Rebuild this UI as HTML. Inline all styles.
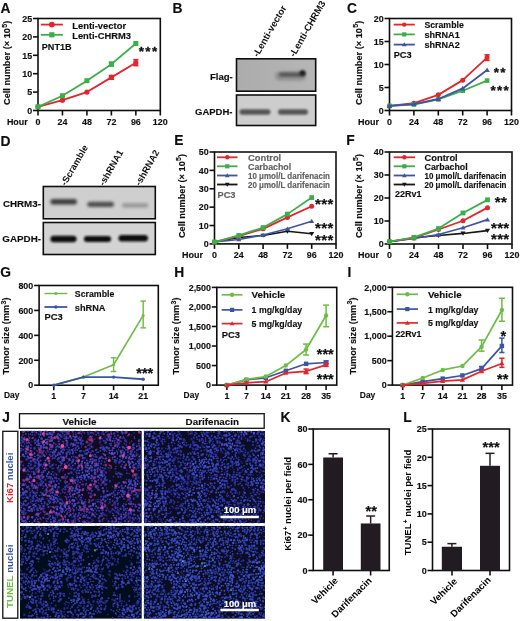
<!DOCTYPE html>
<html><head><meta charset="utf-8"><title>Figure</title>
<style>html,body{margin:0;padding:0;background:#fff;width:520px;height:621px;overflow:hidden} svg{display:block}</style>
</head><body><svg width="520" height="621" viewBox="0 0 520 621" font-family="Liberation Sans, Arial, sans-serif"><defs>
<filter id="cb" x="-5%" y="-5%" width="110%" height="110%"><feGaussianBlur stdDeviation="0.45"/></filter>
<filter id="blur1" x="-30%" y="-100%" width="160%" height="300%"><feGaussianBlur stdDeviation="0.8"/></filter>
<filter id="blur2" x="-30%" y="-100%" width="160%" height="300%"><feGaussianBlur stdDeviation="1.4"/></filter>
<linearGradient id="gB1" x1="0" y1="0" x2="1" y2="0"><stop offset="0" stop-color="#acacac"/><stop offset="0.5" stop-color="#b1b1b1"/><stop offset="1" stop-color="#b6b6b6"/></linearGradient>
<filter id="soft" x="0" y="0" width="100%" height="100%"><feGaussianBlur stdDeviation="0.3"/></filter></defs><g filter="url(#soft)"><rect width="520" height="621" fill="#fff"/><text x="0.50" y="13.40" font-size="13.8" font-weight="bold" text-anchor="start" fill="#111"  stroke="#111" stroke-width="0.15">A</text>
<rect x="38.00" y="18.50" width="122.30" height="92.00" fill="none" stroke="#111" stroke-width="1.6" />
<line x1="33.00" y1="110.50" x2="38.00" y2="110.50" stroke="#111" stroke-width="1.6" />
<text transform="translate(32.20,113.75) scale(0.96,1)" font-size="9.3" font-weight="bold" text-anchor="end" fill="#111"  stroke="#111" stroke-width="0.15">0</text>
<line x1="33.00" y1="92.10" x2="38.00" y2="92.10" stroke="#111" stroke-width="1.6" />
<text transform="translate(32.20,95.35) scale(0.96,1)" font-size="9.3" font-weight="bold" text-anchor="end" fill="#111"  stroke="#111" stroke-width="0.15">5</text>
<line x1="33.00" y1="73.70" x2="38.00" y2="73.70" stroke="#111" stroke-width="1.6" />
<text transform="translate(32.20,76.95) scale(0.96,1)" font-size="9.3" font-weight="bold" text-anchor="end" fill="#111"  stroke="#111" stroke-width="0.15">10</text>
<line x1="33.00" y1="55.30" x2="38.00" y2="55.30" stroke="#111" stroke-width="1.6" />
<text transform="translate(32.20,58.55) scale(0.96,1)" font-size="9.3" font-weight="bold" text-anchor="end" fill="#111"  stroke="#111" stroke-width="0.15">15</text>
<line x1="33.00" y1="36.90" x2="38.00" y2="36.90" stroke="#111" stroke-width="1.6" />
<text transform="translate(32.20,40.16) scale(0.96,1)" font-size="9.3" font-weight="bold" text-anchor="end" fill="#111"  stroke="#111" stroke-width="0.15">20</text>
<line x1="33.00" y1="18.50" x2="38.00" y2="18.50" stroke="#111" stroke-width="1.6" />
<text transform="translate(32.20,21.75) scale(0.96,1)" font-size="9.3" font-weight="bold" text-anchor="end" fill="#111"  stroke="#111" stroke-width="0.15">25</text>
<line x1="38.00" y1="110.50" x2="38.00" y2="115.50" stroke="#111" stroke-width="1.6" />
<text transform="translate(38.00,124.90) scale(0.96,1)" font-size="9.3" font-weight="bold" text-anchor="middle" fill="#111"  stroke="#111" stroke-width="0.15">0</text>
<line x1="62.46" y1="110.50" x2="62.46" y2="115.50" stroke="#111" stroke-width="1.6" />
<text transform="translate(62.46,124.90) scale(0.96,1)" font-size="9.3" font-weight="bold" text-anchor="middle" fill="#111"  stroke="#111" stroke-width="0.15">24</text>
<line x1="86.92" y1="110.50" x2="86.92" y2="115.50" stroke="#111" stroke-width="1.6" />
<text transform="translate(86.92,124.90) scale(0.96,1)" font-size="9.3" font-weight="bold" text-anchor="middle" fill="#111"  stroke="#111" stroke-width="0.15">48</text>
<line x1="111.38" y1="110.50" x2="111.38" y2="115.50" stroke="#111" stroke-width="1.6" />
<text transform="translate(111.38,124.90) scale(0.96,1)" font-size="9.3" font-weight="bold" text-anchor="middle" fill="#111"  stroke="#111" stroke-width="0.15">72</text>
<line x1="135.84" y1="110.50" x2="135.84" y2="115.50" stroke="#111" stroke-width="1.6" />
<text transform="translate(135.84,124.90) scale(0.96,1)" font-size="9.3" font-weight="bold" text-anchor="middle" fill="#111"  stroke="#111" stroke-width="0.15">96</text>
<line x1="160.30" y1="110.50" x2="160.30" y2="115.50" stroke="#111" stroke-width="1.6" />
<text transform="translate(160.30,124.90) scale(0.96,1)" font-size="9.3" font-weight="bold" text-anchor="middle" fill="#111"  stroke="#111" stroke-width="0.15">120</text>
<text x="6.90" y="124.90" font-size="9.84" font-weight="bold" text-anchor="start" fill="#111" textLength="20.8" lengthAdjust="spacingAndGlyphs"  stroke="#111" stroke-width="0.15">Hour</text>
<text transform="translate(10.00,62.90) rotate(-90)" font-size="9.2" font-weight="bold" text-anchor="middle" fill="#111" stroke="#111" stroke-width="0.15">Cell number (× 10<tspan dx="0.4" dy="-3.4" font-size="7">5</tspan><tspan dy="3.4">)</tspan></text>
<polyline points="38.00,106.82 62.46,100.20 86.92,92.10 111.38,77.38 135.84,62.66" fill="none" stroke="#e2252b" stroke-width="1.8" stroke-linejoin="round"/>
<line x1="135.84" y1="59.72" x2="135.84" y2="65.60" stroke="#e2252b" stroke-width="1.62" />
<line x1="133.24" y1="59.72" x2="138.44" y2="59.72" stroke="#e2252b" stroke-width="1.62" />
<line x1="133.24" y1="65.60" x2="138.44" y2="65.60" stroke="#e2252b" stroke-width="1.62" />
<line x1="111.38" y1="75.54" x2="111.38" y2="79.22" stroke="#e2252b" stroke-width="1.62" />
<line x1="108.78" y1="75.54" x2="113.98" y2="75.54" stroke="#e2252b" stroke-width="1.62" />
<line x1="108.78" y1="79.22" x2="113.98" y2="79.22" stroke="#e2252b" stroke-width="1.62" />
<circle cx="38.00" cy="106.82" r="2.60" fill="#e2252b"/>
<circle cx="62.46" cy="100.20" r="2.60" fill="#e2252b"/>
<circle cx="86.92" cy="92.10" r="2.60" fill="#e2252b"/>
<circle cx="111.38" cy="77.38" r="2.60" fill="#e2252b"/>
<circle cx="135.84" cy="62.66" r="2.60" fill="#e2252b"/>
<polyline points="38.00,106.82 62.46,95.78 86.92,80.69 111.38,64.13 135.84,43.52" fill="none" stroke="#3aae49" stroke-width="1.8" stroke-linejoin="round"/>
<line x1="111.38" y1="62.29" x2="111.38" y2="65.97" stroke="#3aae49" stroke-width="1.62" />
<line x1="108.78" y1="62.29" x2="113.98" y2="62.29" stroke="#3aae49" stroke-width="1.62" />
<line x1="108.78" y1="65.97" x2="113.98" y2="65.97" stroke="#3aae49" stroke-width="1.62" />
<rect x="35.50" y="104.32" width="5.00" height="5.00" fill="#3aae49"/>
<rect x="59.96" y="93.28" width="5.00" height="5.00" fill="#3aae49"/>
<rect x="84.42" y="78.19" width="5.00" height="5.00" fill="#3aae49"/>
<rect x="108.88" y="61.63" width="5.00" height="5.00" fill="#3aae49"/>
<rect x="133.34" y="41.02" width="5.00" height="5.00" fill="#3aae49"/>
<line x1="40.80" y1="24.60" x2="62.90" y2="24.60" stroke="#e2252b" stroke-width="1.8" />
<circle cx="51.85" cy="24.60" r="2.90" fill="#e2252b"/>
<text x="72.20" y="28.59" font-size="9.7" font-weight="bold" text-anchor="start" fill="#111" textLength="54" lengthAdjust="spacingAndGlyphs"  stroke="#111" stroke-width="0.15">Lenti-vector</text>
<line x1="40.80" y1="34.80" x2="62.90" y2="34.80" stroke="#3aae49" stroke-width="1.8" />
<rect x="49.25" y="32.20" width="5.20" height="5.20" fill="#3aae49"/>
<text x="72.20" y="38.79" font-size="9.7" font-weight="bold" text-anchor="start" fill="#111" textLength="58.8" lengthAdjust="spacingAndGlyphs"  stroke="#111" stroke-width="0.15">Lenti-CHRM3</text>
<text x="41.80" y="50.20" font-size="9.84" font-weight="bold" text-anchor="start" fill="#111" textLength="29.8" lengthAdjust="spacingAndGlyphs"  stroke="#111" stroke-width="0.15">PNT1B</text>
<text x="138.80" y="56.41" font-size="13.5" font-weight="bold" text-anchor="start" fill="#111" letter-spacing="1.3" stroke="#111" stroke-width="0.3">***</text>
<text x="172.40" y="13.40" font-size="13.8" font-weight="bold" text-anchor="start" fill="#111"  stroke="#111" stroke-width="0.15">B</text>
<rect x="236.5" y="58.8" width="79.2" height="32.4" fill="#ababab" stroke="#111" stroke-width="1.6"/>
<rect x="238" y="60.3" width="76.2" height="29.4" fill="url(#gB1)"/>
<rect x="275.0" y="71.5" width="31.0" height="9.0" rx="4.5" fill="#8e8e8e" filter="url(#blur2)"/>
<rect x="279.0" y="72.5" width="26.0" height="4.2" rx="2.1" fill="#5a5a5a" filter="url(#blur1)"/>
<ellipse cx="302.6" cy="72.9" rx="3" ry="2.6" fill="#1a1a1a" filter="url(#blur1)"/>
<rect x="236.5" y="95" width="79.2" height="30.5" fill="#cdcdcd" stroke="#111" stroke-width="1.6"/>
<rect x="239.5" y="109.2" width="31.0" height="5.5" rx="2.8" fill="#555" filter="url(#blur1)"/>
<rect x="278.0" y="109.2" width="30.0" height="5.5" rx="2.8" fill="#555" filter="url(#blur1)"/>
<text x="232.80" y="80.40" font-size="9.6" font-weight="bold" text-anchor="end" fill="#111"  stroke="#111" stroke-width="0.15">Flag-</text>
<text x="232.50" y="115.20" font-size="9.5" font-weight="bold" text-anchor="end" fill="#111"  stroke="#111" stroke-width="0.15">GAPDH-</text>
<text transform="translate(258,57.5) rotate(-60)" font-size="9.5" font-weight="bold" fill="#111">-Lenti-vector</text>
<text transform="translate(294.5,57.5) rotate(-60)" font-size="9.5" font-weight="bold" fill="#111">-Lenti-CHRM3</text>
<text x="346.90" y="13.40" font-size="13.8" font-weight="bold" text-anchor="start" fill="#111"  stroke="#111" stroke-width="0.15">C</text>
<rect x="389.50" y="18.50" width="122.00" height="92.00" fill="none" stroke="#111" stroke-width="1.6" />
<line x1="384.50" y1="110.50" x2="389.50" y2="110.50" stroke="#111" stroke-width="1.6" />
<text transform="translate(383.70,113.75) scale(0.96,1)" font-size="9.3" font-weight="bold" text-anchor="end" fill="#111"  stroke="#111" stroke-width="0.15">0</text>
<line x1="384.50" y1="87.50" x2="389.50" y2="87.50" stroke="#111" stroke-width="1.6" />
<text transform="translate(383.70,90.75) scale(0.96,1)" font-size="9.3" font-weight="bold" text-anchor="end" fill="#111"  stroke="#111" stroke-width="0.15">5</text>
<line x1="384.50" y1="64.50" x2="389.50" y2="64.50" stroke="#111" stroke-width="1.6" />
<text transform="translate(383.70,67.75) scale(0.96,1)" font-size="9.3" font-weight="bold" text-anchor="end" fill="#111"  stroke="#111" stroke-width="0.15">10</text>
<line x1="384.50" y1="41.50" x2="389.50" y2="41.50" stroke="#111" stroke-width="1.6" />
<text transform="translate(383.70,44.76) scale(0.96,1)" font-size="9.3" font-weight="bold" text-anchor="end" fill="#111"  stroke="#111" stroke-width="0.15">15</text>
<line x1="384.50" y1="18.50" x2="389.50" y2="18.50" stroke="#111" stroke-width="1.6" />
<text transform="translate(383.70,21.75) scale(0.96,1)" font-size="9.3" font-weight="bold" text-anchor="end" fill="#111"  stroke="#111" stroke-width="0.15">20</text>
<line x1="389.50" y1="110.50" x2="389.50" y2="115.50" stroke="#111" stroke-width="1.6" />
<text transform="translate(389.50,124.90) scale(0.96,1)" font-size="9.3" font-weight="bold" text-anchor="middle" fill="#111"  stroke="#111" stroke-width="0.15">0</text>
<line x1="413.90" y1="110.50" x2="413.90" y2="115.50" stroke="#111" stroke-width="1.6" />
<text transform="translate(413.90,124.90) scale(0.96,1)" font-size="9.3" font-weight="bold" text-anchor="middle" fill="#111"  stroke="#111" stroke-width="0.15">24</text>
<line x1="438.30" y1="110.50" x2="438.30" y2="115.50" stroke="#111" stroke-width="1.6" />
<text transform="translate(438.30,124.90) scale(0.96,1)" font-size="9.3" font-weight="bold" text-anchor="middle" fill="#111"  stroke="#111" stroke-width="0.15">48</text>
<line x1="462.70" y1="110.50" x2="462.70" y2="115.50" stroke="#111" stroke-width="1.6" />
<text transform="translate(462.70,124.90) scale(0.96,1)" font-size="9.3" font-weight="bold" text-anchor="middle" fill="#111"  stroke="#111" stroke-width="0.15">72</text>
<line x1="487.10" y1="110.50" x2="487.10" y2="115.50" stroke="#111" stroke-width="1.6" />
<text transform="translate(487.10,124.90) scale(0.96,1)" font-size="9.3" font-weight="bold" text-anchor="middle" fill="#111"  stroke="#111" stroke-width="0.15">96</text>
<line x1="511.50" y1="110.50" x2="511.50" y2="115.50" stroke="#111" stroke-width="1.6" />
<text transform="translate(511.50,124.90) scale(0.96,1)" font-size="9.3" font-weight="bold" text-anchor="middle" fill="#111"  stroke="#111" stroke-width="0.15">120</text>
<text x="358.00" y="124.90" font-size="9.84" font-weight="bold" text-anchor="start" fill="#111" textLength="21" lengthAdjust="spacingAndGlyphs"  stroke="#111" stroke-width="0.15">Hour</text>
<text transform="translate(361.50,62.90) rotate(-90)" font-size="9.2" font-weight="bold" text-anchor="middle" fill="#111" stroke="#111" stroke-width="0.15">Cell number (× 10<tspan dx="0.4" dy="-3.4" font-size="7">5</tspan><tspan dy="3.4">)</tspan></text>
<polyline points="389.50,105.90 413.90,103.14 438.30,94.86 462.70,80.14 487.10,57.60" fill="none" stroke="#e2252b" stroke-width="1.8" stroke-linejoin="round"/>
<line x1="487.10" y1="54.84" x2="487.10" y2="60.36" stroke="#e2252b" stroke-width="1.62" />
<line x1="484.50" y1="54.84" x2="489.70" y2="54.84" stroke="#e2252b" stroke-width="1.62" />
<line x1="484.50" y1="60.36" x2="489.70" y2="60.36" stroke="#e2252b" stroke-width="1.62" />
<circle cx="389.50" cy="105.90" r="2.50" fill="#e2252b"/>
<circle cx="413.90" cy="103.14" r="2.50" fill="#e2252b"/>
<circle cx="438.30" cy="94.86" r="2.50" fill="#e2252b"/>
<circle cx="462.70" cy="80.14" r="2.50" fill="#e2252b"/>
<circle cx="487.10" cy="57.60" r="2.50" fill="#e2252b"/>
<polyline points="389.50,105.90 413.90,104.52 438.30,99.46 462.70,90.72 487.10,80.60" fill="none" stroke="#3aae49" stroke-width="1.8" stroke-linejoin="round"/>
<rect x="387.20" y="103.60" width="4.60" height="4.60" fill="#3aae49"/>
<rect x="411.60" y="102.22" width="4.60" height="4.60" fill="#3aae49"/>
<rect x="436.00" y="97.16" width="4.60" height="4.60" fill="#3aae49"/>
<rect x="460.40" y="88.42" width="4.60" height="4.60" fill="#3aae49"/>
<rect x="484.80" y="78.30" width="4.60" height="4.60" fill="#3aae49"/>
<polyline points="389.50,105.90 413.90,104.06 438.30,99.00 462.70,88.42 487.10,70.02" fill="none" stroke="#3b55a5" stroke-width="1.8" stroke-linejoin="round"/>
<polygon points="389.50,103.26 392.26,107.88 386.74,107.88" fill="#3b55a5"/>
<polygon points="413.90,101.42 416.66,106.04 411.14,106.04" fill="#3b55a5"/>
<polygon points="438.30,96.36 441.06,100.98 435.54,100.98" fill="#3b55a5"/>
<polygon points="462.70,85.78 465.46,90.40 459.94,90.40" fill="#3b55a5"/>
<polygon points="487.10,67.38 489.86,72.00 484.34,72.00" fill="#3b55a5"/>
<line x1="393.70" y1="24.60" x2="414.80" y2="24.60" stroke="#e2252b" stroke-width="1.8" />
<circle cx="404.25" cy="24.60" r="2.20" fill="#e2252b"/>
<text x="424.40" y="28.18" font-size="9.95" font-weight="bold" text-anchor="start" fill="#111" textLength="39.4" lengthAdjust="spacingAndGlyphs"  stroke="#111" stroke-width="0.15">Scramble</text>
<line x1="393.70" y1="34.40" x2="414.80" y2="34.40" stroke="#3aae49" stroke-width="1.8" />
<rect x="402.15" y="32.30" width="4.20" height="4.20" fill="#3aae49"/>
<text x="424.40" y="37.98" font-size="9.95" font-weight="bold" text-anchor="start" fill="#111" textLength="35.3" lengthAdjust="spacingAndGlyphs"  stroke="#111" stroke-width="0.15">shRNA1</text>
<line x1="393.70" y1="44.60" x2="414.80" y2="44.60" stroke="#3b55a5" stroke-width="1.8" />
<polygon points="404.25,42.29 406.67,46.33 401.83,46.33" fill="#3b55a5"/>
<text x="424.40" y="48.18" font-size="9.95" font-weight="bold" text-anchor="start" fill="#111" textLength="35.3" lengthAdjust="spacingAndGlyphs"  stroke="#111" stroke-width="0.15">shRNA2</text>
<text x="393.70" y="58.30" font-size="9.84" font-weight="bold" text-anchor="start" fill="#111" textLength="18" lengthAdjust="spacingAndGlyphs"  stroke="#111" stroke-width="0.15">PC3</text>
<text x="493.80" y="77.11" font-size="13.5" font-weight="bold" text-anchor="start" fill="#111" letter-spacing="1.3" stroke="#111" stroke-width="0.3">**</text>
<text x="490.40" y="94.92" font-size="13.5" font-weight="bold" text-anchor="start" fill="#111" letter-spacing="1.3" stroke="#111" stroke-width="0.3">***</text>
<text x="0.40" y="145.80" font-size="13.8" font-weight="bold" text-anchor="start" fill="#111"  stroke="#111" stroke-width="0.15">D</text>
<rect x="43.3" y="186.5" width="112" height="32.3" fill="#cfcfcf" stroke="#111" stroke-width="1.6"/>
<rect x="50.4" y="199.0" width="26.6" height="5.6" rx="2.8" fill="#3c3c3c" filter="url(#blur2)"/>
<rect x="87.3" y="201.7" width="26.7" height="5.2" rx="2.6" fill="#4e4e4e" filter="url(#blur2)"/>
<rect x="122.0" y="202.9" width="26.5" height="4.8" rx="2.4" fill="#9a9a9a" filter="url(#blur2)"/>
<rect x="43.3" y="222.5" width="112" height="32" fill="#d3d3d3" stroke="#111" stroke-width="1.6"/>
<rect x="50.4" y="235.7" width="26.1" height="6.6" rx="3.3" fill="#0e0e0e" filter="url(#blur1)"/>
<rect x="83.9" y="235.9" width="27.2" height="6.0" rx="3.0" fill="#0e0e0e" filter="url(#blur1)"/>
<rect x="118.5" y="234.9" width="29.5" height="6.6" rx="3.3" fill="#0e0e0e" filter="url(#blur1)"/>
<text x="41.00" y="206.60" font-size="9.8" font-weight="bold" text-anchor="end" fill="#111"  stroke="#111" stroke-width="0.15">CHRM3-</text>
<text x="41.00" y="242.40" font-size="9.8" font-weight="bold" text-anchor="end" fill="#111"  stroke="#111" stroke-width="0.15">GAPDH-</text>
<text transform="translate(65.8,186.3) rotate(-60)" font-size="9.3" font-weight="bold" fill="#111">-Scramble</text>
<text transform="translate(104,186.3) rotate(-60)" font-size="9.3" font-weight="bold" fill="#111">-shRNA1</text>
<text transform="translate(140,186.3) rotate(-60)" font-size="9.3" font-weight="bold" fill="#111">-shRNA2</text>
<text x="174.20" y="145.20" font-size="13.8" font-weight="bold" text-anchor="start" fill="#111"  stroke="#111" stroke-width="0.15">E</text>
<rect x="214.50" y="152.00" width="121.50" height="91.90" fill="none" stroke="#111" stroke-width="1.6" />
<line x1="209.50" y1="243.90" x2="214.50" y2="243.90" stroke="#111" stroke-width="1.6" />
<text transform="translate(208.70,247.16) scale(0.96,1)" font-size="9.3" font-weight="bold" text-anchor="end" fill="#111"  stroke="#111" stroke-width="0.15">0</text>
<line x1="209.50" y1="225.52" x2="214.50" y2="225.52" stroke="#111" stroke-width="1.6" />
<text transform="translate(208.70,228.78) scale(0.96,1)" font-size="9.3" font-weight="bold" text-anchor="end" fill="#111"  stroke="#111" stroke-width="0.15">10</text>
<line x1="209.50" y1="207.14" x2="214.50" y2="207.14" stroke="#111" stroke-width="1.6" />
<text transform="translate(208.70,210.40) scale(0.96,1)" font-size="9.3" font-weight="bold" text-anchor="end" fill="#111"  stroke="#111" stroke-width="0.15">20</text>
<line x1="209.50" y1="188.76" x2="214.50" y2="188.76" stroke="#111" stroke-width="1.6" />
<text transform="translate(208.70,192.01) scale(0.96,1)" font-size="9.3" font-weight="bold" text-anchor="end" fill="#111"  stroke="#111" stroke-width="0.15">30</text>
<line x1="209.50" y1="170.38" x2="214.50" y2="170.38" stroke="#111" stroke-width="1.6" />
<text transform="translate(208.70,173.63) scale(0.96,1)" font-size="9.3" font-weight="bold" text-anchor="end" fill="#111"  stroke="#111" stroke-width="0.15">40</text>
<line x1="209.50" y1="152.00" x2="214.50" y2="152.00" stroke="#111" stroke-width="1.6" />
<text transform="translate(208.70,155.25) scale(0.96,1)" font-size="9.3" font-weight="bold" text-anchor="end" fill="#111"  stroke="#111" stroke-width="0.15">50</text>
<line x1="214.50" y1="243.90" x2="214.50" y2="248.90" stroke="#111" stroke-width="1.6" />
<text transform="translate(214.50,258.30) scale(0.96,1)" font-size="9.3" font-weight="bold" text-anchor="middle" fill="#111"  stroke="#111" stroke-width="0.15">0</text>
<line x1="238.80" y1="243.90" x2="238.80" y2="248.90" stroke="#111" stroke-width="1.6" />
<text transform="translate(238.80,258.30) scale(0.96,1)" font-size="9.3" font-weight="bold" text-anchor="middle" fill="#111"  stroke="#111" stroke-width="0.15">24</text>
<line x1="263.10" y1="243.90" x2="263.10" y2="248.90" stroke="#111" stroke-width="1.6" />
<text transform="translate(263.10,258.30) scale(0.96,1)" font-size="9.3" font-weight="bold" text-anchor="middle" fill="#111"  stroke="#111" stroke-width="0.15">48</text>
<line x1="287.40" y1="243.90" x2="287.40" y2="248.90" stroke="#111" stroke-width="1.6" />
<text transform="translate(287.40,258.30) scale(0.96,1)" font-size="9.3" font-weight="bold" text-anchor="middle" fill="#111"  stroke="#111" stroke-width="0.15">72</text>
<line x1="311.70" y1="243.90" x2="311.70" y2="248.90" stroke="#111" stroke-width="1.6" />
<text transform="translate(311.70,258.30) scale(0.96,1)" font-size="9.3" font-weight="bold" text-anchor="middle" fill="#111"  stroke="#111" stroke-width="0.15">96</text>
<line x1="336.00" y1="243.90" x2="336.00" y2="248.90" stroke="#111" stroke-width="1.6" />
<text transform="translate(336.00,258.30) scale(0.96,1)" font-size="9.3" font-weight="bold" text-anchor="middle" fill="#111"  stroke="#111" stroke-width="0.15">120</text>
<text x="182.00" y="258.00" font-size="9.84" font-weight="bold" text-anchor="start" fill="#111" textLength="21" lengthAdjust="spacingAndGlyphs"  stroke="#111" stroke-width="0.15">Hour</text>
<text transform="translate(184.60,196.00) rotate(-90)" font-size="9.2" font-weight="bold" text-anchor="middle" fill="#111" stroke="#111" stroke-width="0.15">Cell number (× 10<tspan dx="0.4" dy="-3.4" font-size="7">5</tspan><tspan dy="3.4">)</tspan></text>
<polyline points="214.50,242.06 238.80,237.47 263.10,235.45 287.40,231.22 311.70,233.79" fill="none" stroke="#151515" stroke-width="1.6" stroke-linejoin="round"/>
<polygon points="214.50,244.48 217.03,240.25 211.97,240.25" fill="#151515"/>
<polygon points="238.80,239.89 241.33,235.65 236.27,235.65" fill="#151515"/>
<polygon points="263.10,237.87 265.63,233.63 260.57,233.63" fill="#151515"/>
<polygon points="287.40,233.64 289.93,229.40 284.87,229.40" fill="#151515"/>
<polygon points="311.70,236.21 314.23,231.98 309.17,231.98" fill="#151515"/>
<polyline points="214.50,242.06 238.80,239.49 263.10,235.08 287.40,228.83 311.70,221.29" fill="none" stroke="#3b55a5" stroke-width="1.6" stroke-linejoin="round"/>
<polygon points="214.50,239.64 217.03,243.88 211.97,243.88" fill="#3b55a5"/>
<polygon points="238.80,237.07 241.33,241.30 236.27,241.30" fill="#3b55a5"/>
<polygon points="263.10,232.66 265.63,236.89 260.57,236.89" fill="#3b55a5"/>
<polygon points="287.40,226.41 289.93,230.64 284.87,230.64" fill="#3b55a5"/>
<polygon points="311.70,218.87 314.23,223.11 309.17,223.11" fill="#3b55a5"/>
<polyline points="214.50,242.06 238.80,236.18 263.10,228.83 287.40,217.43 311.70,206.22" fill="none" stroke="#e2252b" stroke-width="1.8" stroke-linejoin="round"/>
<circle cx="214.50" cy="242.06" r="2.50" fill="#e2252b"/>
<circle cx="238.80" cy="236.18" r="2.50" fill="#e2252b"/>
<circle cx="263.10" cy="228.83" r="2.50" fill="#e2252b"/>
<circle cx="287.40" cy="217.43" r="2.50" fill="#e2252b"/>
<circle cx="311.70" cy="206.22" r="2.50" fill="#e2252b"/>
<polyline points="214.50,242.06 238.80,235.45 263.10,227.54 287.40,214.12 311.70,197.58" fill="none" stroke="#3aae49" stroke-width="1.8" stroke-linejoin="round"/>
<rect x="212.10" y="239.66" width="4.80" height="4.80" fill="#3aae49"/>
<rect x="236.40" y="233.05" width="4.80" height="4.80" fill="#3aae49"/>
<rect x="260.70" y="225.14" width="4.80" height="4.80" fill="#3aae49"/>
<rect x="285.00" y="211.72" width="4.80" height="4.80" fill="#3aae49"/>
<rect x="309.30" y="195.18" width="4.80" height="4.80" fill="#3aae49"/>
<line x1="217.00" y1="157.30" x2="237.50" y2="157.30" stroke="#e2252b" stroke-width="1.8" />
<circle cx="227.25" cy="157.30" r="2.20" fill="#e2252b"/>
<text x="248.00" y="160.69" font-size="9.42" font-weight="bold" text-anchor="start" fill="#606060" textLength="33.2" lengthAdjust="spacingAndGlyphs"  stroke="#606060" stroke-width="0.15">Control</text>
<line x1="217.00" y1="166.30" x2="237.50" y2="166.30" stroke="#3aae49" stroke-width="1.8" />
<rect x="225.15" y="164.20" width="4.20" height="4.20" fill="#3aae49"/>
<text x="248.00" y="169.69" font-size="9.42" font-weight="bold" text-anchor="start" fill="#606060" textLength="43.2" lengthAdjust="spacingAndGlyphs"  stroke="#606060" stroke-width="0.15">Carbachol</text>
<line x1="217.00" y1="175.50" x2="237.50" y2="175.50" stroke="#3b55a5" stroke-width="1.8" />
<polygon points="227.25,173.30 229.55,177.15 224.95,177.15" fill="#3b55a5"/>
<text x="248.00" y="178.81" font-size="9.2" font-weight="bold" text-anchor="start" fill="#606060" textLength="82" lengthAdjust="spacingAndGlyphs"  stroke="#606060" stroke-width="0.15">10 μmol/L darifenacin</text>
<line x1="217.00" y1="184.50" x2="237.50" y2="184.50" stroke="#151515" stroke-width="1.8" />
<polygon points="227.25,186.70 229.55,182.85 224.95,182.85" fill="#151515"/>
<text x="248.00" y="187.81" font-size="9.2" font-weight="bold" text-anchor="start" fill="#606060" textLength="82" lengthAdjust="spacingAndGlyphs"  stroke="#606060" stroke-width="0.15">20 μmol/L darifenacin</text>
<text x="217.50" y="198.00" font-size="9.84" font-weight="bold" text-anchor="start" fill="#606060" textLength="18" lengthAdjust="spacingAndGlyphs"  stroke="#606060" stroke-width="0.15">PC3</text>
<text x="315.10" y="209.35" font-size="15" font-weight="bold" text-anchor="start" fill="#111" letter-spacing="0.4" stroke="#111" stroke-width="0.2">***</text>
<text x="315.10" y="233.15" font-size="15" font-weight="bold" text-anchor="start" fill="#111" letter-spacing="0.4" stroke="#111" stroke-width="0.2">***</text>
<text x="315.10" y="245.15" font-size="15" font-weight="bold" text-anchor="start" fill="#111" letter-spacing="0.4" stroke="#111" stroke-width="0.2">***</text>
<text x="346.20" y="145.20" font-size="13.8" font-weight="bold" text-anchor="start" fill="#111"  stroke="#111" stroke-width="0.15">F</text>
<rect x="389.50" y="152.00" width="122.50" height="92.00" fill="none" stroke="#111" stroke-width="1.6" />
<line x1="384.50" y1="244.00" x2="389.50" y2="244.00" stroke="#111" stroke-width="1.6" />
<text transform="translate(383.70,247.25) scale(0.96,1)" font-size="9.3" font-weight="bold" text-anchor="end" fill="#111"  stroke="#111" stroke-width="0.15">0</text>
<line x1="384.50" y1="221.00" x2="389.50" y2="221.00" stroke="#111" stroke-width="1.6" />
<text transform="translate(383.70,224.25) scale(0.96,1)" font-size="9.3" font-weight="bold" text-anchor="end" fill="#111"  stroke="#111" stroke-width="0.15">10</text>
<line x1="384.50" y1="198.00" x2="389.50" y2="198.00" stroke="#111" stroke-width="1.6" />
<text transform="translate(383.70,201.25) scale(0.96,1)" font-size="9.3" font-weight="bold" text-anchor="end" fill="#111"  stroke="#111" stroke-width="0.15">20</text>
<line x1="384.50" y1="175.00" x2="389.50" y2="175.00" stroke="#111" stroke-width="1.6" />
<text transform="translate(383.70,178.25) scale(0.96,1)" font-size="9.3" font-weight="bold" text-anchor="end" fill="#111"  stroke="#111" stroke-width="0.15">30</text>
<line x1="384.50" y1="152.00" x2="389.50" y2="152.00" stroke="#111" stroke-width="1.6" />
<text transform="translate(383.70,155.25) scale(0.96,1)" font-size="9.3" font-weight="bold" text-anchor="end" fill="#111"  stroke="#111" stroke-width="0.15">40</text>
<line x1="389.50" y1="244.00" x2="389.50" y2="249.00" stroke="#111" stroke-width="1.6" />
<text transform="translate(389.50,258.40) scale(0.96,1)" font-size="9.3" font-weight="bold" text-anchor="middle" fill="#111"  stroke="#111" stroke-width="0.15">0</text>
<line x1="414.00" y1="244.00" x2="414.00" y2="249.00" stroke="#111" stroke-width="1.6" />
<text transform="translate(414.00,258.40) scale(0.96,1)" font-size="9.3" font-weight="bold" text-anchor="middle" fill="#111"  stroke="#111" stroke-width="0.15">24</text>
<line x1="438.50" y1="244.00" x2="438.50" y2="249.00" stroke="#111" stroke-width="1.6" />
<text transform="translate(438.50,258.40) scale(0.96,1)" font-size="9.3" font-weight="bold" text-anchor="middle" fill="#111"  stroke="#111" stroke-width="0.15">48</text>
<line x1="463.00" y1="244.00" x2="463.00" y2="249.00" stroke="#111" stroke-width="1.6" />
<text transform="translate(463.00,258.40) scale(0.96,1)" font-size="9.3" font-weight="bold" text-anchor="middle" fill="#111"  stroke="#111" stroke-width="0.15">72</text>
<line x1="487.50" y1="244.00" x2="487.50" y2="249.00" stroke="#111" stroke-width="1.6" />
<text transform="translate(487.50,258.40) scale(0.96,1)" font-size="9.3" font-weight="bold" text-anchor="middle" fill="#111"  stroke="#111" stroke-width="0.15">96</text>
<line x1="512.00" y1="244.00" x2="512.00" y2="249.00" stroke="#111" stroke-width="1.6" />
<text transform="translate(512.00,258.40) scale(0.96,1)" font-size="9.3" font-weight="bold" text-anchor="middle" fill="#111"  stroke="#111" stroke-width="0.15">120</text>
<text x="358.00" y="258.00" font-size="9.84" font-weight="bold" text-anchor="start" fill="#111" textLength="21" lengthAdjust="spacingAndGlyphs"  stroke="#111" stroke-width="0.15">Hour</text>
<text transform="translate(361.50,196.00) rotate(-90)" font-size="9.2" font-weight="bold" text-anchor="middle" fill="#111" stroke="#111" stroke-width="0.15">Cell number (× 10<tspan dx="0.4" dy="-3.4" font-size="7">5</tspan><tspan dy="3.4">)</tspan></text>
<polyline points="389.50,241.70 414.00,237.79 438.50,235.49 463.00,233.42 487.50,230.66" fill="none" stroke="#151515" stroke-width="1.6" stroke-linejoin="round"/>
<polygon points="389.50,244.12 392.03,239.88 386.97,239.88" fill="#151515"/>
<polygon points="414.00,240.21 416.53,235.97 411.47,235.97" fill="#151515"/>
<polygon points="438.50,237.91 441.03,233.68 435.97,233.68" fill="#151515"/>
<polygon points="463.00,235.84 465.53,231.60 460.47,231.60" fill="#151515"/>
<polygon points="487.50,233.08 490.03,228.84 484.97,228.84" fill="#151515"/>
<polyline points="389.50,241.70 414.00,238.48 438.50,234.57 463.00,227.67 487.50,219.62" fill="none" stroke="#3b55a5" stroke-width="1.6" stroke-linejoin="round"/>
<polygon points="389.50,239.28 392.03,243.51 386.97,243.51" fill="#3b55a5"/>
<polygon points="414.00,236.06 416.53,240.29 411.47,240.29" fill="#3b55a5"/>
<polygon points="438.50,232.15 441.03,236.38 435.97,236.38" fill="#3b55a5"/>
<polygon points="463.00,225.25 465.53,229.49 460.47,229.49" fill="#3b55a5"/>
<polygon points="487.50,217.20 490.03,221.44 484.97,221.44" fill="#3b55a5"/>
<polyline points="389.50,241.70 414.00,238.02 438.50,229.51 463.00,220.77 487.50,207.66" fill="none" stroke="#e2252b" stroke-width="1.8" stroke-linejoin="round"/>
<circle cx="389.50" cy="241.70" r="2.50" fill="#e2252b"/>
<circle cx="414.00" cy="238.02" r="2.50" fill="#e2252b"/>
<circle cx="438.50" cy="229.51" r="2.50" fill="#e2252b"/>
<circle cx="463.00" cy="220.77" r="2.50" fill="#e2252b"/>
<circle cx="487.50" cy="207.66" r="2.50" fill="#e2252b"/>
<polyline points="389.50,241.70 414.00,237.33 438.50,228.59 463.00,212.95 487.50,199.84" fill="none" stroke="#3aae49" stroke-width="1.8" stroke-linejoin="round"/>
<rect x="387.10" y="239.30" width="4.80" height="4.80" fill="#3aae49"/>
<rect x="411.60" y="234.93" width="4.80" height="4.80" fill="#3aae49"/>
<rect x="436.10" y="226.19" width="4.80" height="4.80" fill="#3aae49"/>
<rect x="460.60" y="210.55" width="4.80" height="4.80" fill="#3aae49"/>
<rect x="485.10" y="197.44" width="4.80" height="4.80" fill="#3aae49"/>
<line x1="393.70" y1="157.30" x2="415.00" y2="157.30" stroke="#e2252b" stroke-width="1.8" />
<circle cx="404.35" cy="157.30" r="2.20" fill="#e2252b"/>
<text x="424.50" y="160.69" font-size="9.42" font-weight="bold" text-anchor="start" fill="#111" textLength="33.2" lengthAdjust="spacingAndGlyphs"  stroke="#111" stroke-width="0.15">Control</text>
<line x1="393.70" y1="166.30" x2="415.00" y2="166.30" stroke="#3aae49" stroke-width="1.8" />
<rect x="402.25" y="164.20" width="4.20" height="4.20" fill="#3aae49"/>
<text x="424.50" y="169.69" font-size="9.42" font-weight="bold" text-anchor="start" fill="#111" textLength="43.2" lengthAdjust="spacingAndGlyphs"  stroke="#111" stroke-width="0.15">Carbachol</text>
<line x1="393.70" y1="175.50" x2="415.00" y2="175.50" stroke="#3b55a5" stroke-width="1.8" />
<polygon points="404.35,173.30 406.65,177.15 402.05,177.15" fill="#3b55a5"/>
<text x="424.50" y="178.81" font-size="9.2" font-weight="bold" text-anchor="start" fill="#111" textLength="82" lengthAdjust="spacingAndGlyphs"  stroke="#111" stroke-width="0.15">10 μmol/L darifenacin</text>
<line x1="393.70" y1="184.50" x2="415.00" y2="184.50" stroke="#151515" stroke-width="1.8" />
<polygon points="404.35,186.70 406.65,182.85 402.05,182.85" fill="#151515"/>
<text x="424.50" y="187.81" font-size="9.2" font-weight="bold" text-anchor="start" fill="#111" textLength="82" lengthAdjust="spacingAndGlyphs"  stroke="#111" stroke-width="0.15">20 μmol/L darifenacin</text>
<text x="394.90" y="197.00" font-size="9.84" font-weight="bold" text-anchor="start" fill="#111" textLength="26.5" lengthAdjust="spacingAndGlyphs"  stroke="#111" stroke-width="0.15">22Rv1</text>
<text x="494.80" y="207.25" font-size="15" font-weight="bold" text-anchor="start" fill="#111" letter-spacing="0.4" stroke="#111" stroke-width="0.2">**</text>
<text x="490.90" y="233.15" font-size="15" font-weight="bold" text-anchor="start" fill="#111" letter-spacing="0.4" stroke="#111" stroke-width="0.2">***</text>
<text x="490.90" y="243.95" font-size="15" font-weight="bold" text-anchor="start" fill="#111" letter-spacing="0.4" stroke="#111" stroke-width="0.2">***</text>
<text x="0.30" y="277.00" font-size="13.8" font-weight="bold" text-anchor="start" fill="#111"  stroke="#111" stroke-width="0.15">G</text>
<rect x="39.10" y="285.50" width="119.20" height="99.70" fill="none" stroke="#111" stroke-width="1.6" />
<line x1="34.10" y1="385.20" x2="39.10" y2="385.20" stroke="#111" stroke-width="1.6" />
<text transform="translate(33.30,388.45) scale(0.96,1)" font-size="9.3" font-weight="bold" text-anchor="end" fill="#111"  stroke="#111" stroke-width="0.15">0</text>
<line x1="34.10" y1="360.27" x2="39.10" y2="360.27" stroke="#111" stroke-width="1.6" />
<text transform="translate(33.30,363.53) scale(0.96,1)" font-size="9.3" font-weight="bold" text-anchor="end" fill="#111"  stroke="#111" stroke-width="0.15">200</text>
<line x1="34.10" y1="335.35" x2="39.10" y2="335.35" stroke="#111" stroke-width="1.6" />
<text transform="translate(33.30,338.61) scale(0.96,1)" font-size="9.3" font-weight="bold" text-anchor="end" fill="#111"  stroke="#111" stroke-width="0.15">400</text>
<line x1="34.10" y1="310.43" x2="39.10" y2="310.43" stroke="#111" stroke-width="1.6" />
<text transform="translate(33.30,313.68) scale(0.96,1)" font-size="9.3" font-weight="bold" text-anchor="end" fill="#111"  stroke="#111" stroke-width="0.15">600</text>
<line x1="34.10" y1="285.50" x2="39.10" y2="285.50" stroke="#111" stroke-width="1.6" />
<text transform="translate(33.30,288.75) scale(0.96,1)" font-size="9.3" font-weight="bold" text-anchor="end" fill="#111"  stroke="#111" stroke-width="0.15">800</text>
<line x1="53.80" y1="385.20" x2="53.80" y2="390.20" stroke="#111" stroke-width="1.6" />
<line x1="83.50" y1="385.20" x2="83.50" y2="390.20" stroke="#111" stroke-width="1.6" />
<line x1="113.60" y1="385.20" x2="113.60" y2="390.20" stroke="#111" stroke-width="1.6" />
<line x1="143.20" y1="385.20" x2="143.20" y2="390.20" stroke="#111" stroke-width="1.6" />
<text transform="translate(53.80,399.40) scale(0.96,1)" font-size="9.3" font-weight="bold" text-anchor="middle" fill="#111"  stroke="#111" stroke-width="0.15">1</text>
<text transform="translate(83.50,399.40) scale(0.96,1)" font-size="9.3" font-weight="bold" text-anchor="middle" fill="#111"  stroke="#111" stroke-width="0.15">7</text>
<text transform="translate(113.60,399.40) scale(0.96,1)" font-size="9.3" font-weight="bold" text-anchor="middle" fill="#111"  stroke="#111" stroke-width="0.15">14</text>
<text transform="translate(143.20,399.40) scale(0.96,1)" font-size="9.3" font-weight="bold" text-anchor="middle" fill="#111"  stroke="#111" stroke-width="0.15">21</text>
<text x="4.00" y="397.80" font-size="9.84" font-weight="bold" text-anchor="start" fill="#111" textLength="15.5" lengthAdjust="spacingAndGlyphs"  stroke="#111" stroke-width="0.15">Day</text>
<text transform="translate(9.00,336.00) rotate(-90)" font-size="9.2" font-weight="bold" text-anchor="middle" fill="#111" stroke="#111" stroke-width="0.15">Tumor size (mm<tspan dx="0.3" dy="-3.4" font-size="7">3</tspan><tspan dy="3.4">)</tspan></text>
<polyline points="53.80,385.20 83.50,377.10 113.60,364.76 143.20,315.41" fill="none" stroke="#6dbd45" stroke-width="1.6" stroke-linejoin="round"/>
<line x1="113.60" y1="357.78" x2="113.60" y2="371.49" stroke="#6dbd45" stroke-width="1.4400000000000002" />
<line x1="110.80" y1="357.78" x2="116.40" y2="357.78" stroke="#6dbd45" stroke-width="1.4400000000000002" />
<line x1="110.80" y1="371.49" x2="116.40" y2="371.49" stroke="#6dbd45" stroke-width="1.4400000000000002" />
<line x1="143.20" y1="301.08" x2="143.20" y2="327.87" stroke="#6dbd45" stroke-width="1.4400000000000002" />
<line x1="140.40" y1="301.08" x2="146.00" y2="301.08" stroke="#6dbd45" stroke-width="1.4400000000000002" />
<line x1="140.40" y1="327.87" x2="146.00" y2="327.87" stroke="#6dbd45" stroke-width="1.4400000000000002" />
<circle cx="53.80" cy="385.20" r="1.50" fill="#6dbd45"/>
<circle cx="83.50" cy="377.10" r="1.50" fill="#6dbd45"/>
<circle cx="113.60" cy="364.76" r="1.50" fill="#6dbd45"/>
<circle cx="143.20" cy="315.41" r="1.50" fill="#6dbd45"/>
<polyline points="53.80,385.20 83.50,377.10 113.60,377.10 143.20,379.22" fill="none" stroke="#3b55a5" stroke-width="1.9" stroke-linejoin="round"/>
<circle cx="53.80" cy="385.20" r="1.70" fill="#3b55a5"/>
<circle cx="83.50" cy="377.10" r="1.70" fill="#3b55a5"/>
<circle cx="113.60" cy="377.10" r="1.70" fill="#3b55a5"/>
<circle cx="143.20" cy="379.22" r="1.70" fill="#3b55a5"/>
<line x1="44.40" y1="293.50" x2="67.30" y2="293.50" stroke="#6dbd45" stroke-width="1.4" />
<circle cx="55.85" cy="293.50" r="1.50" fill="#6dbd45"/>
<text x="74.80" y="297.08" font-size="9.95" font-weight="bold" text-anchor="start" fill="#111" textLength="39.6" lengthAdjust="spacingAndGlyphs"  stroke="#111" stroke-width="0.15">Scramble</text>
<line x1="44.40" y1="307.00" x2="67.30" y2="307.00" stroke="#3b55a5" stroke-width="1.8" />
<circle cx="55.85" cy="307.00" r="1.70" fill="#3b55a5"/>
<text x="74.80" y="310.58" font-size="9.95" font-weight="bold" text-anchor="start" fill="#111" textLength="30.7" lengthAdjust="spacingAndGlyphs"  stroke="#111" stroke-width="0.15">shRNA</text>
<text x="44.40" y="319.80" font-size="9.84" font-weight="bold" text-anchor="start" fill="#111" textLength="18.3" lengthAdjust="spacingAndGlyphs"  stroke="#111" stroke-width="0.15">PC3</text>
<text x="136.30" y="377.50" font-size="14.5" font-weight="bold" text-anchor="start" fill="#111" letter-spacing="0" stroke="#111" stroke-width="0.2">***</text>
<text x="174.20" y="277.00" font-size="13.8" font-weight="bold" text-anchor="start" fill="#111"  stroke="#111" stroke-width="0.15">H</text>
<rect x="216.80" y="287.40" width="119.95" height="97.70" fill="none" stroke="#111" stroke-width="1.6" />
<line x1="211.80" y1="385.10" x2="216.80" y2="385.10" stroke="#111" stroke-width="1.6" />
<text transform="translate(211.00,388.36) scale(0.96,1)" font-size="9.3" font-weight="bold" text-anchor="end" fill="#111"  stroke="#111" stroke-width="0.15">0</text>
<line x1="211.80" y1="365.56" x2="216.80" y2="365.56" stroke="#111" stroke-width="1.6" />
<text transform="translate(211.00,368.81) scale(0.96,1)" font-size="9.3" font-weight="bold" text-anchor="end" fill="#111"  stroke="#111" stroke-width="0.15">500</text>
<line x1="211.80" y1="346.02" x2="216.80" y2="346.02" stroke="#111" stroke-width="1.6" />
<text transform="translate(211.00,349.27) scale(0.96,1)" font-size="9.3" font-weight="bold" text-anchor="end" fill="#111"  stroke="#111" stroke-width="0.15">1,000</text>
<line x1="211.80" y1="326.48" x2="216.80" y2="326.48" stroke="#111" stroke-width="1.6" />
<text transform="translate(211.00,329.74) scale(0.96,1)" font-size="9.3" font-weight="bold" text-anchor="end" fill="#111"  stroke="#111" stroke-width="0.15">1,500</text>
<line x1="211.80" y1="306.94" x2="216.80" y2="306.94" stroke="#111" stroke-width="1.6" />
<text transform="translate(211.00,310.19) scale(0.96,1)" font-size="9.3" font-weight="bold" text-anchor="end" fill="#111"  stroke="#111" stroke-width="0.15">2,000</text>
<line x1="211.80" y1="287.40" x2="216.80" y2="287.40" stroke="#111" stroke-width="1.6" />
<text transform="translate(211.00,290.65) scale(0.96,1)" font-size="9.3" font-weight="bold" text-anchor="end" fill="#111"  stroke="#111" stroke-width="0.15">2,500</text>
<line x1="226.90" y1="385.10" x2="226.90" y2="390.10" stroke="#111" stroke-width="1.6" />
<line x1="246.40" y1="385.10" x2="246.40" y2="390.10" stroke="#111" stroke-width="1.6" />
<line x1="265.80" y1="385.10" x2="265.80" y2="390.10" stroke="#111" stroke-width="1.6" />
<line x1="285.80" y1="385.10" x2="285.80" y2="390.10" stroke="#111" stroke-width="1.6" />
<line x1="306.10" y1="385.10" x2="306.10" y2="390.10" stroke="#111" stroke-width="1.6" />
<line x1="326.10" y1="385.10" x2="326.10" y2="390.10" stroke="#111" stroke-width="1.6" />
<text transform="translate(226.90,399.40) scale(0.96,1)" font-size="9.3" font-weight="bold" text-anchor="middle" fill="#111"  stroke="#111" stroke-width="0.15">1</text>
<text transform="translate(246.40,399.40) scale(0.96,1)" font-size="9.3" font-weight="bold" text-anchor="middle" fill="#111"  stroke="#111" stroke-width="0.15">7</text>
<text transform="translate(265.80,399.40) scale(0.96,1)" font-size="9.3" font-weight="bold" text-anchor="middle" fill="#111"  stroke="#111" stroke-width="0.15">14</text>
<text transform="translate(285.80,399.40) scale(0.96,1)" font-size="9.3" font-weight="bold" text-anchor="middle" fill="#111"  stroke="#111" stroke-width="0.15">21</text>
<text transform="translate(306.10,399.40) scale(0.96,1)" font-size="9.3" font-weight="bold" text-anchor="middle" fill="#111"  stroke="#111" stroke-width="0.15">28</text>
<text transform="translate(326.10,399.40) scale(0.96,1)" font-size="9.3" font-weight="bold" text-anchor="middle" fill="#111"  stroke="#111" stroke-width="0.15">35</text>
<text x="183.60" y="398.20" font-size="9.84" font-weight="bold" text-anchor="start" fill="#111" textLength="15.5" lengthAdjust="spacingAndGlyphs"  stroke="#111" stroke-width="0.15">Day</text>
<text transform="translate(179.30,336.00) rotate(-90)" font-size="9.2" font-weight="bold" text-anchor="middle" fill="#111" stroke="#111" stroke-width="0.15">Tumor size (mm<tspan dx="0.3" dy="-3.4" font-size="7">3</tspan><tspan dy="3.4">)</tspan></text>
<polyline points="226.90,385.10 246.40,379.90 265.80,377.79 285.80,370.80 306.10,363.80 326.10,362.51" fill="none" stroke="#3b55a5" stroke-width="1.7" stroke-linejoin="round"/>
<line x1="326.10" y1="360.87" x2="326.10" y2="364.19" stroke="#3b55a5" stroke-width="1.53" />
<line x1="323.50" y1="360.87" x2="328.70" y2="360.87" stroke="#3b55a5" stroke-width="1.53" />
<line x1="323.50" y1="364.19" x2="328.70" y2="364.19" stroke="#3b55a5" stroke-width="1.53" />
<rect x="224.70" y="382.90" width="4.40" height="4.40" fill="#3b55a5"/>
<rect x="244.20" y="377.70" width="4.40" height="4.40" fill="#3b55a5"/>
<rect x="263.60" y="375.59" width="4.40" height="4.40" fill="#3b55a5"/>
<rect x="283.60" y="368.60" width="4.40" height="4.40" fill="#3b55a5"/>
<rect x="303.90" y="361.60" width="4.40" height="4.40" fill="#3b55a5"/>
<rect x="323.90" y="360.31" width="4.40" height="4.40" fill="#3b55a5"/>
<polyline points="226.90,385.10 246.40,379.43 265.80,376.50 285.80,365.56 306.10,349.54 326.10,315.54" fill="none" stroke="#6dbd45" stroke-width="1.7" stroke-linejoin="round"/>
<line x1="306.10" y1="344.07" x2="306.10" y2="355.01" stroke="#6dbd45" stroke-width="1.53" />
<line x1="303.10" y1="344.07" x2="309.10" y2="344.07" stroke="#6dbd45" stroke-width="1.53" />
<line x1="303.10" y1="355.01" x2="309.10" y2="355.01" stroke="#6dbd45" stroke-width="1.53" />
<line x1="326.10" y1="305.10" x2="326.10" y2="326.71" stroke="#6dbd45" stroke-width="1.53" />
<line x1="323.10" y1="305.10" x2="329.10" y2="305.10" stroke="#6dbd45" stroke-width="1.53" />
<line x1="323.10" y1="326.71" x2="329.10" y2="326.71" stroke="#6dbd45" stroke-width="1.53" />
<circle cx="226.90" cy="385.10" r="2.20" fill="#6dbd45"/>
<circle cx="246.40" cy="379.43" r="2.20" fill="#6dbd45"/>
<circle cx="265.80" cy="376.50" r="2.20" fill="#6dbd45"/>
<circle cx="285.80" cy="365.56" r="2.20" fill="#6dbd45"/>
<circle cx="306.10" cy="349.54" r="2.20" fill="#6dbd45"/>
<circle cx="326.10" cy="315.54" r="2.20" fill="#6dbd45"/>
<polyline points="226.90,385.10 246.40,382.79 265.80,381.70 285.80,372.91 306.10,371.30 326.10,364.82" fill="none" stroke="#e2252b" stroke-width="1.7" stroke-linejoin="round"/>
<line x1="306.10" y1="369.08" x2="306.10" y2="373.57" stroke="#e2252b" stroke-width="1.53" />
<line x1="303.50" y1="369.08" x2="308.70" y2="369.08" stroke="#e2252b" stroke-width="1.53" />
<line x1="303.50" y1="373.57" x2="308.70" y2="373.57" stroke="#e2252b" stroke-width="1.53" />
<line x1="326.10" y1="363.22" x2="326.10" y2="366.34" stroke="#e2252b" stroke-width="1.53" />
<line x1="323.50" y1="363.22" x2="328.70" y2="363.22" stroke="#e2252b" stroke-width="1.53" />
<line x1="323.50" y1="366.34" x2="328.70" y2="366.34" stroke="#e2252b" stroke-width="1.53" />
<polygon points="226.90,382.57 229.55,387.00 224.25,387.00" fill="#e2252b"/>
<polygon points="246.40,380.26 249.05,384.69 243.75,384.69" fill="#e2252b"/>
<polygon points="265.80,379.17 268.44,383.60 263.16,383.60" fill="#e2252b"/>
<polygon points="285.80,370.38 288.44,374.80 283.16,374.80" fill="#e2252b"/>
<polygon points="306.10,368.77 308.75,373.20 303.46,373.20" fill="#e2252b"/>
<polygon points="326.10,362.29 328.75,366.71 323.46,366.71" fill="#e2252b"/>
<line x1="221.70" y1="294.80" x2="242.50" y2="294.80" stroke="#6dbd45" stroke-width="1.7" />
<circle cx="232.10" cy="294.80" r="2.20" fill="#6dbd45"/>
<text x="251.60" y="298.38" font-size="9.95" font-weight="bold" text-anchor="start" fill="#111" textLength="33.7" lengthAdjust="spacingAndGlyphs"  stroke="#111" stroke-width="0.15">Vehicle</text>
<line x1="221.70" y1="309.90" x2="242.50" y2="309.90" stroke="#3b55a5" stroke-width="1.7" />
<rect x="230.00" y="307.80" width="4.20" height="4.20" fill="#3b55a5"/>
<text x="251.60" y="313.48" font-size="9.95" font-weight="bold" text-anchor="start" fill="#111" textLength="50.6" lengthAdjust="spacingAndGlyphs"  stroke="#111" stroke-width="0.15">1 mg/kg/day</text>
<line x1="221.70" y1="323.60" x2="242.50" y2="323.60" stroke="#e2252b" stroke-width="1.7" />
<polygon points="232.10,321.29 234.51,325.33 229.69,325.33" fill="#e2252b"/>
<text x="251.60" y="327.18" font-size="9.95" font-weight="bold" text-anchor="start" fill="#111" textLength="50.6" lengthAdjust="spacingAndGlyphs"  stroke="#111" stroke-width="0.15">5 mg/kg/day</text>
<text x="221.70" y="337.70" font-size="9.84" font-weight="bold" text-anchor="start" fill="#111" textLength="18.3" lengthAdjust="spacingAndGlyphs"  stroke="#111" stroke-width="0.15">PC3</text>
<text x="316.80" y="359.11" font-size="14.5" font-weight="bold" text-anchor="start" fill="#111" letter-spacing="0" stroke="#111" stroke-width="0.2">***</text>
<text x="316.80" y="384.31" font-size="14.5" font-weight="bold" text-anchor="start" fill="#111" letter-spacing="0" stroke="#111" stroke-width="0.2">***</text>
<text x="347.40" y="277.00" font-size="13.8" font-weight="bold" text-anchor="start" fill="#111"  stroke="#111" stroke-width="0.15">I</text>
<rect x="392.40" y="287.30" width="120.10" height="97.80" fill="none" stroke="#111" stroke-width="1.6" />
<line x1="387.40" y1="385.10" x2="392.40" y2="385.10" stroke="#111" stroke-width="1.6" />
<text transform="translate(386.60,388.36) scale(0.96,1)" font-size="9.3" font-weight="bold" text-anchor="end" fill="#111"  stroke="#111" stroke-width="0.15">0</text>
<line x1="387.40" y1="360.65" x2="392.40" y2="360.65" stroke="#111" stroke-width="1.6" />
<text transform="translate(386.60,363.91) scale(0.96,1)" font-size="9.3" font-weight="bold" text-anchor="end" fill="#111"  stroke="#111" stroke-width="0.15">500</text>
<line x1="387.40" y1="336.20" x2="392.40" y2="336.20" stroke="#111" stroke-width="1.6" />
<text transform="translate(386.60,339.46) scale(0.96,1)" font-size="9.3" font-weight="bold" text-anchor="end" fill="#111"  stroke="#111" stroke-width="0.15">1,000</text>
<line x1="387.40" y1="311.75" x2="392.40" y2="311.75" stroke="#111" stroke-width="1.6" />
<text transform="translate(386.60,315.00) scale(0.96,1)" font-size="9.3" font-weight="bold" text-anchor="end" fill="#111"  stroke="#111" stroke-width="0.15">1,500</text>
<line x1="387.40" y1="287.30" x2="392.40" y2="287.30" stroke="#111" stroke-width="1.6" />
<text transform="translate(386.60,290.56) scale(0.96,1)" font-size="9.3" font-weight="bold" text-anchor="end" fill="#111"  stroke="#111" stroke-width="0.15">2,000</text>
<line x1="402.70" y1="385.10" x2="402.70" y2="390.10" stroke="#111" stroke-width="1.6" />
<line x1="422.70" y1="385.10" x2="422.70" y2="390.10" stroke="#111" stroke-width="1.6" />
<line x1="442.70" y1="385.10" x2="442.70" y2="390.10" stroke="#111" stroke-width="1.6" />
<line x1="462.40" y1="385.10" x2="462.40" y2="390.10" stroke="#111" stroke-width="1.6" />
<line x1="481.60" y1="385.10" x2="481.60" y2="390.10" stroke="#111" stroke-width="1.6" />
<line x1="501.90" y1="385.10" x2="501.90" y2="390.10" stroke="#111" stroke-width="1.6" />
<text transform="translate(402.70,399.40) scale(0.96,1)" font-size="9.3" font-weight="bold" text-anchor="middle" fill="#111"  stroke="#111" stroke-width="0.15">1</text>
<text transform="translate(422.70,399.40) scale(0.96,1)" font-size="9.3" font-weight="bold" text-anchor="middle" fill="#111"  stroke="#111" stroke-width="0.15">7</text>
<text transform="translate(442.70,399.40) scale(0.96,1)" font-size="9.3" font-weight="bold" text-anchor="middle" fill="#111"  stroke="#111" stroke-width="0.15">14</text>
<text transform="translate(462.40,399.40) scale(0.96,1)" font-size="9.3" font-weight="bold" text-anchor="middle" fill="#111"  stroke="#111" stroke-width="0.15">21</text>
<text transform="translate(481.60,399.40) scale(0.96,1)" font-size="9.3" font-weight="bold" text-anchor="middle" fill="#111"  stroke="#111" stroke-width="0.15">28</text>
<text transform="translate(501.90,399.40) scale(0.96,1)" font-size="9.3" font-weight="bold" text-anchor="middle" fill="#111"  stroke="#111" stroke-width="0.15">35</text>
<text x="359.80" y="398.20" font-size="9.84" font-weight="bold" text-anchor="start" fill="#111" textLength="15.5" lengthAdjust="spacingAndGlyphs"  stroke="#111" stroke-width="0.15">Day</text>
<text transform="translate(355.50,336.00) rotate(-90)" font-size="9.2" font-weight="bold" text-anchor="middle" fill="#111" stroke="#111" stroke-width="0.15">Tumor size (mm<tspan dx="0.3" dy="-3.4" font-size="7">3</tspan><tspan dy="3.4">)</tspan></text>
<polyline points="402.70,385.10 422.70,381.68 442.70,378.60 462.40,375.47 481.60,368.62 501.90,345.93" fill="none" stroke="#3b55a5" stroke-width="1.7" stroke-linejoin="round"/>
<line x1="481.60" y1="366.52" x2="481.60" y2="370.43" stroke="#3b55a5" stroke-width="1.53" />
<line x1="479.00" y1="366.52" x2="484.20" y2="366.52" stroke="#3b55a5" stroke-width="1.53" />
<line x1="479.00" y1="370.43" x2="484.20" y2="370.43" stroke="#3b55a5" stroke-width="1.53" />
<line x1="501.90" y1="338.11" x2="501.90" y2="352.48" stroke="#3b55a5" stroke-width="1.53" />
<line x1="499.30" y1="338.11" x2="504.50" y2="338.11" stroke="#3b55a5" stroke-width="1.53" />
<line x1="499.30" y1="352.48" x2="504.50" y2="352.48" stroke="#3b55a5" stroke-width="1.53" />
<rect x="400.50" y="382.90" width="4.40" height="4.40" fill="#3b55a5"/>
<rect x="420.50" y="379.48" width="4.40" height="4.40" fill="#3b55a5"/>
<rect x="440.50" y="376.40" width="4.40" height="4.40" fill="#3b55a5"/>
<rect x="460.20" y="373.27" width="4.40" height="4.40" fill="#3b55a5"/>
<rect x="479.40" y="366.42" width="4.40" height="4.40" fill="#3b55a5"/>
<rect x="499.70" y="343.73" width="4.40" height="4.40" fill="#3b55a5"/>
<polyline points="402.70,385.10 422.70,378.06 442.70,369.94 462.40,366.03 481.60,346.71 501.90,309.99" fill="none" stroke="#6dbd45" stroke-width="1.7" stroke-linejoin="round"/>
<line x1="481.60" y1="340.01" x2="481.60" y2="351.16" stroke="#6dbd45" stroke-width="1.53" />
<line x1="478.60" y1="340.01" x2="484.60" y2="340.01" stroke="#6dbd45" stroke-width="1.53" />
<line x1="478.60" y1="351.16" x2="484.60" y2="351.16" stroke="#6dbd45" stroke-width="1.53" />
<line x1="501.90" y1="298.25" x2="501.90" y2="321.24" stroke="#6dbd45" stroke-width="1.53" />
<line x1="498.90" y1="298.25" x2="504.90" y2="298.25" stroke="#6dbd45" stroke-width="1.53" />
<line x1="498.90" y1="321.24" x2="504.90" y2="321.24" stroke="#6dbd45" stroke-width="1.53" />
<circle cx="402.70" cy="385.10" r="2.20" fill="#6dbd45"/>
<circle cx="422.70" cy="378.06" r="2.20" fill="#6dbd45"/>
<circle cx="442.70" cy="369.94" r="2.20" fill="#6dbd45"/>
<circle cx="462.40" cy="366.03" r="2.20" fill="#6dbd45"/>
<circle cx="481.60" cy="346.71" r="2.20" fill="#6dbd45"/>
<circle cx="501.90" cy="309.99" r="2.20" fill="#6dbd45"/>
<polyline points="402.70,385.10 422.70,383.29 442.70,381.19 462.40,379.87 481.60,371.26 501.90,363.44" fill="none" stroke="#e2252b" stroke-width="1.7" stroke-linejoin="round"/>
<line x1="501.90" y1="358.21" x2="501.90" y2="367.35" stroke="#e2252b" stroke-width="1.53" />
<line x1="499.30" y1="358.21" x2="504.50" y2="358.21" stroke="#e2252b" stroke-width="1.53" />
<line x1="499.30" y1="367.35" x2="504.50" y2="367.35" stroke="#e2252b" stroke-width="1.53" />
<polygon points="402.70,382.57 405.34,387.00 400.06,387.00" fill="#e2252b"/>
<polygon points="422.70,380.76 425.34,385.19 420.06,385.19" fill="#e2252b"/>
<polygon points="442.70,378.66 445.34,383.09 440.06,383.09" fill="#e2252b"/>
<polygon points="462.40,377.34 465.04,381.77 459.75,381.77" fill="#e2252b"/>
<polygon points="481.60,368.73 484.25,373.16 478.96,373.16" fill="#e2252b"/>
<polygon points="501.90,360.91 504.54,365.33 499.25,365.33" fill="#e2252b"/>
<line x1="396.70" y1="294.30" x2="418.00" y2="294.30" stroke="#6dbd45" stroke-width="1.7" />
<circle cx="407.35" cy="294.30" r="2.20" fill="#6dbd45"/>
<text x="427.90" y="297.88" font-size="9.95" font-weight="bold" text-anchor="start" fill="#111" textLength="33.7" lengthAdjust="spacingAndGlyphs"  stroke="#111" stroke-width="0.15">Vehicle</text>
<line x1="396.70" y1="309.10" x2="418.00" y2="309.10" stroke="#3b55a5" stroke-width="1.7" />
<rect x="405.25" y="307.00" width="4.20" height="4.20" fill="#3b55a5"/>
<text x="427.90" y="312.68" font-size="9.95" font-weight="bold" text-anchor="start" fill="#111" textLength="50.6" lengthAdjust="spacingAndGlyphs"  stroke="#111" stroke-width="0.15">1 mg/kg/day</text>
<line x1="396.70" y1="322.90" x2="418.00" y2="322.90" stroke="#e2252b" stroke-width="1.7" />
<polygon points="407.35,320.59 409.77,324.63 404.94,324.63" fill="#e2252b"/>
<text x="427.90" y="326.48" font-size="9.95" font-weight="bold" text-anchor="start" fill="#111" textLength="50.6" lengthAdjust="spacingAndGlyphs"  stroke="#111" stroke-width="0.15">5 mg/kg/day</text>
<text x="395.40" y="337.00" font-size="9.84" font-weight="bold" text-anchor="start" fill="#111" textLength="26" lengthAdjust="spacingAndGlyphs"  stroke="#111" stroke-width="0.15">22Rv1</text>
<text x="500.40" y="341.11" font-size="14.5" font-weight="bold" text-anchor="start" fill="#111" letter-spacing="0" stroke="#111" stroke-width="0.2">*</text>
<text x="497.10" y="384.11" font-size="14.5" font-weight="bold" text-anchor="start" fill="#111" letter-spacing="0" stroke="#111" stroke-width="0.2">**</text>
<text x="2.30" y="421.80" font-size="13.8" font-weight="bold" text-anchor="start" fill="#111"  stroke="#111" stroke-width="0.15">J</text>
<rect x="19.50" y="413.70" width="244.70" height="14.60" fill="#fff" stroke="#111" stroke-width="1.3" />
<text x="79.50" y="424.50" font-size="9.9" font-weight="bold" text-anchor="middle" fill="#111"  stroke="#111" stroke-width="0.15">Vehicle</text>
<text x="212.30" y="424.50" font-size="9.8" font-weight="bold" text-anchor="middle" fill="#111"  stroke="#111" stroke-width="0.15">Darifenacin</text>
<rect x="2.80" y="431.30" width="15.00" height="186.90" fill="#fff" stroke="#111" stroke-width="1.3" />
<clipPath id="c11"><rect x="20" y="430.8" width="121.8" height="92.4"/></clipPath>
<g clip-path="url(#c11)">
<rect x="20" y="430.8" width="121.8" height="92.4" fill="#0c0a24"/>
<g filter="url(#cb)"><path d="M131.7 434.7h0M28.3 439.2h0M106.6 460.6h0M53.6 464.1h0M105.8 465.8h0M109.5 470.6h0M126.8 470.2h0M55.1 473.1h0M29.2 481.4h0M91.7 484.3h0M83.3 485.3h0M117.6 505.3h0M111.4 510.9h0" stroke="#28288a" stroke-width="1.5" stroke-linecap="round"/><path d="M34.7 435.0h0M100.3 441.3h0M87.9 445.4h0M48.7 459.0h0M109.6 459.2h0M119.0 463.4h0M70.5 466.6h0M68.9 474.1h0M113.4 476.4h0M126.5 479.6h0M92.5 486.5h0M60.5 493.6h0M92.6 495.2h0M29.6 496.2h0M28.5 498.5h0M89.4 500.1h0M129.7 500.8h0M113.8 504.2h0M115.3 506.3h0M107.2 508.3h0M123.6 509.1h0M20.7 511.0h0M108.5 510.5h0M106.5 515.6h0M128.9 516.0h0M92.2 519.5h0M93.2 520.5h0M99.3 519.5h0M75.5 520.9h0M111.7 523.4h0" stroke="#28288a" stroke-width="2.0" stroke-linecap="round"/><path d="M90.7 439.7h0M89.6 443.8h0M99.9 442.5h0M92.3 447.0h0M48.3 451.7h0M33.3 460.7h0M48.7 461.1h0M138.4 467.5h0M117.1 474.0h0M118.4 476.7h0M138.7 477.4h0M110.0 481.2h0M37.1 483.0h0M36.2 486.5h0M43.5 486.2h0M100.9 485.0h0M29.9 494.7h0M20.1 496.5h0M61.3 499.7h0M22.4 511.0h0M110.0 512.0h0M20.4 514.5h0M104.5 514.8h0M130.3 517.6h0M74.1 520.2h0" stroke="#28288a" stroke-width="2.5" stroke-linecap="round"/><path d="M134.2 433.0h0M81.0 433.9h0M101.3 433.7h0M109.6 434.0h0M28.7 436.2h0M82.1 435.9h0M105.2 436.9h0M122.4 438.2h0M26.2 441.5h0M31.8 441.3h0M81.8 444.9h0M73.5 448.6h0M81.4 446.9h0M66.9 449.5h0M37.1 451.8h0M96.6 452.6h0M42.0 454.9h0M62.9 454.1h0M20.6 456.5h0M52.3 456.3h0M106.1 457.2h0M94.9 459.5h0M102.5 458.5h0M140.5 459.4h0M20.0 460.5h0M141.6 463.8h0M103.5 465.3h0M136.3 468.1h0M25.0 469.3h0M58.0 469.9h0M136.5 469.8h0M75.4 471.9h0M73.3 474.6h0M77.0 475.6h0M82.5 481.2h0M80.4 482.8h0M26.3 485.5h0M112.4 486.8h0M79.5 487.4h0M106.6 488.0h0M113.4 491.3h0M118.4 490.5h0M65.0 492.3h0M139.1 493.2h0M30.7 495.5h0M67.1 494.3h0M22.5 497.8h0M24.9 497.5h0M58.6 496.4h0M23.3 498.6h0M85.4 499.6h0M96.0 499.9h0M98.0 499.2h0M85.7 501.8h0M106.0 501.1h0M126.8 501.3h0M32.0 503.7h0M108.8 503.7h0M104.9 507.5h0M117.8 507.5h0M68.8 510.2h0M69.2 512.6h0M92.1 512.2h0M122.9 512.3h0M44.6 514.7h0M52.7 515.8h0M73.8 515.7h0M38.6 516.6h0M72.2 517.0h0M80.2 518.2h0M41.1 519.8h0M87.0 520.3h0M106.8 518.8h0M126.9 519.3h0M43.7 522.6h0M71.5 522.1h0M132.6 521.1h0M141.7 521.3h0" stroke="#30309e" stroke-width="1.5" stroke-linecap="round"/><path d="M56.1 430.0h0M74.5 430.1h0M89.5 430.5h0M134.5 429.9h0M82.6 431.7h0M84.4 432.9h0M22.9 435.0h0M32.3 434.8h0M62.9 433.6h0M69.1 433.7h0M76.1 434.8h0M88.4 434.2h0M129.3 434.1h0M92.2 436.5h0M108.1 437.4h0M120.4 437.1h0M123.5 437.0h0M127.8 435.8h0M124.2 438.4h0M134.5 438.2h0M62.7 441.5h0M105.2 440.9h0M107.9 440.2h0M114.7 440.8h0M119.1 440.8h0M120.9 441.2h0M83.1 443.9h0M91.1 443.8h0M105.1 442.9h0M109.9 443.8h0M114.7 443.1h0M117.0 444.2h0M124.5 443.4h0M133.9 443.9h0M23.3 446.2h0M26.3 446.0h0M70.6 444.7h0M72.8 446.3h0M89.3 445.1h0M102.9 446.4h0M126.4 445.0h0M20.8 448.6h0M56.0 447.6h0M130.6 447.1h0M41.9 450.9h0M47.4 450.8h0M51.6 449.5h0M80.5 450.7h0M84.0 451.4h0M90.7 452.8h0M93.3 451.4h0M130.6 451.4h0M92.6 455.0h0M38.6 457.4h0M50.9 456.4h0M73.5 456.5h0M93.8 456.3h0M117.3 458.7h0M119.9 459.7h0M101.7 461.3h0M104.9 462.1h0M116.5 461.1h0M31.1 464.3h0M34.7 462.6h0M35.9 463.0h0M115.7 462.7h0M23.3 465.4h0M28.2 466.1h0M30.5 465.4h0M138.1 465.8h0M140.1 465.5h0M25.5 467.9h0M29.6 468.0h0M52.3 468.4h0M74.8 468.9h0M100.4 467.6h0M102.6 468.1h0M108.5 468.0h0M115.4 468.7h0M140.4 467.2h0M36.1 469.7h0M103.8 470.4h0M23.7 471.6h0M26.1 471.5h0M31.7 471.7h0M52.6 471.7h0M59.2 471.7h0M126.8 473.2h0M28.1 474.4h0M30.3 474.9h0M53.6 474.9h0M27.0 477.3h0M56.2 477.4h0M133.0 476.7h0M25.5 479.8h0M48.1 478.2h0M58.8 478.8h0M64.2 478.2h0M78.3 480.1h0M93.6 478.7h0M106.7 479.9h0M129.1 479.8h0M136.6 478.7h0M67.2 481.9h0M103.2 480.9h0M123.5 481.9h0M25.1 484.0h0M30.8 482.8h0M40.1 483.6h0M65.7 482.9h0M69.4 483.6h0M104.3 483.6h0M119.0 482.8h0M65.3 486.8h0M97.6 485.7h0M83.2 488.7h0M91.1 488.3h0M97.2 488.3h0M98.1 487.6h0M102.5 488.3h0M123.9 488.1h0M57.3 489.6h0M62.2 490.1h0M68.8 490.0h0M115.0 490.6h0M56.3 492.0h0M62.8 492.2h0M68.3 491.8h0M88.7 493.1h0M127.8 493.2h0M128.8 493.1h0M131.4 493.0h0M25.9 495.1h0M137.9 495.2h0M66.3 497.6h0M80.1 499.6h0M81.8 500.2h0M100.5 499.8h0M124.0 499.0h0M128.2 499.8h0M20.2 502.5h0M30.8 502.0h0M44.6 501.9h0M88.7 502.6h0M91.6 500.7h0M110.0 502.2h0M49.5 503.1h0M22.0 505.7h0M26.8 505.3h0M30.4 506.4h0M86.9 508.9h0M34.4 510.1h0M43.3 511.0h0M96.6 510.6h0M114.4 510.4h0M117.7 509.7h0M25.7 512.7h0M67.5 512.3h0M25.1 514.1h0M49.0 514.9h0M80.9 515.1h0M86.5 515.1h0M131.4 514.3h0M49.3 517.3h0M77.5 516.4h0M128.5 517.7h0M75.5 518.7h0M78.1 519.5h0M134.1 519.7h0M69.0 522.5h0M91.9 521.5h0M128.5 522.1h0M41.2 523.7h0M70.9 523.5h0M74.4 523.2h0" stroke="#30309e" stroke-width="2.0" stroke-linecap="round"/><path d="M126.7 432.0h0M141.5 433.4h0M88.5 439.2h0M21.7 440.5h0M23.4 441.7h0M34.8 440.5h0M37.2 441.2h0M80.6 440.3h0M139.1 440.2h0M142.7 441.5h0M26.9 442.9h0M110.9 445.2h0M63.4 448.7h0M69.4 450.2h0M95.9 450.0h0M67.8 452.1h0M54.5 458.1h0M35.2 462.1h0M139.2 461.2h0M34.9 465.7h0M38.7 466.3h0M50.4 466.5h0M68.8 465.3h0M24.3 468.8h0M36.8 468.6h0M125.0 467.9h0M59.9 470.1h0M101.8 470.9h0M105.8 472.6h0M133.0 471.6h0M64.3 477.1h0M142.7 478.9h0M24.6 481.1h0M34.1 481.0h0M41.5 481.2h0M54.0 481.3h0M105.3 480.6h0M102.5 483.1h0M106.1 484.2h0M66.5 485.8h0M88.0 486.2h0M121.5 485.8h0M65.2 487.6h0M107.3 491.0h0M124.8 491.8h0M114.8 494.9h0M32.8 497.0h0M33.4 498.7h0M57.2 498.8h0M117.1 501.0h0M84.5 503.2h0M130.0 504.1h0M57.6 506.8h0M122.9 505.8h0M37.2 508.6h0M43.6 508.4h0M112.6 509.2h0M24.8 509.7h0M116.6 512.0h0M36.0 514.4h0M92.3 514.1h0M87.9 517.6h0M89.8 518.1h0M60.1 520.3h0M121.3 519.0h0M90.4 522.7h0M108.6 521.5h0M125.1 521.3h0M68.7 523.6h0M114.9 523.2h0" stroke="#30309e" stroke-width="2.5" stroke-linecap="round"/><path d="M51.3 432.9h0M140.4 432.4h0M25.9 434.6h0M28.6 434.2h0M98.8 434.9h0M107.0 435.0h0M122.7 434.0h0M24.7 437.2h0M79.5 437.0h0M32.8 437.8h0M102.2 438.7h0M91.9 440.6h0M22.4 442.5h0M24.4 443.9h0M29.7 443.1h0M63.7 443.4h0M111.2 443.3h0M28.5 445.6h0M80.8 444.6h0M101.1 445.0h0M21.8 448.7h0M38.2 447.8h0M53.6 450.6h0M81.6 450.6h0M96.9 449.3h0M118.7 449.3h0M45.6 452.3h0M104.4 451.3h0M136.4 453.0h0M46.5 453.9h0M137.7 454.3h0M42.1 456.2h0M99.9 457.5h0M108.8 457.3h0M136.6 455.8h0M67.0 458.2h0M98.7 459.5h0M112.6 459.3h0M135.2 459.3h0M22.7 461.5h0M58.9 461.4h0M68.6 461.0h0M83.0 460.3h0M69.7 464.0h0M78.3 463.4h0M122.4 464.2h0M56.0 464.8h0M116.0 466.3h0M141.8 465.7h0M33.4 467.4h0M53.8 468.5h0M58.6 467.8h0M94.7 467.0h0M20.4 469.9h0M22.4 469.9h0M30.6 469.3h0M39.7 469.7h0M133.9 469.6h0M139.0 470.5h0M36.3 471.9h0M69.4 473.3h0M116.0 472.1h0M133.9 474.0h0M50.8 478.9h0M88.8 478.7h0M70.2 480.8h0M101.2 480.8h0M75.7 483.2h0M78.0 483.9h0M83.5 483.9h0M98.7 483.1h0M139.9 482.9h0M28.6 486.3h0M34.1 485.1h0M85.4 485.1h0M104.9 485.3h0M42.9 488.5h0M63.4 488.8h0M88.8 487.6h0M116.3 488.5h0M29.2 489.9h0M53.9 490.4h0M87.0 490.0h0M130.2 489.8h0M119.4 492.7h0M135.5 492.0h0M142.0 492.6h0M117.3 494.6h0M78.3 497.1h0M133.9 497.9h0M142.8 496.5h0M30.8 499.7h0M47.1 498.7h0M76.8 498.9h0M105.6 500.2h0M107.6 499.1h0M97.3 502.1h0M21.4 503.5h0M27.2 504.3h0M36.1 503.2h0M38.8 504.7h0M69.5 503.6h0M100.6 504.6h0M123.9 503.7h0M51.0 506.8h0M76.9 509.0h0M126.7 510.7h0M40.7 512.8h0M82.2 513.8h0M84.3 513.3h0M95.2 512.7h0M118.9 514.2h0M36.5 517.5h0M57.4 516.9h0M111.4 518.2h0M141.8 517.3h0M46.0 518.8h0M71.9 520.5h0M137.4 519.0h0M29.6 521.5h0" stroke="#3838b0" stroke-width="1.5" stroke-linecap="round"/><path d="M22.2 430.7h0M45.8 430.3h0M67.6 430.7h0M122.9 430.4h0M39.3 431.1h0M60.4 431.4h0M66.7 432.2h0M79.7 432.2h0M87.8 432.4h0M91.1 432.7h0M92.8 432.8h0M105.8 432.1h0M111.2 431.9h0M19.4 433.8h0M96.2 434.7h0M21.6 437.3h0M66.2 436.6h0M100.9 436.7h0M117.9 435.6h0M22.4 437.9h0M29.5 438.0h0M35.4 439.4h0M64.3 438.6h0M71.3 438.5h0M81.2 437.9h0M41.4 441.8h0M103.6 440.8h0M110.6 440.8h0M141.4 440.1h0M20.5 443.2h0M38.2 443.1h0M55.8 444.2h0M76.5 442.8h0M78.2 442.9h0M139.0 443.8h0M31.0 445.1h0M52.7 445.2h0M115.6 445.1h0M139.2 446.1h0M30.9 447.9h0M47.2 448.4h0M50.1 447.2h0M65.1 447.1h0M68.9 447.4h0M75.7 448.1h0M89.7 448.4h0M101.5 447.7h0M109.1 448.1h0M112.7 448.0h0M127.2 447.3h0M133.1 447.3h0M23.4 449.7h0M30.7 450.6h0M43.6 450.9h0M62.4 449.4h0M64.3 449.9h0M75.1 450.3h0M77.2 450.0h0M85.7 450.6h0M92.2 450.9h0M100.4 450.8h0M125.9 449.8h0M127.8 450.0h0M136.9 450.3h0M138.6 449.2h0M140.3 449.1h0M70.2 452.5h0M86.7 452.9h0M88.7 451.9h0M98.2 452.2h0M116.8 451.3h0M34.6 453.6h0M38.5 454.9h0M49.7 454.7h0M54.3 454.2h0M69.7 453.9h0M79.8 454.7h0M85.2 453.8h0M95.1 454.5h0M141.0 455.3h0M55.7 455.8h0M75.4 457.2h0M52.6 458.6h0M84.9 458.1h0M99.1 461.3h0M114.6 461.4h0M20.3 464.4h0M29.0 463.4h0M41.2 464.4h0M46.3 464.2h0M98.3 463.4h0M101.1 463.8h0M20.2 465.6h0M43.6 465.1h0M47.6 464.9h0M58.7 465.9h0M72.9 465.5h0M125.0 465.9h0M20.6 467.9h0M32.3 468.2h0M38.5 468.0h0M46.7 468.8h0M68.9 468.6h0M98.0 468.1h0M105.0 468.4h0M27.7 470.3h0M38.7 469.6h0M74.0 469.7h0M76.9 470.6h0M88.1 470.6h0M131.6 470.1h0M41.6 472.6h0M43.4 472.3h0M76.8 473.3h0M118.6 472.8h0M38.0 475.4h0M65.2 474.7h0M95.6 474.3h0M99.6 475.0h0M104.2 475.1h0M121.9 474.5h0M34.3 477.3h0M36.4 477.3h0M42.2 477.6h0M51.0 476.9h0M54.9 477.8h0M67.1 476.7h0M81.9 477.7h0M95.5 477.2h0M99.5 477.7h0M105.4 477.1h0M136.0 476.9h0M29.4 479.0h0M33.4 479.7h0M38.4 478.3h0M42.5 478.6h0M45.5 479.7h0M56.4 478.5h0M70.1 479.4h0M73.4 479.3h0M76.0 479.9h0M84.4 478.7h0M86.2 480.0h0M98.2 479.9h0M101.3 479.2h0M32.1 481.6h0M43.5 482.0h0M57.0 481.1h0M60.5 480.6h0M64.9 482.1h0M92.1 480.8h0M137.8 481.1h0M19.9 483.4h0M42.1 483.6h0M45.8 483.7h0M58.8 483.4h0M86.3 483.8h0M115.3 484.6h0M117.4 484.3h0M124.4 483.0h0M38.6 485.3h0M46.4 485.7h0M71.6 486.5h0M76.8 485.1h0M79.3 486.2h0M96.2 485.7h0M115.1 485.3h0M20.0 487.2h0M29.6 488.8h0M37.6 487.8h0M114.9 488.1h0M32.4 490.7h0M65.3 489.6h0M89.6 489.8h0M91.9 490.7h0M128.7 490.4h0M20.1 492.6h0M30.4 492.4h0M37.1 492.6h0M70.2 493.2h0M78.6 492.2h0M90.9 493.5h0M103.6 492.7h0M113.5 492.7h0M117.7 493.0h0M122.9 492.3h0M21.1 495.3h0M33.7 495.7h0M51.9 495.7h0M82.1 494.8h0M105.5 495.4h0M121.6 494.8h0M135.8 494.8h0M42.6 498.0h0M51.5 498.0h0M101.0 496.5h0M119.7 497.1h0M128.0 497.4h0M37.1 500.0h0M52.1 499.5h0M60.0 499.1h0M66.7 499.0h0M74.3 500.2h0M93.0 499.8h0M130.0 498.8h0M133.7 499.1h0M35.4 501.1h0M38.4 501.2h0M50.3 502.1h0M53.3 502.4h0M69.1 501.3h0M98.4 501.5h0M112.6 500.8h0M131.3 502.1h0M28.5 503.4h0M41.7 503.5h0M44.7 503.4h0M102.1 503.1h0M118.0 503.7h0M135.4 504.7h0M138.4 504.4h0M19.7 505.3h0M40.0 506.0h0M56.1 506.8h0M79.2 506.3h0M84.3 505.4h0M85.4 505.3h0M123.7 507.0h0M135.5 506.7h0M23.9 508.5h0M69.0 508.4h0M125.4 508.9h0M141.7 509.1h0M60.7 510.8h0M63.0 510.8h0M78.7 510.0h0M80.4 510.0h0M88.4 509.7h0M99.1 510.7h0M106.4 510.5h0M123.9 510.3h0M22.0 512.4h0M23.7 512.1h0M47.7 513.4h0M52.0 512.9h0M73.2 513.4h0M102.9 512.9h0M50.3 515.9h0M56.1 514.4h0M57.8 515.2h0M69.2 515.9h0M121.2 514.3h0M123.8 514.4h0M126.6 515.4h0M137.7 515.8h0M27.3 517.9h0M55.0 517.9h0M83.0 517.0h0M98.6 518.1h0M116.0 517.9h0M123.4 518.1h0M135.5 518.0h0M138.7 517.7h0M21.8 519.1h0M35.2 519.4h0M37.9 519.3h0M53.3 518.6h0M55.4 519.6h0M58.8 520.5h0M46.7 521.3h0M79.2 520.9h0M84.5 521.6h0M88.5 522.3h0M139.3 521.2h0M95.6 524.2h0M116.5 523.6h0" stroke="#3838b0" stroke-width="2.0" stroke-linecap="round"/><path d="M57.6 430.3h0M80.7 430.5h0M97.4 430.0h0M53.9 432.2h0M64.8 431.3h0M98.2 432.8h0M117.7 431.7h0M58.2 434.2h0M60.0 435.1h0M103.6 434.2h0M114.1 433.6h0M61.4 436.5h0M19.4 439.5h0M106.8 439.3h0M116.3 438.6h0M118.6 439.7h0M66.9 441.1h0M82.5 440.8h0M125.4 440.6h0M66.8 443.8h0M73.3 444.1h0M80.8 442.9h0M119.1 443.6h0M37.1 445.0h0M77.6 446.2h0M117.4 445.5h0M133.2 444.9h0M34.7 448.3h0M59.1 447.0h0M103.8 448.3h0M122.8 446.9h0M58.6 453.0h0M66.6 453.2h0M80.3 451.3h0M29.7 453.9h0M59.8 454.0h0M86.8 453.7h0M121.7 455.1h0M40.0 456.6h0M61.3 456.8h0M96.3 456.7h0M101.5 457.0h0M26.6 459.6h0M34.7 459.2h0M47.0 458.8h0M73.2 459.7h0M92.5 459.0h0M139.4 459.6h0M30.8 461.2h0M76.6 460.8h0M96.0 460.3h0M119.6 462.1h0M124.0 462.1h0M141.8 461.6h0M44.6 463.3h0M81.7 463.5h0M52.5 465.3h0M79.2 465.4h0M86.0 465.4h0M65.1 467.0h0M71.5 468.4h0M77.9 468.1h0M124.2 467.7h0M133.5 467.2h0M97.4 469.4h0M38.5 472.3h0M71.4 472.5h0M102.2 473.2h0M94.7 473.7h0M120.3 474.0h0M136.4 474.4h0M38.7 477.8h0M28.0 478.9h0M91.1 478.3h0M104.8 478.7h0M49.7 481.8h0M51.6 481.4h0M94.9 481.2h0M94.6 484.3h0M23.9 485.1h0M40.8 485.0h0M55.1 486.3h0M58.6 487.2h0M72.8 488.2h0M122.3 488.2h0M74.9 490.8h0M98.5 489.8h0M33.5 492.4h0M35.3 493.4h0M55.3 494.5h0M79.3 495.6h0M94.8 494.9h0M124.1 494.0h0M70.5 496.4h0M103.8 496.8h0M137.5 496.5h0M39.4 499.3h0M41.9 498.9h0M40.9 501.1h0M57.8 501.0h0M78.5 502.4h0M100.8 502.5h0M114.7 502.5h0M47.5 504.4h0M62.0 503.7h0M35.5 505.9h0M43.5 506.1h0M28.8 507.5h0M39.8 507.8h0M98.0 507.7h0M103.0 507.5h0M115.7 507.8h0M120.6 508.8h0M130.3 508.8h0M37.7 509.9h0M73.8 510.3h0M102.5 510.1h0M38.8 513.7h0M44.5 511.9h0M89.4 512.4h0M128.7 513.6h0M37.8 515.2h0M93.6 514.7h0M101.9 515.6h0M134.4 514.7h0M43.4 517.8h0M85.2 516.4h0M118.9 518.2h0M125.0 517.1h0M132.8 518.2h0M83.2 521.8h0M120.6 522.7h0M131.8 522.6h0M58.7 523.6h0M133.9 523.6h0M139.4 524.1h0" stroke="#3838b0" stroke-width="2.5" stroke-linecap="round"/><path d="M34.6 430.3h0M75.9 430.4h0M34.6 431.8h0M102.2 431.9h0M30.4 433.9h0M38.3 434.1h0M66.1 434.3h0M73.4 434.0h0M79.1 433.4h0M64.0 435.9h0M90.1 435.9h0M60.2 439.5h0M113.5 438.5h0M63.7 441.7h0M39.8 443.4h0M67.9 442.7h0M47.4 444.6h0M59.3 444.8h0M25.5 448.2h0M119.7 447.2h0M34.4 449.1h0M37.0 450.4h0M49.7 449.5h0M20.0 452.2h0M31.9 451.3h0M50.8 452.0h0M75.8 452.6h0M142.7 451.7h0M127.9 455.2h0M136.4 454.9h0M23.1 456.2h0M32.1 457.7h0M123.7 457.2h0M122.7 458.8h0M67.1 462.7h0M71.8 462.9h0M45.5 466.3h0M60.7 465.6h0M132.7 465.7h0M61.3 468.6h0M85.5 467.3h0M29.0 471.6h0M85.7 471.8h0M89.3 472.0h0M33.4 474.2h0M120.6 477.1h0M34.6 479.9h0M131.3 479.9h0M77.8 481.8h0M126.4 483.0h0M131.4 483.7h0M22.2 485.3h0M69.2 486.5h0M46.3 489.0h0M68.0 487.6h0M37.3 490.1h0M45.0 490.7h0M40.8 492.3h0M74.3 493.4h0M39.7 495.4h0M46.3 494.7h0M69.6 494.2h0M128.5 494.2h0M134.0 494.7h0M68.3 497.1h0M73.0 497.0h0M114.8 497.6h0M43.4 499.2h0M23.4 502.0h0M62.7 501.3h0M84.3 501.7h0M54.2 502.9h0M77.1 503.3h0M104.8 504.2h0M115.1 503.9h0M25.4 505.2h0M75.6 505.2h0M132.3 506.3h0M136.7 506.8h0M72.9 508.3h0M85.8 507.5h0M90.8 508.7h0M95.0 508.8h0M127.5 508.5h0M40.8 509.8h0M65.8 510.4h0M91.9 510.3h0M119.0 511.1h0M49.2 513.3h0M54.8 513.0h0M64.5 512.0h0M113.0 513.3h0M96.9 514.3h0M116.4 515.8h0M32.2 522.4h0M37.4 521.7h0M38.2 521.4h0M57.1 522.3h0M59.7 522.3h0" stroke="#4242c0" stroke-width="1.5" stroke-linecap="round"/><path d="M139.3 430.2h0M24.2 431.4h0M72.6 431.7h0M139.0 431.7h0M46.4 433.7h0M50.1 434.3h0M111.3 434.1h0M49.0 437.3h0M73.2 436.2h0M76.7 436.8h0M24.7 439.6h0M42.0 438.9h0M47.6 439.5h0M51.1 438.2h0M74.3 439.5h0M75.4 439.4h0M78.5 438.6h0M28.8 440.6h0M38.3 440.8h0M58.9 441.3h0M74.8 440.6h0M76.5 440.5h0M112.7 441.0h0M35.2 443.0h0M47.7 443.6h0M53.8 443.0h0M71.5 443.4h0M105.9 442.4h0M21.4 445.6h0M57.3 446.2h0M67.2 445.6h0M136.9 446.3h0M46.0 447.4h0M60.9 448.0h0M78.8 448.2h0M117.3 446.8h0M124.3 447.9h0M134.1 448.0h0M140.1 447.7h0M20.9 450.4h0M39.1 449.6h0M103.0 449.4h0M104.9 449.9h0M132.9 449.5h0M63.1 452.4h0M73.0 452.1h0M109.4 452.9h0M127.9 452.2h0M25.8 453.6h0M37.4 455.2h0M43.6 455.1h0M52.6 455.4h0M66.7 455.0h0M72.7 453.6h0M90.3 455.2h0M103.7 454.1h0M113.4 454.3h0M133.4 454.4h0M24.5 456.4h0M44.7 455.9h0M66.2 456.7h0M112.7 457.6h0M114.9 456.7h0M122.8 457.4h0M134.7 456.2h0M141.5 457.4h0M37.1 459.9h0M38.2 458.6h0M57.5 459.4h0M62.6 458.3h0M105.4 458.8h0M115.0 459.9h0M125.9 458.1h0M132.9 458.4h0M38.7 461.7h0M40.6 460.4h0M60.4 461.9h0M86.8 460.5h0M92.2 461.4h0M94.1 460.7h0M121.6 461.0h0M137.6 461.6h0M49.4 463.6h0M64.8 464.2h0M132.9 462.6h0M135.9 463.7h0M98.3 465.4h0M121.2 466.5h0M133.9 464.8h0M66.3 467.3h0M82.7 468.2h0M87.1 467.7h0M45.1 470.4h0M79.4 470.4h0M82.0 469.8h0M85.7 470.4h0M99.9 469.7h0M33.9 472.5h0M48.8 472.0h0M79.0 473.3h0M41.3 475.5h0M42.2 474.4h0M51.2 474.1h0M56.6 474.4h0M81.5 475.6h0M91.4 475.5h0M31.2 477.4h0M46.8 476.3h0M49.2 476.9h0M72.3 477.7h0M102.6 476.3h0M40.2 479.3h0M52.4 478.7h0M81.1 479.4h0M135.6 478.7h0M73.0 481.1h0M125.5 482.3h0M134.1 480.8h0M23.4 483.9h0M32.2 483.9h0M48.8 484.6h0M55.3 484.5h0M72.9 483.0h0M128.8 485.1h0M140.6 486.7h0M33.3 488.1h0M35.4 488.0h0M47.5 487.6h0M119.0 487.2h0M130.5 488.4h0M49.6 491.3h0M82.4 490.3h0M120.8 490.7h0M27.1 491.7h0M46.1 493.1h0M111.8 493.5h0M136.5 493.1h0M57.1 495.1h0M130.4 495.2h0M81.2 497.6h0M105.8 496.9h0M116.9 498.0h0M122.5 496.6h0M129.8 497.7h0M109.8 499.5h0M32.7 501.0h0M48.7 500.8h0M55.0 501.6h0M70.2 501.9h0M81.8 501.5h0M105.0 501.4h0M64.7 504.4h0M72.3 503.7h0M95.1 503.6h0M125.9 504.6h0M129.0 503.6h0M133.3 503.9h0M33.2 505.3h0M48.5 507.0h0M53.0 507.0h0M68.8 506.2h0M80.3 506.9h0M90.8 505.9h0M140.3 505.4h0M21.0 507.4h0M33.7 507.7h0M66.8 509.0h0M82.1 509.0h0M139.1 508.0h0M28.2 510.5h0M29.9 510.9h0M32.1 511.0h0M50.8 510.3h0M70.4 511.0h0M83.9 511.1h0M93.4 510.5h0M128.8 510.5h0M137.8 510.3h0M79.2 513.1h0M101.0 513.6h0M118.4 513.3h0M125.9 512.7h0M130.8 512.8h0M23.4 514.2h0M75.6 514.3h0M78.6 515.2h0M83.8 515.6h0M99.7 515.9h0M113.6 515.6h0M140.8 514.3h0M20.9 517.0h0M24.1 517.6h0M52.8 517.3h0M95.0 516.6h0M99.7 516.6h0M48.0 518.8h0M119.2 519.1h0M139.8 518.7h0M22.2 521.1h0M62.6 522.2h0M118.5 522.0h0M34.6 523.8h0M50.8 523.2h0M53.9 523.4h0M62.5 523.3h0M123.8 524.2h0M137.7 523.5h0" stroke="#4242c0" stroke-width="2.0" stroke-linecap="round"/><path d="M25.5 430.2h0M31.1 430.1h0M64.1 430.6h0M32.3 431.9h0M40.9 431.8h0M49.7 433.0h0M62.2 431.6h0M68.9 431.2h0M122.4 432.8h0M52.3 434.5h0M70.0 436.6h0M75.2 436.9h0M110.4 436.8h0M41.3 438.6h0M58.3 438.6h0M66.3 438.2h0M109.9 439.3h0M51.8 440.8h0M41.0 446.1h0M28.1 446.9h0M40.7 448.1h0M52.3 446.9h0M56.1 449.7h0M72.2 450.0h0M87.5 449.8h0M120.7 450.9h0M25.8 451.4h0M52.9 452.6h0M54.8 451.8h0M61.3 451.5h0M131.5 451.6h0M105.0 455.0h0M130.6 454.0h0M126.3 457.2h0M28.8 458.0h0M58.7 458.3h0M63.9 459.9h0M69.3 459.2h0M99.7 458.1h0M72.6 461.4h0M38.7 463.7h0M61.7 463.4h0M139.2 463.5h0M39.6 465.3h0M94.8 465.6h0M91.8 467.5h0M91.6 470.4h0M95.0 472.5h0M101.1 472.5h0M34.5 473.9h0M43.4 476.7h0M77.3 477.6h0M80.0 477.1h0M84.9 477.3h0M92.3 476.5h0M74.4 480.8h0M129.2 481.4h0M130.6 481.4h0M135.1 484.0h0M32.0 485.5h0M52.5 486.4h0M135.5 486.1h0M27.4 487.3h0M76.1 488.3h0M25.9 491.3h0M72.1 490.6h0M77.4 489.5h0M103.6 491.0h0M122.6 491.1h0M135.1 489.7h0M141.6 489.6h0M23.0 492.9h0M24.4 492.6h0M42.5 493.5h0M58.0 491.7h0M23.3 494.3h0M109.8 494.4h0M27.2 497.6h0M50.3 498.5h0M103.1 499.5h0M117.5 498.5h0M25.4 501.1h0M23.5 504.3h0M66.5 504.3h0M75.0 503.9h0M73.9 506.0h0M89.3 506.5h0M102.1 505.5h0M141.9 506.1h0M91.9 509.1h0M86.7 511.5h0M131.7 510.4h0M59.2 513.7h0M61.8 512.0h0M70.6 514.8h0M74.5 516.6h0M121.1 516.4h0M19.6 519.2h0M142.4 518.7h0M26.2 522.4h0M51.0 522.2h0M68.1 521.7h0M99.6 521.2h0M112.4 521.6h0M19.7 523.1h0M48.6 524.0h0M75.2 523.8h0M82.9 524.0h0" stroke="#4242c0" stroke-width="2.5" stroke-linecap="round"/><path d="M116.2 431.3h0M121.3 431.8h0M39.3 436.9h0M114.8 436.1h0M38.4 439.4h0M68.1 438.2h0M49.9 441.3h0M108.2 449.1h0M122.7 450.3h0M27.9 452.7h0M34.4 452.9h0M134.6 451.9h0M117.5 453.9h0M34.9 456.6h0M71.5 456.9h0M129.0 458.5h0M70.1 460.3h0M43.3 470.9h0M89.4 476.9h0M23.2 490.0h0M52.8 489.7h0M50.4 493.3h0M76.9 493.1h0M36.1 495.4h0M42.0 495.0h0M35.9 496.2h0M37.2 497.7h0M75.6 497.5h0M112.6 496.6h0M69.6 500.0h0M64.0 505.9h0M65.3 507.7h0M139.2 510.9h0M61.5 515.4h0M65.1 515.6h0M61.7 516.4h0M25.6 520.2h0M50.7 519.4h0M63.3 519.7h0M65.6 519.7h0" stroke="#4e4ccc" stroke-width="1.5" stroke-linecap="round"/><path d="M36.4 432.4h0M44.4 431.4h0M107.5 431.2h0M43.0 434.3h0M44.0 435.7h0M51.3 436.5h0M54.6 437.4h0M45.8 439.4h0M44.2 440.8h0M47.0 441.9h0M42.7 443.4h0M38.9 445.2h0M44.0 445.1h0M75.0 445.1h0M113.8 448.3h0M109.7 450.5h0M112.3 450.3h0M114.7 453.1h0M124.2 452.2h0M57.6 455.1h0M111.3 453.7h0M27.6 456.5h0M63.4 457.3h0M129.5 457.1h0M139.3 456.6h0M83.0 458.1h0M90.5 459.4h0M131.0 459.0h0M45.4 460.4h0M78.2 461.9h0M82.1 461.4h0M89.7 461.8h0M132.1 461.7h0M75.2 463.6h0M84.9 462.8h0M92.0 463.5h0M96.1 463.3h0M130.4 463.5h0M65.9 466.2h0M88.0 465.6h0M90.7 466.0h0M129.3 465.0h0M44.5 468.3h0M82.5 472.5h0M87.4 471.5h0M47.5 473.9h0M89.0 473.8h0M29.8 476.7h0M88.3 476.9h0M135.3 482.2h0M51.2 483.1h0M130.0 483.8h0M137.4 484.0h0M56.1 485.0h0M125.4 485.9h0M132.6 485.1h0M22.6 488.9h0M55.3 487.2h0M132.4 487.8h0M134.8 488.5h0M142.3 488.6h0M46.4 489.8h0M133.8 491.3h0M72.9 494.7h0M74.6 493.9h0M53.8 497.0h0M55.8 498.0h0M72.9 499.9h0M34.1 504.6h0M60.8 506.0h0M93.1 505.6h0M96.1 506.2h0M79.9 507.9h0M100.5 508.0h0M141.6 511.1h0M56.2 512.7h0M141.7 516.0h0M65.1 517.1h0M27.6 518.9h0M116.3 519.5h0M34.5 521.1h0M64.4 522.2h0M116.1 520.9h0M23.2 524.1h0" stroke="#4e4ccc" stroke-width="2.0" stroke-linecap="round"/><path d="M28.0 430.5h0M40.5 434.6h0M47.5 434.2h0M56.8 436.4h0M46.2 443.0h0M50.1 444.8h0M43.7 447.4h0M106.6 447.5h0M26.7 449.3h0M112.2 453.0h0M121.3 452.4h0M22.9 454.8h0M32.3 454.7h0M82.2 455.4h0M124.2 453.9h0M30.8 457.5h0M79.4 455.8h0M120.3 456.2h0M132.5 455.9h0M62.5 460.6h0M128.7 461.4h0M87.5 463.5h0M128.9 462.6h0M81.9 466.1h0M96.2 465.2h0M89.3 468.5h0M130.1 467.2h0M94.7 470.1h0M84.2 475.5h0M86.8 475.1h0M101.4 475.2h0M98.1 476.4h0M52.3 489.1h0M127.9 487.4h0M79.8 490.3h0M52.5 492.5h0M44.0 495.1h0M49.1 495.7h0M107.7 495.2h0M53.8 499.5h0M73.9 500.8h0M60.3 503.3h0M82.9 503.6h0M93.1 503.9h0M65.0 506.3h0M31.6 509.3h0M57.1 509.2h0M60.4 508.1h0M62.3 509.0h0M53.7 511.4h0M133.9 510.6h0M32.2 517.2h0M67.9 519.9h0M23.8 521.3h0M54.0 521.2h0" stroke="#4e4ccc" stroke-width="2.5" stroke-linecap="round"/></g>
<path d="M27.0 439.4h0M30.6 454.6h0M43.5 441.7h0M48.2 458.0h0M45.8 465.0h0M78.7 460.5h0M123.3 455.8h0M132.7 471.0h0M116.0 486.0h0M90.4 485.0h0M71.6 480.5h0M34.0 480.5h0M43.5 433.5h0M90.4 455.8h0M109.2 460.5h0M102.0 507.5h0M67.0 502.8h0M50.5 512.0h0M130.3 509.8h0M24.0 470.0h0M100.0 438.0h0M57.0 492.0h0" stroke="#f04a92" stroke-width="3" stroke-linecap="round" opacity="0.9" filter="url(#cb)"/>
<path d="M62.3 446.0h0M65.8 467.0h0M129.0 447.6h0M128.0 495.7h0" stroke="#f84a90" stroke-width="3.8" stroke-linecap="round" filter="url(#cb)"/>
<path d="M70.9 481.0h0M91.2 446.6h0M93.8 484.4h0M89.4 501.8h0M97.4 471.4h0M110.9 466.1h0M73.1 521.3h0M53.7 431.9h0M103.2 431.6h0M111.3 467.9h0M45.7 485.0h0M74.8 482.4h0M40.3 518.4h0M30.6 476.6h0M45.2 494.8h0M67.0 514.0h0M138.7 441.3h0M108.6 436.4h0M28.8 442.4h0M23.1 432.2h0M102.7 503.3h0M31.3 453.0h0M101.5 471.5h0M22.6 485.0h0M76.5 486.2h0M47.2 431.6h0M103.7 518.4h0M118.2 440.1h0M49.5 449.1h0M103.4 482.1h0M100.3 447.8h0M47.2 495.7h0M92.7 514.5h0M114.9 517.8h0M128.5 521.3h0M81.5 503.0h0M58.2 437.6h0M57.4 468.1h0M79.1 492.2h0M26.1 479.1h0M131.2 503.9h0M57.1 513.6h0M80.0 439.8h0M130.4 487.5h0M128.8 458.4h0M33.2 438.0h0M29.4 507.0h0M29.3 482.0h0M102.9 488.1h0M72.1 500.5h0M63.3 468.6h0M125.2 514.4h0M139.5 504.4h0M112.4 505.3h0M128.8 434.7h0M134.4 491.1h0M81.0 465.1h0M94.8 494.5h0M30.5 451.2h0M95.6 431.6h0M62.8 517.3h0M73.3 445.1h0M82.1 484.5h0M87.6 488.0h0M109.4 465.2h0M59.2 443.8h0M69.7 491.3h0M117.3 442.3h0M92.6 462.3h0" stroke="#d83a8a" stroke-width="2" stroke-linecap="round" opacity="0.6" filter="url(#cb)"/>
<path d="M70.8 509.2h0M25.8 433.6h0M44.6 456.4h0M65.3 480.2h0M103.3 458.3h0M20.0 448.7h0M66.9 481.7h0M112.5 454.1h0M109.8 440.6h0M31.4 468.0h0M52.9 512.1h0M94.8 439.1h0M55.9 456.6h0M38.8 443.8h0M117.6 452.3h0M89.9 468.1h0M27.0 449.0h0M70.1 435.7h0M50.3 478.3h0M102.4 519.6h0M89.2 436.9h0M106.2 458.6h0M58.6 492.9h0M124.6 467.7h0M97.4 464.2h0M21.9 519.1h0M132.5 475.3h0M55.6 491.1h0M93.8 504.3h0M131.2 448.7h0M76.4 507.5h0M70.9 436.9h0M33.6 471.2h0M111.3 453.8h0M114.9 521.6h0M94.5 463.2h0M81.2 433.6h0M134.7 475.5h0M63.7 503.1h0M63.0 470.8h0M55.6 521.5h0M131.7 441.1h0M47.9 496.1h0M75.3 433.0h0M56.6 502.7h0M79.9 482.3h0M65.8 440.3h0M90.1 432.9h0M32.0 438.5h0M48.8 472.9h0M91.7 516.0h0M102.5 521.0h0M50.5 496.6h0M66.1 478.2h0M90.9 509.4h0M127.2 447.4h0M126.8 442.0h0M82.3 494.8h0M64.8 492.9h0M130.0 520.1h0M77.2 493.0h0M115.7 473.7h0M129.1 473.7h0M39.0 448.2h0M140.5 516.1h0M68.1 484.9h0M93.8 434.0h0M36.8 476.6h0M101.6 500.8h0M65.2 496.5h0M114.9 457.1h0M42.6 466.7h0M64.6 434.8h0M89.1 500.0h0M51.9 431.8h0M134.4 436.8h0M68.1 473.3h0M129.7 442.9h0M66.6 440.6h0M106.7 451.3h0M88.4 488.0h0M130.6 511.5h0" stroke="#d83a8a" stroke-width="1.5" stroke-linecap="round" opacity="0.6" filter="url(#cb)"/>
<path d="M39.0 476.5h0M52.8 438.2h0M62.8 519.1h0M39.4 476.3h0M27.0 448.6h0M51.6 445.7h0M139.2 490.2h0M27.1 479.8h0M24.0 517.0h0M90.6 437.3h0M105.9 465.0h0M37.3 514.1h0M62.3 477.3h0M49.8 485.6h0M95.7 481.4h0M70.2 487.7h0M49.1 461.1h0M28.3 516.7h0M105.1 505.7h0M73.2 523.2h0M134.6 474.7h0M40.1 450.3h0M92.0 439.5h0M125.7 432.6h0M86.9 442.0h0M38.6 471.1h0M55.2 437.7h0M50.0 440.4h0M20.8 462.0h0M85.4 522.7h0M132.4 490.9h0M108.5 434.8h0M24.1 438.9h0M89.6 488.6h0M90.7 496.7h0M39.6 452.3h0" stroke="#d83a8a" stroke-width="3" stroke-linecap="round" opacity="0.6" filter="url(#cb)"/>
<path d="M137.1 490.0h0M95.8 487.0h0M69.4 508.0h0M78.4 433.1h0M114.9 445.9h0M20.0 510.1h0M39.3 522.8h0M42.3 453.1h0M92.3 441.4h0M36.1 487.6h0M84.3 508.9h0M79.6 518.1h0M123.6 482.3h0M120.3 437.6h0M34.4 486.0h0M125.9 464.7h0M54.2 507.7h0M83.1 489.8h0M68.0 433.5h0M28.2 449.8h0M84.2 506.9h0M94.4 477.6h0M47.3 491.6h0M41.7 508.8h0M78.8 466.2h0M87.2 508.9h0M46.6 447.6h0M81.6 510.0h0M94.4 478.2h0M23.3 480.3h0M60.8 515.6h0M85.6 447.0h0M33.3 459.6h0M139.1 432.5h0M46.6 514.1h0M81.9 467.6h0M69.9 489.1h0M134.5 468.0h0M64.3 458.0h0M50.7 490.1h0M89.9 440.3h0M66.8 501.8h0M77.2 457.7h0" stroke="#d83a8a" stroke-width="2.5" stroke-linecap="round" opacity="0.6" filter="url(#cb)"/>
</g>
<clipPath id="c12"><rect x="143.8" y="430.8" width="121.2" height="92.4"/></clipPath>
<g clip-path="url(#c12)">
<rect x="143.8" y="430.8" width="121.2" height="92.4" fill="#080a22"/>
<g filter="url(#cb)"><path d="M199.9 429.8h0M166.3 437.5h0M185.3 440.2h0M192.1 447.3h0M180.4 453.1h0M245.2 462.8h0M161.6 465.7h0M244.4 468.7h0M148.0 474.8h0M252.9 475.0h0M257.7 475.4h0M187.9 479.5h0M208.5 479.3h0M144.8 481.1h0M219.5 486.1h0M229.6 486.8h0M259.3 490.9h0M242.8 494.2h0M256.5 494.7h0M216.1 496.3h0M256.3 503.8h0M229.8 508.8h0M171.2 511.2h0M155.9 516.6h0M188.4 516.6h0M253.9 522.0h0" stroke="#22288a" stroke-width="1.5" stroke-linecap="round"/><path d="M188.1 431.9h0M191.6 432.2h0M188.9 434.2h0M145.7 436.2h0M165.0 441.4h0M203.3 440.4h0M219.8 441.6h0M239.5 441.0h0M212.8 443.2h0M165.9 448.4h0M197.3 448.0h0M218.0 447.7h0M238.0 448.7h0M180.1 450.7h0M161.4 451.9h0M222.5 452.5h0M238.8 452.8h0M250.6 451.6h0M249.5 455.3h0M175.3 457.2h0M176.0 457.5h0M174.8 459.3h0M182.9 461.1h0M173.6 463.0h0M242.7 470.3h0M190.2 471.6h0M236.8 472.4h0M187.1 474.0h0M189.3 475.6h0M185.6 476.4h0M176.9 479.9h0M188.8 479.0h0M210.8 479.4h0M232.7 478.9h0M170.6 480.5h0M190.5 481.3h0M235.0 485.1h0M173.5 488.9h0M168.1 490.5h0M250.6 493.3h0M171.5 494.3h0M144.7 496.4h0M168.6 497.3h0M253.0 496.2h0M208.6 498.8h0M211.9 498.4h0M177.9 502.1h0M170.5 512.7h0M239.5 513.5h0M187.0 515.5h0M247.7 514.2h0M265.7 515.8h0M152.3 519.5h0M182.6 520.3h0M246.3 520.9h0" stroke="#22288a" stroke-width="2.0" stroke-linecap="round"/><path d="M179.6 434.0h0M191.9 433.5h0M191.5 439.3h0M184.0 441.8h0M192.9 443.2h0M217.5 442.9h0M252.8 444.9h0M203.4 446.8h0M193.1 449.1h0M248.1 452.8h0M189.2 459.5h0M158.7 462.8h0M179.6 466.5h0M174.4 469.7h0M194.3 479.6h0M187.6 481.7h0M183.9 482.8h0M192.3 484.4h0M144.6 488.6h0M219.5 487.3h0M174.3 492.9h0M244.0 492.3h0M179.1 497.5h0M180.2 506.2h0M176.2 508.4h0M185.2 522.4h0" stroke="#22288a" stroke-width="2.5" stroke-linecap="round"/><path d="M158.5 430.7h0M212.1 435.1h0M238.5 433.9h0M159.5 437.1h0M181.2 435.7h0M193.6 437.0h0M222.0 435.8h0M245.5 438.4h0M201.3 440.2h0M213.1 441.2h0M255.4 441.3h0M262.5 440.8h0M143.9 444.1h0M168.7 444.0h0M188.3 444.7h0M201.8 444.9h0M215.8 445.8h0M195.1 448.5h0M152.0 450.9h0M169.7 450.2h0M224.2 449.4h0M242.0 450.1h0M189.8 452.8h0M217.5 452.2h0M162.8 455.0h0M211.7 455.0h0M247.1 454.3h0M238.7 457.2h0M248.6 456.8h0M159.6 458.8h0M229.3 458.0h0M244.2 458.4h0M158.7 462.1h0M186.3 460.4h0M241.0 461.4h0M234.4 463.2h0M242.1 463.2h0M172.6 465.4h0M232.6 467.7h0M237.2 468.3h0M176.2 470.3h0M233.9 469.8h0M209.7 472.5h0M224.7 473.1h0M241.8 472.1h0M210.1 475.0h0M212.9 475.6h0M191.8 477.1h0M230.0 476.7h0M257.7 477.5h0M174.7 479.6h0M217.4 481.1h0M237.3 481.6h0M241.2 481.4h0M188.8 483.1h0M212.4 483.7h0M187.9 485.0h0M191.3 486.7h0M204.7 485.2h0M171.1 487.2h0M213.2 487.9h0M206.2 490.6h0M244.5 489.7h0M185.3 492.5h0M212.2 492.2h0M232.7 493.5h0M237.5 493.0h0M257.6 492.0h0M260.3 491.9h0M185.5 495.0h0M209.8 494.3h0M174.0 496.5h0M208.5 497.9h0M230.0 497.2h0M248.8 498.0h0M250.7 497.4h0M181.5 499.2h0M254.3 501.5h0M263.1 501.7h0M204.6 503.6h0M187.8 507.0h0M230.0 506.6h0M173.8 508.0h0M238.6 507.5h0M186.6 510.1h0M211.9 510.6h0M251.6 509.7h0M168.9 513.5h0M254.5 513.4h0M247.1 516.8h0M259.9 517.2h0M163.3 519.1h0M155.3 522.5h0M207.2 522.4h0M185.1 523.9h0" stroke="#2a329e" stroke-width="1.5" stroke-linecap="round"/><path d="M190.4 430.7h0M192.2 430.5h0M147.3 431.1h0M172.7 431.4h0M195.4 432.8h0M208.7 432.5h0M211.3 431.7h0M262.4 431.7h0M174.6 433.4h0M177.6 434.7h0M257.9 433.9h0M173.0 437.0h0M196.7 437.3h0M211.6 436.1h0M241.5 437.4h0M244.1 436.1h0M252.0 436.6h0M159.9 438.5h0M162.5 439.2h0M164.3 439.4h0M181.3 439.0h0M194.0 438.1h0M199.4 439.4h0M212.5 438.9h0M241.5 439.2h0M247.8 439.2h0M263.9 439.6h0M161.3 441.0h0M162.4 441.7h0M193.0 441.6h0M249.7 440.4h0M256.5 440.8h0M148.9 442.6h0M194.8 442.4h0M211.9 444.8h0M242.0 445.5h0M243.9 445.5h0M162.0 448.6h0M240.7 446.8h0M255.4 448.2h0M176.2 450.7h0M197.8 449.3h0M201.1 450.7h0M214.4 449.1h0M163.9 451.3h0M168.8 452.5h0M194.4 451.4h0M214.9 451.6h0M245.4 452.4h0M180.9 454.9h0M209.6 454.5h0M252.8 453.7h0M217.2 456.6h0M168.8 459.7h0M177.9 458.5h0M183.3 458.2h0M220.9 459.5h0M233.8 459.0h0M236.5 458.1h0M249.2 458.8h0M144.3 461.5h0M162.0 462.0h0M169.4 460.3h0M189.1 460.3h0M246.3 461.2h0M250.0 460.3h0M170.0 463.2h0M183.2 462.5h0M218.3 462.9h0M224.2 464.0h0M227.3 464.3h0M221.2 465.8h0M230.8 466.0h0M241.4 466.6h0M244.0 465.8h0M156.9 467.4h0M170.0 467.1h0M183.7 468.0h0M241.8 467.4h0M262.6 467.1h0M149.1 470.0h0M156.4 470.7h0M170.2 470.7h0M179.4 470.9h0M227.3 471.0h0M264.0 471.0h0M176.3 472.6h0M182.4 471.6h0M189.1 472.0h0M226.5 471.7h0M233.9 472.0h0M259.6 472.5h0M172.8 474.4h0M174.2 475.2h0M221.2 474.5h0M237.9 474.8h0M239.9 475.6h0M248.4 474.8h0M261.6 475.2h0M147.9 476.4h0M211.4 477.3h0M242.7 477.1h0M261.8 476.5h0M144.4 480.0h0M171.0 478.4h0M213.2 478.9h0M235.1 479.7h0M242.5 479.8h0M246.5 480.1h0M176.5 480.8h0M181.3 481.4h0M185.1 481.6h0M193.1 481.8h0M198.3 482.0h0M235.2 481.4h0M244.6 480.5h0M246.4 481.4h0M159.4 483.5h0M176.2 484.3h0M227.5 483.4h0M238.3 484.5h0M251.4 483.8h0M231.2 485.4h0M252.3 485.6h0M146.6 488.9h0M169.0 489.0h0M176.8 488.7h0M184.5 488.6h0M187.3 487.6h0M243.4 487.9h0M248.8 487.5h0M160.6 490.9h0M171.4 490.4h0M173.9 490.4h0M182.8 489.4h0M187.9 489.6h0M204.1 490.0h0M208.2 491.0h0M212.2 490.4h0M216.6 490.0h0M222.2 491.2h0M223.7 491.1h0M177.3 493.3h0M210.8 492.0h0M224.5 492.2h0M253.4 492.3h0M256.9 492.5h0M183.2 494.0h0M204.3 494.2h0M228.4 495.4h0M232.2 494.1h0M259.1 494.0h0M146.7 497.7h0M167.5 496.4h0M177.5 497.2h0M216.9 497.3h0M245.8 497.3h0M147.9 499.1h0M206.1 500.1h0M218.9 499.2h0M222.3 499.0h0M260.1 498.8h0M162.5 501.4h0M169.9 502.4h0M171.5 501.7h0M174.5 501.9h0M208.1 501.5h0M210.2 501.7h0M218.4 501.3h0M224.7 501.1h0M229.6 501.7h0M237.5 502.5h0M258.5 501.3h0M181.0 504.2h0M183.1 503.7h0M191.7 504.4h0M237.4 504.0h0M241.6 503.6h0M265.2 503.1h0M161.4 506.9h0M172.3 506.6h0M193.1 505.8h0M238.8 506.6h0M247.6 505.6h0M250.3 506.7h0M265.5 506.9h0M178.1 508.0h0M185.2 508.4h0M225.0 508.4h0M236.4 508.6h0M247.5 508.0h0M251.8 509.3h0M254.4 508.8h0M161.8 510.3h0M254.3 510.8h0M241.7 512.6h0M257.9 512.4h0M166.2 515.6h0M238.3 514.6h0M257.9 516.0h0M261.4 516.0h0M193.4 516.4h0M203.8 516.8h0M236.1 517.9h0M239.4 517.2h0M258.2 516.6h0M194.0 519.8h0M238.5 518.9h0M239.9 520.2h0M242.4 519.2h0M245.4 518.7h0M258.6 520.5h0M157.8 522.0h0M229.9 520.9h0M241.4 522.3h0M190.2 523.7h0M252.7 523.6h0M258.7 524.1h0" stroke="#2a329e" stroke-width="2.0" stroke-linecap="round"/><path d="M154.9 430.2h0M201.8 430.0h0M144.5 431.6h0M229.1 432.9h0M257.9 432.4h0M172.8 434.7h0M204.7 434.1h0M250.2 437.0h0M259.3 436.4h0M183.8 439.4h0M202.0 439.0h0M219.5 438.0h0M226.1 439.6h0M236.5 442.5h0M186.3 445.6h0M179.3 447.4h0M189.9 446.9h0M236.4 448.7h0M173.3 449.4h0M206.6 449.4h0M252.1 450.4h0M170.9 452.6h0M176.5 452.5h0M236.0 452.9h0M240.7 451.3h0M215.8 454.7h0M226.2 454.9h0M243.9 454.7h0M163.3 456.4h0M192.6 457.2h0M245.0 455.8h0M185.9 459.5h0M230.9 458.7h0M247.9 459.1h0M172.4 460.7h0M178.6 461.7h0M231.1 461.6h0M236.1 461.7h0M247.6 460.7h0M252.9 461.3h0M144.5 463.8h0M154.4 464.4h0M159.8 462.7h0M232.6 463.9h0M238.9 464.1h0M249.9 463.6h0M159.5 465.7h0M175.0 466.2h0M228.5 466.4h0M162.7 468.1h0M239.7 468.0h0M264.5 467.7h0M172.6 472.6h0M213.2 471.5h0M239.6 473.1h0M246.5 472.3h0M154.9 475.2h0M250.6 474.6h0M188.3 476.5h0M235.0 476.7h0M182.7 478.7h0M200.2 479.8h0M247.8 478.6h0M173.8 481.2h0M232.4 480.5h0M164.2 482.9h0M194.3 482.9h0M234.7 483.0h0M177.8 485.1h0M181.1 488.7h0M206.6 489.0h0M210.2 487.2h0M225.0 487.4h0M233.4 489.0h0M185.4 489.7h0M234.5 489.7h0M145.5 493.4h0M148.7 493.1h0M169.6 491.9h0M235.4 492.8h0M265.8 492.5h0M147.9 494.8h0M149.6 496.8h0M222.0 497.1h0M223.7 499.4h0M247.6 500.3h0M163.8 503.3h0M164.8 503.7h0M239.3 503.5h0M182.2 505.8h0M228.2 506.4h0M255.4 506.7h0M166.0 508.3h0M233.6 507.9h0M232.7 510.4h0M265.4 510.5h0M152.0 517.4h0M227.0 517.8h0M229.6 517.1h0M255.6 517.1h0M228.8 520.4h0M211.7 522.3h0" stroke="#2a329e" stroke-width="2.5" stroke-linecap="round"/><path d="M179.9 430.3h0M243.1 430.4h0M171.1 431.9h0M201.3 432.5h0M231.5 431.6h0M239.4 431.9h0M249.3 431.2h0M155.9 434.0h0M196.7 433.4h0M220.0 434.3h0M256.9 433.7h0M162.9 436.4h0M169.9 437.5h0M230.0 437.5h0M254.8 436.1h0M264.6 436.2h0M148.1 439.5h0M169.0 438.2h0M205.7 438.1h0M215.9 439.1h0M238.5 438.2h0M258.9 439.6h0M176.3 440.2h0M226.4 440.6h0M174.6 443.3h0M180.2 443.5h0M186.4 442.8h0M206.9 443.6h0M172.5 445.8h0M239.8 446.3h0M256.8 446.0h0M204.7 447.4h0M233.3 448.5h0M160.4 450.5h0M167.9 449.1h0M204.1 450.3h0M225.8 450.8h0M245.3 450.3h0M192.3 452.0h0M242.8 451.7h0M196.1 454.0h0M213.9 454.0h0M235.1 454.5h0M157.2 456.5h0M199.2 457.1h0M201.9 455.8h0M205.4 457.4h0M215.3 456.5h0M223.4 457.6h0M258.6 456.1h0M173.8 458.8h0M180.1 458.1h0M218.4 458.2h0M224.3 459.4h0M252.8 459.0h0M262.8 458.0h0M265.6 459.6h0M156.3 462.1h0M220.2 460.7h0M223.4 460.7h0M262.4 463.9h0M144.3 466.3h0M185.5 465.4h0M191.9 465.7h0M232.3 465.7h0M258.9 465.9h0M150.9 467.8h0M172.5 468.6h0M188.1 467.4h0M219.4 467.8h0M250.3 468.3h0M222.4 469.8h0M225.4 469.3h0M260.9 470.8h0M154.5 471.9h0M185.5 475.2h0M204.3 475.2h0M217.6 475.0h0M244.2 474.2h0M264.5 474.6h0M150.4 476.8h0M195.5 477.2h0M249.1 477.8h0M251.6 477.4h0M158.4 479.0h0M167.2 478.6h0M197.0 478.5h0M229.8 478.5h0M251.7 479.3h0M179.1 484.2h0M202.3 484.6h0M207.4 484.4h0M208.5 485.2h0M212.0 485.6h0M250.5 485.6h0M204.4 487.3h0M207.4 493.4h0M222.6 492.2h0M239.8 492.3h0M263.7 492.2h0M149.8 495.5h0M151.8 495.6h0M179.9 495.3h0M221.1 495.7h0M226.6 495.0h0M239.2 494.1h0M243.9 495.6h0M227.1 496.4h0M173.2 500.3h0M144.7 501.7h0M220.6 502.1h0M235.1 501.9h0M167.2 504.1h0M174.0 503.7h0M207.1 503.7h0M224.4 503.3h0M231.0 504.6h0M252.9 504.2h0M263.0 503.1h0M198.2 506.6h0M163.0 507.9h0M169.6 508.3h0M183.9 507.4h0M257.4 507.7h0M225.0 509.8h0M238.3 509.8h0M243.0 510.1h0M245.1 510.4h0M248.0 510.8h0M201.4 513.2h0M213.8 512.4h0M232.2 513.7h0M263.1 512.5h0M265.4 513.0h0M159.0 515.3h0M209.5 514.2h0M253.8 514.2h0M170.8 517.7h0M175.9 517.4h0M158.9 519.3h0M161.0 519.2h0M248.7 519.3h0M251.3 520.2h0M260.4 519.1h0M161.1 521.1h0M237.4 522.0h0M250.0 522.7h0M146.1 523.4h0M154.7 523.6h0M225.5 523.4h0" stroke="#323cb0" stroke-width="1.5" stroke-linecap="round"/><path d="M149.7 430.2h0M195.0 430.0h0M230.8 430.2h0M259.1 430.5h0M154.3 432.9h0M203.6 432.6h0M214.0 432.0h0M258.9 431.9h0M143.6 435.2h0M154.1 433.4h0M164.2 433.8h0M194.7 435.0h0M206.8 435.2h0M218.4 433.6h0M241.3 434.7h0M253.6 434.1h0M265.3 433.6h0M155.7 437.4h0M168.1 436.3h0M176.3 435.7h0M178.3 437.3h0M199.0 436.1h0M208.0 436.2h0M218.2 435.7h0M235.0 436.1h0M143.5 438.5h0M177.0 439.3h0M217.0 438.3h0M147.3 441.3h0M178.6 441.8h0M199.6 441.0h0M205.5 441.2h0M209.4 441.2h0M229.8 440.8h0M247.6 440.7h0M252.8 441.7h0M260.1 440.7h0M264.7 441.7h0M151.4 444.0h0M162.6 443.8h0M204.9 443.7h0M209.6 442.7h0M220.0 442.7h0M237.8 442.5h0M257.6 442.9h0M151.9 444.7h0M158.2 444.9h0M178.2 444.9h0M184.1 444.6h0M190.6 444.9h0M262.5 444.6h0M143.6 447.1h0M157.2 448.6h0M158.9 448.0h0M177.5 448.2h0M220.9 448.5h0M223.5 448.4h0M243.8 448.6h0M260.2 447.6h0M157.6 449.8h0M177.6 450.9h0M196.0 449.4h0M218.2 450.5h0M221.1 450.4h0M231.1 449.1h0M237.4 450.8h0M240.0 449.3h0M254.4 450.5h0M259.6 449.9h0M146.9 451.3h0M154.0 451.6h0M174.0 452.4h0M181.4 451.6h0M225.6 453.2h0M232.5 451.4h0M255.8 451.6h0M261.1 452.9h0M161.1 454.0h0M170.3 455.0h0M178.7 454.3h0M183.5 454.5h0M188.1 454.0h0M190.8 453.8h0M201.3 454.9h0M206.6 454.6h0M146.4 456.3h0M160.8 456.7h0M171.8 456.8h0M184.0 456.4h0M225.1 456.4h0M228.2 457.4h0M235.6 456.0h0M250.5 456.6h0M261.5 457.6h0M155.0 459.5h0M216.7 458.4h0M238.6 459.8h0M154.0 461.5h0M173.8 460.5h0M191.9 461.3h0M217.6 460.9h0M147.6 464.2h0M180.9 462.7h0M184.9 463.5h0M190.3 463.1h0M222.2 462.5h0M228.4 463.7h0M247.0 464.0h0M255.3 462.9h0M256.5 462.6h0M264.1 462.6h0M167.0 465.1h0M169.7 465.4h0M181.2 465.0h0M190.4 465.4h0M200.2 466.0h0M218.3 465.1h0M222.3 465.1h0M225.3 466.4h0M236.3 464.9h0M250.7 465.3h0M252.6 465.4h0M256.0 465.3h0M263.2 465.0h0M165.0 467.3h0M167.5 468.7h0M176.3 468.6h0M190.3 467.2h0M206.4 467.6h0M159.6 469.3h0M161.9 469.6h0M187.2 470.1h0M192.0 470.7h0M197.6 470.0h0M202.8 470.7h0M205.1 471.0h0M215.4 470.8h0M217.2 469.3h0M237.9 469.7h0M147.3 471.9h0M149.9 472.0h0M165.0 472.7h0M199.4 472.5h0M203.9 472.3h0M211.2 473.1h0M218.4 472.1h0M245.3 471.8h0M250.4 472.2h0M147.1 475.1h0M159.7 474.5h0M177.4 473.7h0M200.3 474.7h0M214.7 474.8h0M233.5 474.6h0M236.5 474.7h0M154.5 476.2h0M158.4 477.3h0M170.7 477.1h0M172.5 476.2h0M177.4 477.5h0M216.5 476.6h0M223.6 477.4h0M227.0 476.0h0M239.8 476.1h0M154.2 479.9h0M225.9 478.2h0M146.7 480.8h0M196.4 481.5h0M221.4 481.0h0M146.4 484.5h0M162.4 484.2h0M181.7 484.1h0M186.9 483.5h0M204.9 483.4h0M214.7 482.9h0M224.6 484.3h0M240.0 483.4h0M246.1 484.3h0M248.2 482.9h0M156.0 486.4h0M172.7 486.2h0M182.7 486.6h0M199.1 485.1h0M213.9 486.5h0M242.0 485.5h0M248.0 485.3h0M157.1 488.8h0M162.5 488.5h0M165.1 487.5h0M179.1 487.8h0M190.1 488.8h0M194.1 487.6h0M214.6 488.0h0M222.5 488.0h0M228.5 487.5h0M147.6 490.2h0M193.1 489.7h0M236.0 490.8h0M253.0 489.6h0M262.5 489.6h0M167.4 491.9h0M182.1 493.3h0M230.8 491.9h0M178.9 494.5h0M206.1 495.5h0M251.6 495.8h0M255.1 494.4h0M164.8 497.7h0M205.4 496.2h0M220.2 498.0h0M258.0 497.5h0M162.6 498.5h0M171.0 500.0h0M185.0 498.5h0M216.7 500.1h0M231.5 499.4h0M252.7 498.4h0M163.5 501.8h0M185.5 501.4h0M194.7 500.8h0M200.1 501.5h0M203.0 500.8h0M205.2 501.1h0M213.4 500.8h0M222.8 501.0h0M240.8 502.4h0M255.7 501.7h0M160.2 503.1h0M185.3 503.2h0M207.9 504.8h0M221.6 504.7h0M228.9 504.3h0M234.2 504.5h0M244.2 504.7h0M248.7 504.7h0M258.9 503.8h0M150.6 505.7h0M202.1 505.3h0M215.1 505.7h0M235.0 505.4h0M254.1 506.7h0M257.9 505.5h0M261.2 506.1h0M264.5 506.3h0M161.1 508.7h0M192.7 508.0h0M195.7 508.8h0M242.1 509.0h0M244.1 507.5h0M259.2 508.5h0M164.5 510.1h0M185.2 510.5h0M189.8 510.4h0M191.7 510.9h0M210.7 509.9h0M214.6 510.5h0M217.0 510.8h0M239.8 509.9h0M256.0 509.9h0M259.0 510.3h0M150.8 512.7h0M158.7 512.5h0M179.9 512.4h0M184.0 513.0h0M185.0 512.3h0M193.2 512.4h0M199.4 512.7h0M204.5 512.5h0M208.5 513.1h0M226.3 513.4h0M236.0 512.8h0M251.8 512.6h0M144.5 514.6h0M154.8 514.5h0M162.2 514.2h0M183.0 515.7h0M189.5 514.6h0M195.3 514.5h0M207.7 514.3h0M245.4 516.0h0M251.8 515.7h0M256.2 514.5h0M157.8 517.1h0M191.7 516.9h0M249.9 517.3h0M190.1 520.0h0M209.9 519.0h0M223.7 519.0h0M232.3 520.1h0M148.4 521.6h0M150.1 521.8h0M165.4 522.0h0M168.9 521.0h0M184.1 521.3h0M188.2 522.3h0M223.6 521.7h0M234.3 521.6h0M257.6 522.0h0M259.0 521.6h0M150.9 523.9h0M157.3 524.1h0M162.0 524.0h0M191.4 523.8h0M240.2 523.7h0M264.3 523.3h0" stroke="#323cb0" stroke-width="2.0" stroke-linecap="round"/><path d="M218.1 430.6h0M178.6 431.5h0M206.9 432.5h0M219.3 432.6h0M226.5 431.3h0M214.9 436.9h0M224.4 435.6h0M226.4 436.0h0M238.8 436.6h0M172.7 439.6h0M179.9 438.7h0M209.5 438.2h0M229.6 439.6h0M256.2 439.5h0M260.7 438.7h0M210.6 440.6h0M217.4 441.6h0M237.5 440.6h0M202.8 442.5h0M239.8 443.0h0M155.6 445.3h0M168.7 446.2h0M180.2 446.0h0M194.3 445.3h0M196.5 445.1h0M198.1 446.4h0M224.5 444.9h0M237.3 445.7h0M146.0 447.8h0M149.1 448.3h0M169.3 448.2h0M212.7 447.3h0M215.9 448.5h0M208.6 450.9h0M257.9 450.6h0M149.3 452.2h0M210.5 452.0h0M212.0 452.8h0M227.7 452.5h0M262.8 453.1h0M166.2 454.0h0M168.4 454.8h0M202.8 454.2h0M228.7 453.5h0M187.4 456.9h0M210.9 456.3h0M255.9 457.5h0M170.0 459.4h0M194.3 459.3h0M232.2 462.1h0M238.0 462.1h0M256.2 460.8h0M263.5 461.1h0M164.8 462.6h0M196.9 466.6h0M215.9 465.6h0M155.2 468.0h0M185.6 468.0h0M216.2 468.0h0M227.6 467.9h0M171.7 469.8h0M181.2 470.2h0M212.7 470.0h0M253.3 469.3h0M181.5 471.8h0M193.5 473.2h0M227.4 474.1h0M160.3 476.6h0M182.9 477.4h0M194.3 477.6h0M201.9 476.6h0M232.4 476.9h0M247.0 477.5h0M157.0 479.7h0M183.8 479.8h0M237.3 478.5h0M259.3 479.1h0M157.5 481.7h0M163.2 480.8h0M224.3 480.9h0M226.6 481.1h0M254.1 481.0h0M196.5 483.6h0M210.6 483.5h0M222.5 484.2h0M162.6 485.8h0M180.2 486.5h0M221.0 486.0h0M149.3 487.4h0M199.4 488.2h0M218.1 488.5h0M145.7 490.5h0M162.2 491.2h0M165.6 491.2h0M232.0 489.6h0M165.0 493.2h0M199.6 493.5h0M204.6 493.5h0M216.1 492.4h0M244.9 493.0h0M175.1 494.3h0M144.8 500.1h0M165.6 498.6h0M203.9 500.2h0M254.1 499.9h0M146.2 501.5h0M227.4 502.4h0M244.0 500.8h0M158.7 504.1h0M156.7 506.6h0M209.7 508.1h0M231.4 507.5h0M234.9 511.1h0M260.4 510.3h0M144.5 513.5h0M166.4 513.6h0M178.1 513.2h0M207.1 512.8h0M210.9 512.3h0M220.7 513.4h0M249.2 512.4h0M192.8 515.9h0M228.0 515.2h0M240.8 514.8h0M165.0 516.9h0M172.8 517.4h0M219.9 516.4h0M225.5 519.5h0M231.2 519.0h0M145.6 521.7h0M170.9 522.4h0M180.0 522.2h0M191.6 522.7h0M203.8 522.5h0M214.2 522.6h0M244.4 522.7h0M207.8 523.5h0" stroke="#323cb0" stroke-width="2.5" stroke-linecap="round"/><path d="M233.6 432.2h0M167.3 434.3h0M173.5 438.1h0M197.1 439.3h0M159.0 444.1h0M265.8 448.6h0M146.8 449.2h0M150.4 450.6h0M148.1 454.0h0M158.5 454.5h0M198.2 455.3h0M260.6 455.0h0M208.4 455.9h0M147.7 459.7h0M151.0 458.8h0M202.1 459.5h0M211.3 459.4h0M226.3 459.8h0M257.7 459.0h0M153.2 463.6h0M206.7 462.5h0M148.2 465.7h0M187.2 465.0h0M147.0 467.1h0M201.0 467.1h0M143.8 470.6h0M255.8 470.7h0M161.3 471.9h0M163.8 472.9h0M168.3 472.5h0M206.9 472.8h0M221.8 471.6h0M263.1 471.6h0M157.2 474.6h0M165.0 475.1h0M224.5 474.2h0M208.5 477.2h0M221.0 477.0h0M260.0 477.3h0M219.4 479.8h0M256.3 478.8h0M151.1 486.1h0M158.1 485.7h0M150.9 487.5h0M255.5 488.4h0M192.8 493.0h0M202.6 492.5h0M218.5 492.4h0M201.3 495.4h0M233.8 495.8h0M159.6 498.0h0M183.8 497.8h0M241.0 496.8h0M201.3 498.6h0M234.7 499.6h0M236.1 500.3h0M150.0 504.6h0M205.3 506.8h0M220.2 505.7h0M245.3 507.0h0M187.9 508.4h0M190.2 507.6h0M200.4 508.6h0M197.3 511.5h0M220.0 511.0h0M245.1 512.1h0M208.4 517.5h0M251.8 516.7h0M174.0 519.2h0M162.2 522.6h0M178.6 522.7h0M219.6 523.5h0" stroke="#3a46c0" stroke-width="1.5" stroke-linecap="round"/><path d="M219.5 430.7h0M248.7 430.1h0M260.3 429.9h0M150.8 431.3h0M163.1 431.4h0M224.3 431.5h0M160.0 433.4h0M202.1 434.5h0M243.9 434.3h0M260.9 433.9h0M263.2 434.3h0M152.7 436.3h0M202.9 436.2h0M232.2 436.4h0M222.5 438.1h0M228.7 438.9h0M157.0 440.2h0M156.9 442.8h0M171.7 442.4h0M182.6 442.7h0M228.7 442.9h0M230.3 443.5h0M144.8 445.2h0M150.5 446.1h0M206.7 446.4h0M259.1 445.7h0M154.3 447.5h0M181.8 447.0h0M200.2 447.4h0M207.9 447.0h0M209.2 446.8h0M263.4 447.9h0M216.9 450.3h0M198.1 453.0h0M207.2 451.4h0M253.9 455.2h0M159.3 456.9h0M168.4 456.8h0M213.2 456.7h0M232.2 457.1h0M157.0 458.7h0M163.1 459.5h0M204.0 459.6h0M213.7 458.4h0M146.1 460.5h0M149.3 461.8h0M151.0 461.0h0M165.0 461.1h0M199.5 461.1h0M208.2 461.6h0M162.6 463.0h0M168.9 464.1h0M187.8 463.2h0M195.3 463.3h0M199.4 464.1h0M236.2 463.0h0M145.7 465.2h0M153.3 465.3h0M194.2 466.6h0M202.5 464.9h0M210.0 466.5h0M238.2 464.9h0M153.5 468.3h0M193.8 468.3h0M198.5 467.5h0M221.4 468.4h0M224.6 467.1h0M255.3 468.5h0M257.3 467.9h0M164.0 470.3h0M167.5 470.0h0M190.1 470.2h0M200.5 470.2h0M208.4 470.6h0M210.4 469.8h0M245.7 470.8h0M248.1 469.3h0M251.5 471.0h0M152.8 471.9h0M157.8 471.8h0M195.6 472.0h0M201.7 472.8h0M216.7 471.6h0M256.8 471.5h0M265.5 471.7h0M144.1 474.6h0M151.0 474.2h0M166.3 475.4h0M194.0 474.8h0M202.0 473.9h0M222.3 474.5h0M229.6 475.0h0M168.2 476.4h0M204.3 477.6h0M219.8 477.6h0M148.4 478.6h0M162.5 479.1h0M202.6 479.0h0M216.9 478.8h0M222.4 480.0h0M241.4 479.3h0M253.2 478.8h0M150.3 480.7h0M200.2 482.3h0M218.1 481.2h0M260.1 480.6h0M264.1 484.0h0M159.5 485.6h0M176.6 485.4h0M224.8 485.2h0M257.2 485.6h0M262.7 486.1h0M196.8 488.6h0M202.4 488.2h0M156.1 490.8h0M175.7 490.4h0M201.9 490.9h0M257.9 489.8h0M156.0 493.5h0M161.4 492.9h0M187.1 493.4h0M189.3 492.1h0M220.7 492.5h0M155.1 494.7h0M165.3 494.2h0M191.8 495.0h0M219.8 495.1h0M186.4 496.4h0M198.2 496.9h0M238.0 497.7h0M242.6 497.4h0M160.7 498.8h0M187.8 500.2h0M193.6 499.6h0M213.4 500.1h0M245.0 500.0h0M149.4 501.6h0M151.0 502.4h0M187.6 501.0h0M197.1 502.0h0M214.9 502.1h0M250.1 500.8h0M260.5 501.7h0M189.0 503.6h0M218.2 504.1h0M163.7 505.8h0M225.9 506.6h0M243.2 506.8h0M181.5 508.7h0M203.3 507.4h0M211.7 509.2h0M226.9 507.7h0M264.9 508.6h0M146.0 510.1h0M166.2 510.3h0M182.1 510.1h0M194.5 511.0h0M201.8 509.8h0M207.1 510.0h0M222.5 510.2h0M195.8 513.6h0M234.6 513.2h0M223.5 515.0h0M235.6 515.1h0M144.6 516.5h0M224.9 516.9h0M232.6 516.9h0M167.2 519.9h0M171.0 519.7h0M179.9 519.6h0M205.3 520.1h0M207.7 518.6h0M213.3 520.5h0M217.6 519.8h0M235.3 519.4h0M219.4 521.6h0" stroke="#3a46c0" stroke-width="2.0" stroke-linecap="round"/><path d="M160.9 431.4h0M167.9 431.7h0M245.0 431.9h0M146.9 434.1h0M149.7 434.0h0M170.1 434.1h0M226.2 435.1h0M235.6 434.7h0M246.4 434.0h0M158.6 436.0h0M145.4 440.9h0M222.2 444.1h0M226.3 444.1h0M261.9 443.7h0M263.2 442.6h0M214.2 445.4h0M221.9 444.7h0M175.3 448.6h0M228.9 448.4h0M145.7 449.1h0M210.8 450.0h0M235.1 450.1h0M263.3 450.5h0M150.8 452.3h0M158.5 451.6h0M194.4 453.6h0M166.9 456.4h0M263.6 457.6h0M254.2 459.5h0M167.1 461.8h0M259.2 461.0h0M212.3 463.4h0M217.0 464.2h0M260.1 464.4h0M159.8 467.0h0M195.2 468.1h0M203.9 467.4h0M208.1 467.2h0M214.3 468.5h0M252.0 467.5h0M151.9 469.4h0M169.8 472.4h0M251.8 472.1h0M180.4 475.5h0M192.6 473.9h0M162.7 477.3h0M176.0 477.3h0M181.6 477.7h0M178.7 478.8h0M214.4 478.4h0M156.0 480.6h0M251.5 481.9h0M265.4 481.0h0M220.0 483.0h0M252.5 484.2h0M261.6 483.0h0M262.9 487.6h0M190.1 491.3h0M152.0 493.2h0M162.2 494.2h0M189.0 495.0h0M162.6 496.9h0M233.9 496.2h0M159.3 500.7h0M165.9 501.5h0M233.3 501.0h0M147.4 503.7h0M198.1 504.1h0M248.0 504.3h0M209.3 506.4h0M222.2 505.4h0M198.5 509.2h0M216.4 507.5h0M159.3 510.9h0M264.5 510.6h0M225.1 515.3h0M182.7 518.1h0M195.6 516.8h0M213.0 516.6h0M146.0 519.6h0M192.4 520.3h0M197.9 519.9h0M193.0 522.6h0M195.7 522.3h0M240.3 521.5h0M174.5 523.3h0M200.7 523.4h0" stroke="#3a46c0" stroke-width="2.5" stroke-linecap="round"/><path d="M237.6 431.9h0M152.1 438.3h0M156.0 441.5h0M232.5 443.2h0M151.6 446.8h0M264.4 449.4h0M149.8 457.6h0M198.3 457.3h0M199.4 459.6h0M213.5 464.3h0M169.1 473.8h0M199.6 476.8h0M262.8 480.7h0M156.5 483.3h0M254.1 490.3h0M150.4 499.0h0M158.0 498.6h0M195.7 500.3h0M241.1 500.3h0M153.6 504.3h0M207.0 505.8h0M144.6 507.7h0M148.1 509.0h0M207.1 507.8h0M218.6 512.1h0M149.2 515.6h0M211.8 515.8h0M218.0 515.0h0M201.8 517.6h0M143.8 520.0h0M198.7 521.2h0" stroke="#4650cc" stroke-width="1.5" stroke-linecap="round"/><path d="M247.9 431.3h0M251.4 432.1h0M229.8 434.5h0M157.0 439.4h0M233.8 438.7h0M173.5 440.4h0M231.2 440.5h0M153.6 444.1h0M148.2 445.0h0M230.1 446.3h0M232.3 444.8h0M234.7 445.6h0M264.6 445.0h0M258.1 455.4h0M262.4 454.3h0M265.3 454.4h0M151.3 457.3h0M206.2 459.2h0M209.4 459.4h0M195.7 461.7h0M202.0 460.9h0M204.7 461.7h0M211.7 460.6h0M260.4 460.5h0M200.9 462.7h0M203.6 463.1h0M209.0 463.2h0M212.9 466.1h0M194.6 470.3h0M161.5 475.2h0M263.7 479.7h0M152.4 481.0h0M257.1 480.6h0M256.1 483.0h0M258.2 482.9h0M260.7 486.7h0M260.7 487.6h0M265.6 488.1h0M152.5 490.5h0M194.3 493.1h0M157.2 494.3h0M199.4 494.9h0M151.5 497.7h0M154.9 497.7h0M200.3 497.1h0M191.2 499.5h0M199.3 499.5h0M155.2 503.3h0M201.1 503.8h0M215.8 503.4h0M146.2 505.5h0M149.2 505.9h0M154.8 506.2h0M158.4 506.1h0M188.8 505.5h0M199.5 505.8h0M217.8 506.8h0M153.5 508.9h0M143.5 511.2h0M153.6 510.4h0M146.7 513.0h0M216.5 512.3h0M146.7 515.9h0M202.1 515.4h0M205.4 514.7h0M233.7 516.0h0M148.2 517.1h0M234.0 517.6h0M215.9 519.4h0M200.9 522.1h0" stroke="#4650cc" stroke-width="2.0" stroke-linecap="round"/><path d="M241.5 432.2h0M254.0 432.9h0M149.4 436.0h0M153.7 438.2h0M227.3 445.6h0M231.0 447.1h0M157.3 453.2h0M150.2 453.7h0M145.6 458.2h0M193.0 463.9h0M205.2 466.1h0M260.6 465.4h0M145.0 468.1h0M196.7 475.6h0M202.1 485.7h0M264.8 489.7h0M198.3 492.7h0M156.3 496.4h0M157.3 501.3h0M192.6 501.1h0M145.2 504.0h0M144.1 505.9h0M213.0 505.6h0M149.3 509.2h0M154.6 508.7h0M218.8 508.9h0M212.2 516.7h0M169.9 520.2h0M199.7 518.6h0M176.5 522.6h0M195.3 523.5h0M235.0 523.5h0" stroke="#4650cc" stroke-width="2.5" stroke-linecap="round"/></g>
<path d="M201.3 491.6h0M224.6 444.0h0M145.1 465.4h0M177.0 505.7h0M227.5 486.4h0M211.5 491.9h0M161.4 471.5h0M163.5 514.5h0M150.9 506.5h0M152.8 494.3h0M184.6 468.2h0M245.9 432.5h0M151.2 515.3h0M205.5 439.2h0M263.4 518.3h0M157.4 469.9h0M160.2 459.7h0M219.1 445.9h0M228.3 435.5h0M164.6 506.2h0M192.3 469.5h0M216.0 474.9h0M190.4 433.6h0M231.8 520.2h0M262.1 492.1h0M187.0 464.4h0M227.4 493.1h0M157.6 452.5h0M187.8 478.0h0M242.0 477.0h0" stroke="#c040a0" stroke-width="1.6" stroke-linecap="round" opacity="0.6" filter="url(#cb)"/>
</g>
<clipPath id="c13"><rect x="20" y="525.8" width="121.8" height="93"/></clipPath>
<g clip-path="url(#c13)">
<rect x="20" y="525.8" width="121.8" height="93" fill="#06081a"/>
<g filter="url(#cb)"><path d="M40.2 537.7h0M47.2 537.8h0M37.8 543.7h0M61.1 551.0h0M95.7 551.2h0M130.0 561.0h0M75.4 565.7h0M43.5 568.8h0M64.2 603.3h0M50.2 606.2h0M93.2 605.1h0M32.3 618.6h0" stroke="#1e267e" stroke-width="1.5" stroke-linecap="round"/><path d="M95.8 525.6h0M23.2 526.7h0M50.7 543.6h0M51.3 551.5h0M88.3 557.0h0M72.9 557.9h0M98.1 557.7h0M115.0 559.3h0M69.1 564.5h0M20.3 569.5h0M21.2 571.2h0M123.6 571.1h0M67.9 584.7h0M113.3 586.1h0M92.7 589.5h0M62.3 593.8h0M92.0 595.2h0M81.9 597.3h0M134.8 596.5h0M50.0 599.1h0M61.4 598.7h0M66.1 601.7h0M121.9 600.8h0M87.9 602.6h0M89.4 602.9h0M65.4 604.7h0M84.2 605.7h0M64.1 612.0h0M72.3 616.2h0M89.6 616.8h0" stroke="#1e267e" stroke-width="2.0" stroke-linecap="round"/><path d="M64.0 528.8h0M58.2 548.1h0M22.1 559.3h0M48.9 561.1h0M94.7 562.5h0M131.6 565.0h0M126.4 566.5h0M27.2 569.3h0M112.5 599.6h0M105.3 603.0h0M27.5 604.9h0M24.4 614.7h0M19.1 619.1h0M22.7 619.5h0" stroke="#1e267e" stroke-width="2.5" stroke-linecap="round"/><path d="M40.8 532.2h0M31.0 533.7h0M29.5 538.5h0M55.6 539.1h0M85.7 542.7h0M139.5 545.2h0M43.0 548.1h0M53.5 548.1h0M59.6 549.1h0M67.2 550.4h0M72.7 548.6h0M85.2 548.5h0M22.1 551.1h0M34.7 551.9h0M53.0 552.5h0M40.9 554.7h0M53.9 554.7h0M57.8 554.9h0M77.7 553.7h0M42.9 555.7h0M23.4 558.9h0M110.9 558.2h0M93.8 560.5h0M114.6 561.1h0M23.4 562.1h0M28.6 567.4h0M72.8 567.2h0M44.8 570.1h0M101.2 571.7h0M68.0 576.0h0M87.0 576.0h0M110.1 575.7h0M112.8 581.3h0M132.6 580.8h0M103.7 582.5h0M135.6 584.9h0M70.4 587.4h0M37.8 591.3h0M74.4 592.4h0M81.7 591.8h0M134.6 591.7h0M31.8 594.2h0M69.8 593.8h0M37.7 596.2h0M117.3 595.9h0M29.2 599.4h0M38.7 598.7h0M84.5 599.0h0M88.3 599.5h0M97.8 599.6h0M37.1 600.5h0M54.9 600.3h0M116.2 601.9h0M124.4 601.3h0M126.5 602.9h0M41.3 604.8h0M68.4 605.8h0M132.4 605.6h0M136.9 605.0h0M38.8 608.7h0M29.5 612.4h0M59.5 612.4h0M119.8 612.5h0M42.9 614.4h0M107.6 614.5h0M116.3 614.5h0M42.2 618.6h0M78.9 618.8h0M121.6 618.9h0" stroke="#262e92" stroke-width="1.5" stroke-linecap="round"/><path d="M112.1 525.0h0M122.8 525.0h0M74.7 526.9h0M135.6 527.5h0M20.1 528.7h0M48.8 530.1h0M56.6 529.2h0M65.0 529.5h0M74.2 528.4h0M116.6 528.8h0M118.5 528.6h0M134.5 529.7h0M37.4 531.8h0M46.0 531.0h0M45.5 533.6h0M56.3 533.2h0M58.0 533.7h0M34.7 536.5h0M57.3 536.0h0M70.2 536.3h0M33.0 537.9h0M30.0 542.0h0M67.6 542.6h0M25.8 544.9h0M29.1 545.8h0M47.6 544.7h0M69.8 545.1h0M80.3 545.8h0M76.5 548.0h0M86.5 547.2h0M57.4 549.3h0M19.9 551.4h0M55.8 551.6h0M63.4 551.9h0M94.7 550.8h0M117.6 551.4h0M28.9 553.2h0M47.1 553.5h0M79.9 553.4h0M113.5 553.6h0M128.6 553.4h0M22.7 556.2h0M33.0 556.2h0M34.7 556.7h0M60.3 556.4h0M63.7 556.7h0M65.9 556.2h0M73.7 557.2h0M92.0 556.0h0M122.6 555.9h0M132.7 555.4h0M66.8 557.9h0M19.8 560.8h0M57.8 561.3h0M81.5 560.4h0M25.8 563.2h0M62.7 562.8h0M72.6 563.6h0M108.9 563.1h0M112.4 563.3h0M136.8 562.4h0M138.9 562.5h0M48.5 564.4h0M59.9 565.3h0M71.3 564.3h0M78.2 565.4h0M81.0 564.8h0M109.1 565.8h0M32.4 568.3h0M33.6 568.3h0M74.8 568.1h0M82.6 567.5h0M29.5 572.2h0M36.7 572.1h0M44.7 572.8h0M46.8 571.6h0M72.3 572.3h0M20.8 574.3h0M24.8 573.7h0M26.8 574.7h0M62.4 574.9h0M109.0 574.5h0M114.9 573.8h0M70.3 577.3h0M71.4 576.4h0M125.2 576.6h0M133.6 576.8h0M27.2 579.1h0M68.2 577.7h0M89.3 579.0h0M130.1 579.2h0M67.2 580.6h0M23.4 582.5h0M69.4 583.7h0M86.5 582.5h0M136.9 582.8h0M62.0 585.6h0M83.3 585.7h0M115.0 585.0h0M75.6 588.4h0M81.0 587.4h0M93.2 587.0h0M103.9 587.3h0M118.6 587.4h0M136.5 587.9h0M82.6 590.8h0M82.8 592.4h0M102.3 592.8h0M114.2 592.7h0M137.4 592.3h0M77.7 594.2h0M138.1 594.5h0M19.9 596.7h0M48.8 596.6h0M68.8 598.1h0M139.2 598.7h0M40.5 601.0h0M43.8 601.4h0M81.9 601.4h0M129.1 600.9h0M139.2 601.8h0M36.0 603.1h0M39.0 602.8h0M51.5 603.2h0M98.2 603.2h0M121.6 603.4h0M136.4 602.7h0M29.3 606.2h0M42.8 605.0h0M55.7 605.5h0M78.9 605.5h0M105.9 606.3h0M67.4 607.9h0M77.5 607.6h0M105.2 608.1h0M111.1 609.8h0M97.4 612.8h0M45.0 613.7h0M92.3 614.1h0M67.7 616.1h0M78.1 616.8h0M38.0 619.6h0M83.3 618.7h0M92.2 619.4h0M129.5 618.4h0M132.1 618.2h0" stroke="#262e92" stroke-width="2.0" stroke-linecap="round"/><path d="M50.2 525.6h0M80.5 528.7h0M31.6 531.4h0M100.4 531.4h0M113.7 531.0h0M35.9 535.4h0M32.0 543.3h0M51.1 545.0h0M87.3 545.7h0M69.0 547.3h0M73.4 547.3h0M51.6 549.0h0M64.5 549.4h0M87.1 548.7h0M57.4 551.0h0M36.4 553.8h0M81.6 554.9h0M107.9 554.1h0M125.8 554.6h0M52.2 557.1h0M137.8 556.7h0M26.0 558.5h0M38.7 558.8h0M77.6 558.7h0M103.3 559.4h0M137.8 557.9h0M79.1 560.9h0M55.0 563.2h0M57.8 563.5h0M73.7 565.5h0M96.9 565.6h0M108.1 567.3h0M78.3 569.5h0M127.3 570.5h0M48.5 571.0h0M109.7 571.3h0M81.8 576.4h0M131.6 575.9h0M66.7 579.0h0M24.6 582.5h0M61.5 582.7h0M102.2 583.8h0M21.4 584.7h0M137.8 585.1h0M86.7 587.6h0M106.3 588.0h0M78.1 589.7h0M140.3 594.4h0M31.9 595.7h0M42.4 595.8h0M64.0 595.8h0M94.0 595.9h0M129.3 596.3h0M32.1 599.2h0M119.9 598.5h0M19.2 601.1h0M88.6 602.0h0M93.6 601.4h0M99.8 600.9h0M106.9 601.1h0M138.0 603.2h0M37.0 605.4h0M47.4 605.3h0M126.6 605.1h0M26.6 607.0h0M64.5 608.5h0M84.5 608.5h0M100.9 608.4h0M130.6 607.2h0M75.2 610.5h0M42.6 612.4h0M46.0 613.0h0M100.3 612.2h0M61.4 613.9h0M28.9 615.9h0M73.8 618.6h0" stroke="#262e92" stroke-width="2.5" stroke-linecap="round"/><path d="M105.9 525.1h0M41.7 527.6h0M52.2 527.3h0M81.9 526.3h0M128.7 527.9h0M130.9 527.2h0M30.1 530.0h0M99.2 528.5h0M115.0 529.6h0M130.1 529.2h0M141.7 529.1h0M29.2 530.8h0M34.0 531.0h0M63.8 531.9h0M75.7 531.0h0M95.4 532.2h0M22.9 533.4h0M32.7 533.6h0M21.9 535.2h0M39.7 541.3h0M56.7 539.7h0M28.6 542.3h0M55.3 543.1h0M57.4 543.4h0M77.8 542.2h0M95.9 543.2h0M111.1 541.9h0M31.0 544.7h0M43.3 544.9h0M74.3 545.2h0M100.4 544.5h0M102.5 545.7h0M114.9 545.5h0M125.0 545.3h0M22.3 547.4h0M55.2 546.5h0M102.0 546.7h0M24.1 548.9h0M33.5 549.2h0M42.1 549.6h0M79.4 549.6h0M83.1 549.8h0M89.8 549.3h0M100.5 549.3h0M122.4 549.0h0M135.8 549.0h0M24.4 551.0h0M68.4 551.3h0M139.5 552.4h0M100.5 553.4h0M120.5 553.2h0M108.5 555.8h0M75.7 558.5h0M131.1 557.7h0M38.5 561.6h0M50.3 561.4h0M66.4 561.5h0M107.1 560.9h0M75.5 562.0h0M110.2 562.9h0M118.3 562.9h0M55.9 564.7h0M113.4 564.3h0M116.0 565.1h0M139.7 565.8h0M76.8 567.9h0M84.4 567.3h0M103.5 567.9h0M87.1 570.6h0M99.6 569.0h0M135.1 569.0h0M79.1 571.1h0M132.6 572.6h0M92.1 575.1h0M124.6 574.9h0M137.2 574.3h0M26.5 577.0h0M28.5 577.0h0M90.9 576.8h0M95.5 576.0h0M123.3 575.7h0M136.5 577.3h0M57.9 579.6h0M86.3 578.9h0M90.8 579.3h0M131.8 578.4h0M139.2 577.8h0M21.5 580.0h0M23.2 581.1h0M81.3 582.4h0M116.7 582.4h0M133.9 583.0h0M49.3 585.1h0M51.5 586.0h0M68.2 587.0h0M101.5 587.9h0M132.6 586.9h0M87.8 589.8h0M89.4 590.1h0M32.6 593.0h0M35.9 592.9h0M42.5 592.4h0M96.2 592.0h0M74.3 593.5h0M95.7 594.7h0M23.0 596.9h0M59.0 597.3h0M137.3 596.3h0M140.7 596.4h0M73.1 599.6h0M115.6 599.1h0M33.7 601.0h0M105.1 601.0h0M141.7 602.0h0M28.6 602.7h0M47.6 603.4h0M67.8 602.5h0M69.4 603.1h0M83.0 603.5h0M80.8 606.1h0M121.3 605.8h0M37.2 608.3h0M70.5 608.6h0M126.6 608.0h0M88.3 610.5h0M75.2 612.4h0M58.3 613.6h0M89.0 614.5h0M38.2 617.4h0M112.7 617.5h0M27.6 618.8h0M60.9 619.2h0M99.0 619.6h0" stroke="#2e38a4" stroke-width="1.5" stroke-linecap="round"/><path d="M58.8 525.4h0M81.2 524.8h0M26.5 527.1h0M28.4 527.2h0M49.2 527.3h0M26.8 528.4h0M34.4 530.2h0M57.9 528.9h0M60.7 529.6h0M70.4 529.1h0M76.4 530.0h0M78.0 529.0h0M104.3 529.4h0M23.4 531.3h0M51.0 531.5h0M54.7 532.3h0M66.8 531.3h0M72.2 530.7h0M82.6 532.0h0M92.4 532.4h0M98.6 531.7h0M117.8 532.4h0M125.2 532.1h0M37.2 533.0h0M48.4 533.9h0M86.5 533.8h0M91.7 534.2h0M106.2 533.8h0M128.8 533.4h0M142.3 534.2h0M25.9 536.0h0M41.4 535.8h0M87.5 535.6h0M22.0 537.8h0M43.3 538.5h0M53.5 538.7h0M98.7 538.6h0M109.2 538.0h0M113.6 537.6h0M119.5 539.1h0M49.3 540.8h0M69.0 540.7h0M76.7 540.2h0M84.4 539.8h0M94.7 540.3h0M121.4 540.8h0M132.8 541.0h0M140.3 540.5h0M19.4 543.6h0M41.3 542.7h0M66.3 542.1h0M75.8 543.1h0M83.4 541.8h0M88.3 542.1h0M94.3 543.7h0M54.0 544.5h0M95.7 545.1h0M98.1 545.1h0M141.7 545.5h0M20.9 546.8h0M28.0 548.1h0M31.1 547.6h0M37.3 546.8h0M40.7 546.5h0M48.0 547.1h0M84.4 547.1h0M115.1 547.7h0M30.8 549.1h0M61.5 550.3h0M69.3 550.2h0M138.7 548.9h0M37.9 550.9h0M45.1 550.8h0M66.4 552.1h0M78.0 552.6h0M82.1 552.7h0M88.1 551.5h0M101.4 552.6h0M103.9 550.8h0M111.4 551.7h0M134.1 551.4h0M142.6 552.2h0M23.9 553.7h0M43.6 554.6h0M74.7 553.4h0M118.4 554.2h0M130.4 554.3h0M103.6 556.6h0M111.8 556.4h0M105.9 558.0h0M113.0 558.5h0M118.1 559.0h0M23.1 561.5h0M67.5 561.5h0M83.5 560.1h0M96.7 559.9h0M102.4 561.0h0M108.8 560.4h0M117.6 561.4h0M21.9 562.2h0M30.6 563.2h0M33.1 562.6h0M59.7 562.9h0M69.2 562.7h0M80.6 563.7h0M93.5 563.3h0M140.6 562.4h0M31.1 565.9h0M63.7 564.6h0M101.2 564.9h0M54.2 567.8h0M57.4 568.2h0M68.9 567.9h0M79.3 568.4h0M49.7 570.1h0M72.7 569.5h0M33.8 572.4h0M52.0 572.7h0M84.7 572.2h0M130.5 572.7h0M42.9 573.5h0M45.6 574.3h0M69.2 575.0h0M70.5 574.7h0M73.4 573.5h0M88.4 575.0h0M93.8 574.6h0M116.3 574.0h0M119.5 574.3h0M126.7 574.4h0M129.8 574.6h0M141.5 574.3h0M24.4 576.2h0M36.2 575.5h0M75.0 576.5h0M84.7 577.3h0M103.1 576.0h0M115.3 577.2h0M127.9 576.7h0M20.8 578.4h0M22.4 578.0h0M25.7 577.9h0M30.3 577.9h0M38.4 578.9h0M59.9 578.4h0M74.5 578.1h0M98.2 579.2h0M104.3 579.6h0M122.3 578.5h0M136.7 578.2h0M76.4 581.6h0M105.9 580.7h0M122.7 580.4h0M128.3 580.7h0M20.2 583.7h0M41.2 583.9h0M74.1 583.2h0M114.7 583.5h0M55.0 585.6h0M59.5 585.9h0M76.6 585.7h0M79.6 585.3h0M84.9 585.1h0M87.8 584.5h0M91.9 584.8h0M125.9 584.5h0M25.7 588.1h0M45.1 588.1h0M58.9 586.9h0M73.4 588.3h0M34.2 589.2h0M47.4 589.9h0M52.5 590.7h0M71.8 589.1h0M73.9 589.7h0M85.0 590.1h0M116.4 589.0h0M133.9 589.6h0M138.7 589.6h0M141.0 590.3h0M39.6 591.7h0M50.7 592.5h0M53.1 592.2h0M76.1 592.5h0M88.2 591.9h0M23.5 594.4h0M42.5 593.4h0M49.3 595.0h0M51.8 595.0h0M57.5 594.1h0M64.0 593.8h0M113.5 594.9h0M120.1 594.7h0M41.2 596.2h0M53.8 596.5h0M60.1 596.0h0M74.2 596.1h0M92.1 597.0h0M95.6 596.2h0M120.1 596.8h0M21.0 599.1h0M83.0 599.6h0M108.5 598.2h0M30.9 601.5h0M53.8 600.7h0M97.2 601.7h0M101.7 601.5h0M120.0 601.2h0M33.4 603.0h0M41.0 602.7h0M43.7 604.0h0M84.6 602.9h0M103.3 602.8h0M113.3 604.0h0M117.7 602.9h0M88.1 605.4h0M90.9 604.7h0M99.3 606.0h0M101.1 605.2h0M113.4 606.2h0M123.8 606.2h0M30.9 608.0h0M43.8 607.1h0M48.4 607.7h0M83.2 607.7h0M92.0 607.1h0M139.0 607.7h0M33.2 610.6h0M43.5 610.7h0M46.3 610.1h0M51.5 610.0h0M60.7 610.7h0M86.9 610.2h0M101.3 609.3h0M113.5 611.0h0M119.6 609.6h0M122.2 610.6h0M39.9 611.7h0M61.5 611.8h0M82.2 613.2h0M56.1 614.8h0M73.1 614.5h0M76.9 614.5h0M128.8 615.3h0M136.8 614.1h0M36.9 617.0h0M47.5 616.8h0M57.9 617.6h0M118.7 616.4h0M130.2 617.5h0M136.7 617.6h0M48.7 618.5h0M63.1 618.7h0M70.2 618.7h0M112.7 618.8h0M116.8 619.5h0M125.2 618.3h0" stroke="#2e38a4" stroke-width="2.0" stroke-linecap="round"/><path d="M101.4 525.5h0M123.8 525.0h0M110.6 526.9h0M43.9 529.7h0M50.8 530.2h0M53.1 529.1h0M111.0 528.9h0M139.9 529.6h0M120.4 531.4h0M127.5 532.2h0M134.3 531.1h0M138.5 531.0h0M40.1 534.4h0M54.0 533.8h0M75.5 534.0h0M87.9 532.9h0M104.3 534.4h0M127.3 533.4h0M132.5 533.5h0M137.0 533.1h0M72.2 536.0h0M74.8 535.9h0M81.6 536.3h0M35.6 537.4h0M25.5 540.7h0M55.1 540.7h0M67.0 539.8h0M102.2 540.0h0M128.1 541.1h0M53.9 542.2h0M81.9 542.6h0M90.5 543.4h0M101.2 542.8h0M131.7 543.5h0M134.8 543.0h0M38.7 545.3h0M21.1 549.2h0M39.6 549.5h0M110.4 549.3h0M29.8 551.8h0M73.4 551.7h0M76.5 552.0h0M33.6 553.5h0M66.4 554.8h0M73.2 554.2h0M29.3 556.8h0M55.2 556.3h0M67.7 555.5h0M125.4 555.8h0M28.5 558.4h0M80.6 558.0h0M64.1 560.5h0M75.3 561.1h0M98.3 561.4h0M52.2 563.8h0M21.8 564.5h0M31.9 565.1h0M106.7 564.7h0M112.0 564.6h0M141.1 567.9h0M68.2 568.9h0M81.2 569.3h0M102.4 569.2h0M55.1 571.2h0M75.7 572.6h0M81.7 572.3h0M22.5 574.2h0M56.0 574.4h0M140.4 574.2h0M41.4 576.0h0M44.0 577.2h0M59.8 575.9h0M61.5 575.9h0M93.0 576.3h0M116.9 578.2h0M28.7 581.4h0M31.7 581.3h0M32.0 583.2h0M99.3 582.8h0M32.0 585.3h0M72.1 584.8h0M43.2 586.8h0M49.7 587.3h0M90.5 587.4h0M96.8 587.7h0M36.0 588.9h0M135.9 589.8h0M86.1 591.8h0M98.9 591.7h0M35.3 597.2h0M25.4 598.0h0M73.9 599.7h0M141.5 599.1h0M36.2 600.9h0M58.8 601.2h0M83.9 601.4h0M32.2 602.4h0M80.5 603.1h0M134.2 605.7h0M41.8 608.7h0M51.8 608.4h0M53.6 608.4h0M97.6 608.6h0M132.6 607.2h0M136.0 608.4h0M35.4 609.6h0M78.9 610.2h0M104.5 609.3h0M132.9 609.6h0M139.7 610.2h0M53.6 612.0h0M56.6 612.7h0M68.0 612.1h0M31.4 615.9h0M41.6 617.7h0M83.2 617.1h0M127.8 617.5h0M68.4 619.2h0M137.5 619.5h0" stroke="#2e38a4" stroke-width="2.5" stroke-linecap="round"/><path d="M99.5 525.0h0M100.9 527.1h0M133.0 527.0h0M142.0 527.6h0M24.9 529.7h0M37.0 529.3h0M124.7 529.3h0M38.6 531.2h0M45.0 531.6h0M103.5 530.8h0M106.1 532.1h0M135.7 532.1h0M141.0 531.1h0M19.2 533.5h0M25.8 534.4h0M81.8 533.4h0M121.6 534.1h0M39.7 535.5h0M79.8 535.4h0M141.5 535.5h0M20.1 538.5h0M70.8 538.1h0M107.6 538.2h0M129.6 537.4h0M131.3 539.1h0M37.4 541.2h0M108.7 540.4h0M73.2 543.1h0M98.8 543.1h0M119.8 543.5h0M21.2 545.6h0M77.6 544.1h0M50.3 547.1h0M103.6 547.1h0M112.4 547.2h0M25.5 550.1h0M29.1 548.9h0M54.8 550.4h0M84.0 551.1h0M86.4 552.0h0M128.9 551.6h0M26.5 554.1h0M105.2 553.7h0M107.3 559.0h0M103.3 559.8h0M29.5 563.6h0M102.1 563.1h0M20.7 564.6h0M53.0 564.7h0M98.4 565.8h0M63.9 567.8h0M97.3 567.9h0M127.5 567.2h0M35.7 570.6h0M30.5 571.7h0M56.8 571.7h0M64.0 572.8h0M69.3 572.1h0M58.7 573.7h0M99.0 574.6h0M132.1 574.2h0M34.5 576.1h0M49.9 575.8h0M32.1 579.1h0M125.2 578.2h0M127.9 578.0h0M90.7 581.5h0M29.7 582.6h0M83.8 583.8h0M28.5 586.3h0M57.2 585.9h0M89.9 586.3h0M97.6 584.8h0M33.1 588.4h0M54.1 587.5h0M134.8 587.5h0M41.4 590.8h0M98.2 589.6h0M20.3 592.3h0M29.7 591.8h0M139.9 592.7h0M21.2 593.7h0M99.7 593.9h0M53.5 598.3h0M100.6 599.1h0M71.6 602.4h0M100.0 602.7h0M118.6 605.3h0M93.6 610.8h0M95.9 610.9h0M116.8 610.1h0M95.7 611.4h0M118.1 611.7h0M141.3 613.2h0M34.7 613.7h0M65.0 614.7h0M83.4 614.5h0M120.1 614.8h0M64.6 616.7h0M121.1 616.2h0M35.1 618.5h0" stroke="#3642b4" stroke-width="1.5" stroke-linecap="round"/><path d="M126.3 525.1h0M31.0 527.7h0M44.2 527.5h0M55.2 527.6h0M76.8 527.0h0M106.1 526.4h0M126.8 527.8h0M46.0 528.6h0M108.9 529.8h0M122.6 529.7h0M132.0 529.3h0M22.2 530.7h0M60.1 531.3h0M77.9 531.2h0M108.3 532.2h0M78.5 533.1h0M93.3 534.7h0M109.1 533.0h0M111.1 533.5h0M114.0 534.5h0M117.2 534.2h0M90.5 535.8h0M93.1 537.0h0M95.1 535.9h0M99.8 536.1h0M122.7 536.0h0M131.1 535.1h0M134.2 536.3h0M135.8 535.5h0M75.8 539.0h0M97.1 538.7h0M111.4 537.8h0M116.3 538.4h0M122.8 538.7h0M134.2 538.8h0M137.0 538.9h0M21.8 539.9h0M28.9 540.8h0M31.9 541.4h0M65.3 540.7h0M87.4 541.2h0M117.3 540.7h0M130.8 541.4h0M37.1 545.4h0M85.5 545.3h0M121.5 544.1h0M32.8 546.6h0M35.7 548.2h0M71.7 547.2h0M96.2 546.3h0M119.2 546.4h0M122.5 547.2h0M137.6 547.3h0M36.7 548.6h0M48.5 548.7h0M97.0 549.4h0M103.2 549.9h0M125.1 550.1h0M134.2 548.6h0M47.2 550.8h0M121.5 550.9h0M136.7 552.5h0M111.4 553.8h0M115.9 553.0h0M136.5 553.1h0M25.3 556.6h0M79.3 556.3h0M37.0 558.6h0M56.5 558.7h0M141.9 558.6h0M27.0 560.2h0M140.7 560.3h0M49.6 563.7h0M64.7 562.3h0M131.6 563.5h0M49.9 565.5h0M60.1 567.0h0M66.9 567.1h0M86.9 567.7h0M93.0 568.1h0M31.0 570.4h0M31.8 570.0h0M75.7 570.2h0M133.1 569.8h0M137.3 570.4h0M77.7 571.7h0M126.0 572.6h0M135.7 572.1h0M138.1 572.1h0M32.6 574.8h0M61.0 574.5h0M80.4 575.1h0M100.7 574.9h0M122.1 574.9h0M32.0 575.9h0M55.3 575.7h0M117.5 575.5h0M120.1 575.5h0M50.3 577.9h0M102.2 578.8h0M115.2 578.6h0M26.1 581.2h0M34.3 581.0h0M36.2 580.8h0M54.5 581.2h0M57.5 580.9h0M115.4 581.4h0M131.5 580.2h0M138.6 580.0h0M140.3 580.6h0M43.6 582.7h0M88.2 582.8h0M123.8 583.1h0M127.6 583.1h0M37.3 586.1h0M70.3 585.1h0M101.9 586.3h0M121.4 584.6h0M30.5 587.5h0M34.7 588.5h0M59.9 586.9h0M140.1 588.3h0M25.9 590.4h0M39.4 589.5h0M55.1 589.5h0M57.5 589.2h0M102.2 589.3h0M90.8 592.5h0M94.5 591.4h0M79.0 593.7h0M115.1 595.3h0M24.8 596.8h0M29.9 597.4h0M55.8 596.4h0M76.0 596.3h0M78.9 595.9h0M99.0 595.7h0M33.3 599.8h0M40.8 599.0h0M117.4 598.7h0M77.0 600.5h0M114.5 600.4h0M137.8 601.0h0M75.0 603.6h0M76.9 602.4h0M114.7 603.2h0M141.6 603.7h0M87.2 606.3h0M117.3 604.7h0M129.9 606.0h0M72.0 607.1h0M117.7 607.2h0M123.4 608.4h0M141.5 607.1h0M39.7 609.9h0M48.8 609.6h0M58.3 610.3h0M83.9 610.4h0M98.6 611.0h0M127.0 610.0h0M71.6 613.1h0M85.7 612.0h0M115.7 613.2h0M122.5 612.8h0M136.3 612.9h0M137.9 611.9h0M32.8 615.2h0M36.9 614.6h0M78.4 615.1h0M94.0 613.9h0M134.0 614.4h0M139.9 614.2h0M142.6 615.4h0M84.6 616.6h0M122.7 616.5h0M57.6 618.3h0M88.8 619.0h0M114.3 619.7h0" stroke="#3642b4" stroke-width="2.0" stroke-linecap="round"/><path d="M36.8 527.8h0M56.4 527.1h0M114.0 527.4h0M138.3 527.2h0M137.2 529.8h0M27.2 531.5h0M85.3 532.0h0M71.6 533.1h0M74.0 534.7h0M100.8 534.6h0M118.6 533.7h0M53.9 535.9h0M118.1 535.4h0M137.7 536.0h0M86.3 538.8h0M74.5 539.7h0M81.7 540.9h0M89.9 540.5h0M137.8 541.3h0M116.7 543.5h0M121.6 542.3h0M137.8 542.7h0M71.9 544.1h0M117.5 544.1h0M123.9 545.1h0M127.8 545.6h0M44.6 546.9h0M77.9 546.4h0M99.5 547.0h0M124.3 546.9h0M140.4 547.2h0M141.9 547.8h0M77.7 549.3h0M121.3 548.7h0M131.4 550.4h0M43.6 551.3h0M106.0 552.1h0M119.2 552.7h0M64.4 553.8h0M102.5 553.1h0M139.4 553.6h0M80.6 557.0h0M140.7 555.8h0M32.4 560.9h0M74.0 561.5h0M57.8 564.8h0M65.7 564.8h0M95.6 566.5h0M130.8 567.9h0M139.0 567.7h0M86.6 571.0h0M94.9 572.0h0M140.9 571.7h0M41.2 575.0h0M65.8 574.0h0M75.3 573.3h0M134.3 573.3h0M52.4 577.0h0M55.8 578.2h0M78.0 578.0h0M82.8 578.1h0M61.2 581.8h0M74.9 580.4h0M80.6 581.5h0M84.3 580.5h0M100.0 580.9h0M35.0 583.1h0M53.7 582.4h0M57.7 583.1h0M70.2 584.1h0M128.9 582.8h0M47.5 585.8h0M75.8 585.6h0M141.4 585.8h0M21.9 587.3h0M40.2 587.6h0M56.1 587.7h0M116.5 587.7h0M122.5 586.7h0M32.3 590.1h0M44.2 589.4h0M60.3 593.6h0M27.6 596.6h0M60.4 599.4h0M78.2 598.4h0M102.0 598.3h0M46.0 601.9h0M73.5 600.9h0M46.1 605.4h0M141.6 605.6h0M29.6 607.5h0M90.9 608.8h0M36.2 612.0h0M70.4 611.7h0M90.2 613.1h0M80.7 613.8h0M85.7 614.4h0M44.1 617.7h0M58.9 615.9h0M62.5 616.2h0M91.8 616.7h0" stroke="#3642b4" stroke-width="2.5" stroke-linecap="round"/><path d="M108.9 527.3h0M122.9 531.3h0M140.7 534.6h0M115.3 536.3h0M73.3 537.7h0M101.3 538.4h0M139.0 538.8h0M105.3 541.2h0M126.1 540.2h0M136.8 539.8h0M108.8 542.9h0M114.4 542.2h0M124.3 542.4h0M82.5 544.4h0M113.3 544.7h0M130.5 544.1h0M134.0 545.6h0M129.0 547.8h0M30.9 561.6h0M92.3 565.8h0M51.1 566.8h0M55.6 570.4h0M141.8 568.8h0M54.0 578.0h0M94.1 578.1h0M93.1 581.6h0M121.5 581.5h0M27.6 583.1h0M25.7 584.5h0M96.0 585.5h0M118.7 585.0h0M73.2 605.1h0M127.5 611.4h0M50.2 616.4h0M126.4 616.7h0M138.6 616.5h0" stroke="#404cc0" stroke-width="1.5" stroke-linecap="round"/><path d="M37.3 525.3h0M53.1 525.0h0M39.0 526.9h0M40.5 529.0h0M106.4 529.1h0M116.0 531.3h0M96.4 533.4h0M24.8 536.9h0M98.3 536.3h0M102.9 535.3h0M78.6 538.6h0M104.9 539.2h0M79.8 539.6h0M114.8 540.1h0M106.6 542.5h0M129.4 542.6h0M140.7 542.1h0M107.2 545.5h0M108.8 547.6h0M131.5 546.7h0M134.2 548.1h0M108.3 552.7h0M89.2 568.0h0M134.1 567.0h0M53.2 568.9h0M58.3 570.5h0M60.0 570.1h0M63.1 570.3h0M90.8 569.7h0M67.1 571.3h0M92.1 571.8h0M96.9 572.6h0M39.6 577.2h0M46.3 575.9h0M57.2 577.1h0M100.2 576.7h0M141.7 576.9h0M42.6 578.7h0M81.0 579.5h0M96.0 578.6h0M118.7 578.8h0M38.7 580.4h0M44.7 580.9h0M47.4 580.7h0M49.1 580.7h0M23.8 589.0h0M22.0 592.0h0M53.6 593.6h0M79.5 599.1h0M71.1 600.2h0M77.9 600.4h0M53.6 609.5h0M125.5 612.2h0M47.6 614.7h0M122.7 613.7h0M123.9 614.4h0M55.4 616.2h0M141.9 617.0h0" stroke="#404cc0" stroke-width="2.0" stroke-linecap="round"/><path d="M127.7 529.6h0M110.3 532.4h0M84.5 534.0h0M99.8 533.6h0M77.8 535.5h0M108.2 535.7h0M110.8 536.7h0M113.2 535.6h0M82.0 538.1h0M88.4 538.3h0M90.5 538.5h0M124.1 539.0h0M127.6 537.6h0M128.0 547.7h0M141.3 549.9h0M89.2 564.3h0M66.2 569.0h0M70.2 569.9h0M88.5 570.6h0M95.9 569.4h0M140.6 569.9h0M63.0 571.8h0M90.7 571.2h0M47.2 575.0h0M45.3 579.4h0M47.2 578.5h0M41.6 581.8h0M136.4 580.8h0M122.5 582.6h0M34.1 585.8h0M42.2 585.4h0M43.4 586.1h0M99.7 585.9h0M38.3 587.5h0M99.3 587.1h0M128.1 608.5h0M124.2 609.9h0M129.8 610.5h0M131.7 611.4h0M132.0 614.8h0M133.7 616.5h0" stroke="#404cc0" stroke-width="2.5" stroke-linecap="round"/></g>
<path d="M48.0 534.0h0M50.0 552.0h0M95.0 550.0h0M30.0 597.0h0" stroke="#80f0d8" stroke-width="1.7" stroke-linecap="round" opacity="0.85"/>
</g>
<clipPath id="c14"><rect x="143.8" y="525.8" width="121.2" height="93"/></clipPath>
<g clip-path="url(#c14)">
<rect x="143.8" y="525.8" width="121.2" height="93" fill="#080a22"/>
<g filter="url(#cb)"><path d="M254.0 534.2h0M203.2 536.2h0M234.2 536.8h0M255.7 548.0h0M261.8 550.4h0M154.8 552.5h0M257.8 552.4h0M256.5 553.1h0M161.9 556.5h0M241.1 556.4h0M234.0 558.4h0M248.0 559.1h0M154.9 561.3h0M261.7 560.5h0M264.3 578.0h0M206.1 580.7h0M211.7 583.0h0M164.8 584.7h0M232.4 589.8h0M241.7 590.2h0M263.2 590.0h0M260.3 591.8h0M162.2 597.0h0M154.9 603.9h0M223.6 617.0h0M226.9 616.1h0" stroke="#22308a" stroke-width="1.5" stroke-linecap="round"/><path d="M190.1 529.3h0M199.4 528.9h0M195.3 531.7h0M165.1 533.5h0M199.9 533.5h0M258.0 533.7h0M261.6 532.9h0M231.9 536.3h0M157.0 539.1h0M196.8 539.2h0M199.7 538.3h0M252.1 540.1h0M261.0 542.2h0M225.0 557.1h0M249.1 556.7h0M259.1 556.5h0M195.8 557.5h0M219.1 558.2h0M233.3 561.0h0M234.5 562.5h0M223.7 565.1h0M223.4 567.7h0M204.7 570.4h0M224.2 572.4h0M223.4 574.2h0M159.3 579.4h0M162.0 579.5h0M160.0 581.2h0M243.9 581.5h0M161.7 582.5h0M261.1 583.1h0M264.1 585.3h0M158.4 588.4h0M229.5 590.4h0M164.6 592.1h0M232.8 592.2h0M165.8 594.3h0M259.8 593.9h0M242.8 598.4h0M156.2 601.0h0M160.8 601.9h0M163.4 605.8h0M155.1 607.1h0M156.2 609.3h0M232.3 612.6h0M233.4 612.8h0M261.5 613.0h0M225.2 613.8h0M259.3 618.9h0" stroke="#22308a" stroke-width="2.0" stroke-linecap="round"/><path d="M154.8 530.7h0M203.0 540.7h0M227.1 555.5h0M266.0 556.3h0M162.9 557.6h0M169.6 560.1h0M243.3 560.6h0M247.5 562.9h0M214.4 572.2h0M222.2 572.4h0M204.8 578.8h0M157.8 581.7h0M204.4 581.7h0M149.8 586.2h0M172.5 587.9h0M261.5 587.4h0M255.1 594.9h0M165.9 596.6h0M160.9 602.8h0M226.1 603.8h0M197.6 613.9h0M150.1 617.5h0" stroke="#22308a" stroke-width="2.5" stroke-linecap="round"/><path d="M185.3 527.4h0M188.0 526.7h0M194.4 526.5h0M151.8 529.4h0M207.7 529.4h0M263.3 531.6h0M186.5 534.3h0M204.3 533.0h0M210.8 533.9h0M223.6 534.0h0M157.8 535.1h0M164.8 535.1h0M201.7 536.6h0M259.7 536.8h0M264.2 536.6h0M247.6 538.2h0M253.9 538.7h0M168.8 539.6h0M191.6 539.8h0M196.3 540.3h0M225.3 542.7h0M173.9 547.1h0M220.2 546.4h0M252.5 548.1h0M180.6 549.4h0M174.7 551.2h0M192.6 552.6h0M230.4 552.6h0M151.1 554.8h0M152.5 554.2h0M192.6 554.6h0M225.1 554.0h0M240.2 554.0h0M259.5 554.5h0M152.0 557.0h0M232.7 555.9h0M229.5 558.7h0M239.6 558.7h0M145.6 561.3h0M149.4 560.0h0M241.4 561.3h0M264.5 560.0h0M232.4 563.6h0M236.3 563.4h0M169.5 565.8h0M184.5 568.7h0M218.5 570.0h0M204.3 571.0h0M236.0 572.0h0M177.5 573.3h0M179.5 574.7h0M182.1 573.8h0M183.9 575.1h0M209.5 573.8h0M224.9 574.8h0M242.3 574.8h0M169.0 577.1h0M174.8 575.7h0M203.7 576.5h0M212.1 575.5h0M264.7 577.0h0M215.5 579.1h0M241.6 578.4h0M194.5 582.9h0M220.9 582.3h0M242.6 583.1h0M173.8 586.0h0M207.9 584.5h0M211.7 586.3h0M213.9 584.9h0M241.6 586.1h0M260.0 585.7h0M188.9 587.4h0M264.3 586.8h0M174.0 590.1h0M198.8 590.8h0M247.4 590.5h0M259.4 589.1h0M161.5 592.1h0M173.9 591.9h0M228.4 591.9h0M249.3 591.7h0M171.0 594.3h0M172.1 596.4h0M176.1 598.2h0M216.4 599.5h0M229.5 599.5h0M170.2 601.8h0M200.8 601.8h0M178.6 603.9h0M219.0 603.5h0M242.2 603.7h0M217.0 606.5h0M238.8 605.8h0M225.8 608.5h0M228.7 608.4h0M235.1 607.3h0M241.3 608.1h0M204.2 610.3h0M184.1 611.6h0M254.6 612.8h0M147.0 615.0h0M150.8 613.6h0M259.3 614.2h0M145.3 617.0h0M201.2 616.7h0M259.1 617.6h0M163.4 618.8h0M186.8 619.6h0M190.0 618.1h0M202.0 619.4h0M224.6 619.2h0" stroke="#2a3aa0" stroke-width="1.5" stroke-linecap="round"/><path d="M199.1 525.6h0M236.5 524.9h0M240.9 524.9h0M148.0 527.4h0M198.1 526.4h0M224.6 527.6h0M229.7 527.1h0M231.5 526.9h0M233.5 527.3h0M239.4 527.3h0M259.0 527.4h0M148.3 529.6h0M197.5 529.8h0M211.9 529.8h0M235.8 528.8h0M166.3 531.4h0M192.9 530.9h0M197.8 531.4h0M229.1 531.5h0M237.6 530.8h0M264.5 531.2h0M230.9 532.9h0M154.9 535.4h0M162.4 535.1h0M191.8 536.9h0M221.4 535.1h0M250.5 535.5h0M154.7 538.1h0M161.3 538.4h0M164.8 537.9h0M166.4 538.1h0M207.6 537.5h0M222.5 537.9h0M225.5 537.6h0M228.0 538.6h0M237.9 537.4h0M250.5 537.6h0M189.0 540.7h0M249.7 540.0h0M260.6 540.7h0M263.0 540.6h0M157.2 543.7h0M210.2 542.3h0M245.0 543.4h0M254.1 542.4h0M155.1 545.1h0M193.5 544.2h0M215.7 544.4h0M260.7 544.1h0M218.3 546.9h0M242.5 546.9h0M250.7 547.4h0M189.0 550.3h0M223.7 550.1h0M254.7 548.8h0M264.6 548.6h0M165.1 552.3h0M187.6 552.4h0M218.0 551.9h0M246.6 552.7h0M251.2 551.0h0M263.3 551.1h0M155.1 554.1h0M187.9 554.0h0M219.8 553.3h0M232.7 554.1h0M242.2 553.2h0M252.8 554.6h0M264.7 554.8h0M153.5 557.1h0M164.6 555.3h0M171.7 557.0h0M174.0 555.5h0M190.4 557.1h0M197.3 556.6h0M205.3 556.0h0M222.0 556.9h0M263.6 555.5h0M259.9 557.6h0M152.3 560.5h0M159.4 559.8h0M189.7 561.5h0M221.2 559.9h0M230.8 561.0h0M249.1 560.3h0M146.8 563.4h0M249.4 562.2h0M265.4 562.7h0M146.6 565.5h0M200.8 566.1h0M248.6 565.3h0M144.3 567.3h0M165.2 568.1h0M181.2 568.1h0M212.3 567.6h0M233.9 568.0h0M143.0 569.8h0M153.4 570.2h0M213.4 570.3h0M220.2 569.6h0M222.5 569.2h0M170.8 571.6h0M205.9 572.2h0M216.2 571.4h0M240.0 572.1h0M205.5 573.6h0M215.2 573.7h0M217.5 573.3h0M228.8 573.7h0M241.2 574.3h0M245.7 574.8h0M178.1 577.3h0M220.9 575.8h0M211.0 579.2h0M227.2 578.8h0M246.0 578.6h0M177.8 581.4h0M180.0 581.2h0M209.1 580.8h0M223.8 580.3h0M251.2 580.6h0M255.5 581.7h0M261.9 580.3h0M171.5 582.9h0M202.1 583.4h0M210.0 583.0h0M237.5 583.1h0M251.1 582.8h0M255.1 582.9h0M162.4 585.8h0M249.4 585.8h0M254.0 586.2h0M151.3 586.9h0M154.0 586.8h0M176.8 587.7h0M179.7 587.1h0M209.7 588.1h0M213.3 588.3h0M231.4 588.5h0M249.1 587.7h0M252.9 588.2h0M150.2 590.6h0M153.2 590.2h0M157.9 589.8h0M171.3 590.7h0M175.5 590.7h0M200.8 589.1h0M213.5 589.3h0M236.1 590.6h0M264.1 590.0h0M144.2 591.5h0M156.8 591.2h0M158.8 591.6h0M199.6 592.5h0M251.2 593.0h0M253.0 592.9h0M150.3 595.0h0M157.5 595.0h0M202.9 593.9h0M224.7 594.3h0M244.5 593.7h0M256.4 595.1h0M164.7 596.6h0M222.9 597.3h0M240.2 596.9h0M144.9 598.5h0M156.0 599.6h0M161.2 599.6h0M172.3 598.7h0M233.7 598.6h0M257.7 599.1h0M172.7 601.1h0M202.8 600.3h0M245.2 600.4h0M260.2 600.2h0M166.4 602.5h0M195.6 603.6h0M202.1 604.1h0M216.1 603.6h0M222.2 603.5h0M156.9 606.5h0M160.0 605.9h0M168.8 605.2h0M224.6 605.1h0M231.2 606.2h0M235.3 604.8h0M158.6 607.1h0M163.8 608.0h0M219.2 607.5h0M221.3 608.1h0M239.1 608.4h0M158.3 609.4h0M218.4 610.5h0M220.3 609.9h0M229.6 609.8h0M233.5 610.3h0M237.6 609.2h0M160.5 612.7h0M201.5 611.8h0M226.5 611.5h0M247.9 611.4h0M251.4 612.1h0M259.4 612.9h0M265.2 612.6h0M250.8 614.8h0M153.4 617.6h0M222.1 617.2h0M228.8 617.1h0M257.1 616.1h0M262.7 616.0h0M146.8 619.0h0M156.9 618.4h0M228.2 618.6h0M246.4 619.6h0M253.5 618.7h0M260.7 618.8h0" stroke="#2a3aa0" stroke-width="2.0" stroke-linecap="round"/><path d="M143.8 525.3h0M205.6 529.8h0M213.4 532.1h0M249.9 531.1h0M190.3 534.6h0M160.0 535.6h0M239.2 535.6h0M203.3 538.3h0M154.6 540.5h0M226.3 541.2h0M244.9 540.6h0M151.3 543.5h0M154.9 543.7h0M158.4 543.6h0M171.8 542.6h0M256.9 543.3h0M190.4 544.3h0M208.0 544.2h0M251.8 545.7h0M171.8 546.9h0M154.4 549.5h0M186.3 550.0h0M246.8 549.3h0M256.9 548.6h0M203.9 554.4h0M246.4 553.1h0M262.6 553.6h0M159.6 556.5h0M200.5 556.3h0M202.6 556.2h0M219.4 556.4h0M160.7 559.8h0M155.1 563.6h0M229.3 562.7h0M238.5 563.3h0M151.5 565.2h0M184.8 565.1h0M213.4 565.4h0M215.0 566.0h0M227.6 565.0h0M229.8 566.1h0M176.2 568.3h0M232.0 568.0h0M225.0 570.3h0M152.8 572.1h0M187.7 571.6h0M229.8 571.9h0M254.0 571.1h0M251.1 574.5h0M196.2 576.3h0M209.4 575.9h0M239.1 577.2h0M165.8 578.7h0M169.4 579.3h0M179.8 579.3h0M197.3 578.6h0M242.8 578.9h0M195.9 580.6h0M158.6 582.3h0M262.7 582.9h0M244.6 586.1h0M145.5 587.1h0M155.9 587.5h0M162.4 587.3h0M205.6 587.5h0M257.6 588.0h0M206.3 589.0h0M176.6 592.1h0M242.4 591.7h0M144.1 595.2h0M154.9 594.3h0M234.0 594.1h0M157.3 596.6h0M252.6 596.9h0M167.7 599.3h0M151.1 601.6h0M219.7 601.6h0M224.6 601.1h0M240.4 606.4h0M194.3 608.6h0M224.1 608.0h0M236.3 607.8h0M153.7 610.9h0M227.1 609.5h0M147.6 612.8h0M173.7 612.8h0M238.9 611.4h0M200.4 615.4h0M218.2 615.4h0M147.8 616.1h0M149.3 619.0h0M223.5 619.2h0M255.6 618.5h0M264.5 619.4h0" stroke="#2a3aa0" stroke-width="2.5" stroke-linecap="round"/><path d="M174.0 525.6h0M211.9 527.5h0M245.0 527.5h0M264.9 526.2h0M230.5 529.7h0M258.5 529.2h0M144.6 531.8h0M147.6 531.8h0M182.9 530.8h0M201.0 531.5h0M209.1 530.7h0M194.9 533.9h0M233.3 534.7h0M240.9 534.1h0M150.7 536.8h0M188.3 535.6h0M197.8 536.9h0M206.7 535.7h0M226.0 535.4h0M182.0 538.5h0M194.4 538.3h0M205.9 538.3h0M212.4 538.6h0M258.0 537.8h0M161.0 540.2h0M163.0 540.9h0M186.4 542.5h0M201.8 542.5h0M208.1 542.6h0M153.6 545.4h0M160.2 545.9h0M211.9 544.2h0M232.4 545.4h0M236.0 545.6h0M246.7 545.1h0M155.8 547.8h0M196.5 549.4h0M226.1 549.9h0M160.9 552.1h0M207.1 552.6h0M239.0 551.1h0M226.4 553.4h0M147.2 556.7h0M148.2 556.1h0M184.4 556.5h0M192.0 556.8h0M149.5 559.3h0M193.6 559.3h0M156.6 560.9h0M167.1 560.4h0M187.8 561.5h0M206.8 560.6h0M211.7 561.3h0M218.4 560.9h0M173.3 562.3h0M195.7 563.3h0M158.9 564.5h0M161.2 565.3h0M264.3 564.8h0M161.3 566.6h0M203.6 566.9h0M217.3 567.1h0M221.2 567.3h0M242.0 567.1h0M243.9 567.5h0M247.5 569.6h0M253.8 570.5h0M255.1 569.5h0M156.2 572.2h0M157.0 571.3h0M172.4 572.7h0M177.5 571.5h0M245.2 572.0h0M197.6 574.5h0M207.2 574.1h0M237.5 573.5h0M227.0 576.9h0M265.5 577.9h0M221.0 581.5h0M236.9 581.1h0M241.6 580.4h0M145.8 584.0h0M153.8 582.3h0M179.5 583.6h0M182.6 583.7h0M229.6 583.9h0M152.2 585.5h0M206.0 584.9h0M223.5 585.7h0M252.4 585.1h0M215.5 587.0h0M243.1 587.0h0M203.0 590.2h0M169.1 593.1h0M192.5 592.7h0M215.4 592.7h0M245.8 592.4h0M180.7 593.8h0M229.8 594.7h0M247.1 594.1h0M159.8 597.1h0M148.3 598.0h0M178.3 599.8h0M221.2 598.0h0M263.0 598.2h0M164.6 601.1h0M257.7 601.5h0M153.5 604.0h0M223.9 603.4h0M148.3 607.7h0M208.4 607.7h0M211.8 606.9h0M244.6 607.4h0M249.7 607.8h0M255.2 606.9h0M163.6 609.5h0M172.1 610.5h0M179.1 610.9h0M182.5 609.9h0M256.9 610.2h0M181.2 612.0h0M190.8 612.5h0M199.3 611.4h0M174.3 614.6h0M195.4 614.6h0M214.8 614.8h0M243.7 615.0h0M246.5 613.9h0M260.9 615.0h0M157.6 616.4h0M199.0 616.3h0M232.5 616.7h0M151.1 618.5h0M174.7 618.4h0M180.2 619.5h0" stroke="#3244b4" stroke-width="1.5" stroke-linecap="round"/><path d="M224.8 525.5h0M227.8 524.9h0M246.5 524.8h0M144.6 526.2h0M155.9 527.5h0M158.7 526.3h0M183.7 526.3h0M196.9 527.8h0M217.4 527.1h0M242.3 527.5h0M250.3 527.8h0M181.6 529.4h0M187.6 528.4h0M214.5 529.0h0M217.7 529.7h0M242.8 528.5h0M244.9 529.7h0M247.8 529.8h0M251.4 529.6h0M255.2 528.6h0M261.1 530.0h0M265.7 528.4h0M167.1 531.6h0M185.5 531.8h0M187.5 531.5h0M204.3 531.5h0M221.0 531.7h0M238.5 531.4h0M242.9 530.9h0M244.8 531.7h0M247.2 531.8h0M254.5 530.8h0M257.7 530.6h0M259.4 532.4h0M148.9 533.4h0M156.5 532.9h0M159.8 532.8h0M171.3 533.6h0M185.0 534.5h0M197.8 533.0h0M225.6 533.6h0M239.0 534.2h0M145.1 535.9h0M148.5 535.7h0M192.7 535.7h0M218.8 536.1h0M229.8 535.4h0M236.2 536.7h0M241.2 535.9h0M158.9 537.6h0M174.4 538.7h0M176.1 538.2h0M179.1 537.7h0M191.3 537.5h0M235.7 537.3h0M243.8 537.9h0M256.9 538.0h0M193.8 539.6h0M198.9 539.9h0M200.3 541.3h0M206.3 539.7h0M219.4 540.9h0M222.4 540.3h0M228.6 539.9h0M239.5 540.5h0M255.3 540.7h0M264.4 540.4h0M169.0 543.6h0M179.1 543.1h0M191.6 541.9h0M196.5 542.3h0M217.0 543.5h0M223.3 543.0h0M238.8 542.6h0M244.0 542.4h0M251.0 542.2h0M263.4 543.7h0M157.4 544.5h0M176.0 545.4h0M188.7 544.8h0M195.5 544.5h0M221.2 544.6h0M223.4 544.9h0M227.3 544.3h0M229.8 545.2h0M245.2 545.1h0M249.1 545.9h0M225.0 547.7h0M232.4 547.9h0M246.5 548.2h0M249.2 548.0h0M264.1 547.9h0M158.6 550.0h0M163.4 549.8h0M165.0 549.1h0M168.8 548.6h0M176.2 549.3h0M202.9 550.1h0M210.5 549.9h0M216.9 550.1h0M235.2 549.3h0M149.4 551.6h0M152.2 551.4h0M202.2 551.0h0M211.9 552.5h0M223.2 551.7h0M224.5 551.5h0M242.7 551.7h0M255.3 551.8h0M262.0 552.4h0M158.1 554.0h0M168.1 553.7h0M183.8 553.3h0M216.2 553.5h0M237.4 553.6h0M249.1 554.3h0M194.4 557.2h0M207.0 556.8h0M210.0 556.0h0M214.4 557.0h0M217.9 556.1h0M261.2 555.8h0M147.2 559.3h0M157.8 557.8h0M166.3 557.7h0M178.5 557.6h0M183.7 557.9h0M190.9 558.5h0M200.2 559.3h0M212.1 558.3h0M257.2 558.5h0M143.2 560.1h0M163.3 561.1h0M172.5 560.0h0M225.5 561.4h0M236.0 561.2h0M238.4 560.3h0M250.4 561.4h0M157.1 563.4h0M254.6 562.3h0M263.0 562.7h0M144.4 564.6h0M154.1 566.0h0M173.9 564.7h0M188.8 564.6h0M202.1 564.4h0M204.8 565.8h0M226.2 564.8h0M236.5 566.0h0M240.6 564.5h0M154.6 566.9h0M188.9 567.2h0M190.9 567.1h0M201.6 568.2h0M229.8 567.0h0M247.3 567.0h0M146.0 570.4h0M159.8 570.1h0M163.8 570.5h0M166.4 570.6h0M172.7 570.2h0M176.8 568.9h0M186.9 569.5h0M190.1 570.3h0M215.7 569.2h0M228.3 569.5h0M231.2 569.8h0M243.2 569.9h0M160.6 571.4h0M162.2 571.3h0M175.4 571.6h0M183.8 571.3h0M186.7 571.1h0M190.2 572.8h0M201.3 571.2h0M208.2 572.6h0M218.8 571.1h0M227.3 572.3h0M233.9 572.1h0M242.7 572.4h0M262.7 572.5h0M153.9 573.7h0M159.8 574.3h0M167.6 575.0h0M253.1 574.6h0M260.2 573.4h0M150.4 575.5h0M153.4 576.4h0M155.4 577.2h0M157.9 575.6h0M163.1 577.0h0M181.0 576.6h0M214.3 577.0h0M216.1 577.1h0M223.3 575.6h0M233.9 577.3h0M247.4 575.8h0M253.1 577.4h0M255.5 577.2h0M156.8 578.2h0M199.2 578.6h0M208.4 578.5h0M225.0 577.8h0M229.9 578.6h0M258.6 579.5h0M261.9 579.1h0M182.8 580.9h0M200.3 580.7h0M214.2 580.3h0M227.0 580.7h0M246.2 580.7h0M249.0 580.9h0M260.1 580.1h0M174.2 584.0h0M205.5 583.5h0M244.9 582.5h0M252.9 582.8h0M145.6 584.8h0M147.3 586.0h0M194.1 584.7h0M226.8 585.8h0M261.9 585.5h0M148.1 587.0h0M184.9 586.9h0M197.1 587.7h0M240.9 588.6h0M245.3 588.1h0M265.8 586.7h0M147.0 589.7h0M180.6 590.5h0M182.5 589.9h0M211.8 589.1h0M217.0 589.1h0M221.4 590.5h0M227.5 590.1h0M233.5 590.6h0M152.3 592.2h0M171.6 592.4h0M190.2 591.3h0M194.9 591.2h0M204.2 591.5h0M207.8 593.0h0M240.5 591.6h0M255.2 591.5h0M153.6 593.9h0M161.0 594.2h0M163.0 594.0h0M168.3 594.1h0M201.2 593.5h0M206.1 594.7h0M209.4 595.2h0M213.3 594.3h0M217.4 593.8h0M241.8 594.8h0M249.5 594.5h0M253.0 594.7h0M261.7 593.8h0M148.4 597.2h0M151.2 596.8h0M169.3 597.1h0M178.7 596.6h0M185.2 596.9h0M187.9 596.2h0M203.2 596.2h0M210.0 597.3h0M228.0 597.5h0M164.8 599.1h0M179.9 598.0h0M189.2 599.7h0M195.6 599.5h0M230.9 598.5h0M236.4 599.5h0M244.9 598.8h0M264.2 598.2h0M143.2 602.0h0M177.5 600.8h0M190.1 600.6h0M192.7 600.9h0M217.4 602.0h0M240.0 602.0h0M145.7 602.5h0M167.4 603.7h0M174.0 602.9h0M184.0 603.3h0M191.6 604.0h0M199.4 603.1h0M214.0 603.3h0M171.8 605.7h0M180.1 606.4h0M190.4 604.9h0M191.7 605.2h0M207.2 604.8h0M246.3 605.4h0M151.0 607.7h0M168.4 607.5h0M183.8 607.1h0M199.4 608.2h0M200.3 608.5h0M213.3 608.8h0M262.0 607.9h0M144.0 610.7h0M149.6 610.0h0M169.9 610.3h0M186.6 609.9h0M191.5 610.1h0M235.8 610.7h0M240.4 610.7h0M242.7 609.1h0M249.1 609.3h0M257.7 610.2h0M264.6 610.0h0M150.1 612.6h0M186.8 612.5h0M197.0 611.5h0M213.4 612.8h0M222.1 611.5h0M149.2 614.1h0M156.2 614.1h0M219.4 614.9h0M222.4 615.4h0M235.4 615.1h0M263.9 614.6h0M176.1 616.8h0M186.1 616.6h0M188.9 616.9h0M191.3 617.0h0M194.1 616.4h0M213.4 617.5h0M233.7 617.3h0M249.5 617.7h0M254.8 616.4h0M154.1 618.2h0M171.8 619.3h0M185.4 619.3h0M197.8 618.8h0M204.4 619.7h0M209.7 619.1h0M215.2 618.2h0M233.2 619.2h0M234.7 619.5h0M241.3 619.7h0M243.6 619.5h0M265.5 618.5h0" stroke="#3244b4" stroke-width="2.0" stroke-linecap="round"/><path d="M151.7 525.2h0M170.9 526.8h0M213.9 528.0h0M219.8 527.8h0M237.8 527.7h0M154.3 529.7h0M191.1 532.1h0M162.1 533.6h0M166.9 533.7h0M179.6 533.4h0M207.7 534.4h0M227.9 533.5h0M235.2 534.0h0M251.8 534.0h0M255.3 533.7h0M168.4 536.7h0M256.9 535.6h0M185.3 537.7h0M220.4 539.2h0M158.0 541.3h0M173.6 540.7h0M175.0 540.3h0M257.0 540.9h0M212.8 543.0h0M227.6 541.9h0M151.1 544.1h0M192.3 547.9h0M206.8 548.1h0M147.6 548.6h0M149.4 550.3h0M178.5 550.0h0M222.1 550.4h0M241.4 550.3h0M158.4 550.9h0M179.7 551.7h0M227.1 551.5h0M172.4 554.8h0M200.7 553.8h0M214.5 553.7h0M169.2 556.4h0M178.9 555.3h0M230.5 556.2h0M173.9 558.2h0M181.1 559.4h0M188.7 559.0h0M231.2 558.2h0M255.7 560.3h0M165.8 563.7h0M188.9 563.0h0M214.8 562.2h0M219.5 563.5h0M192.9 566.1h0M206.9 565.2h0M209.2 564.6h0M196.3 566.8h0M227.2 566.5h0M238.0 570.4h0M144.1 572.5h0M211.6 572.6h0M246.9 572.3h0M264.7 571.7h0M152.1 573.5h0M173.5 574.8h0M189.3 574.5h0M219.9 574.3h0M249.1 575.1h0M144.3 577.0h0M194.0 576.5h0M230.0 576.9h0M187.4 579.6h0M195.1 577.8h0M212.0 577.8h0M222.4 579.6h0M147.2 581.4h0M170.8 580.2h0M219.1 580.4h0M240.2 580.1h0M151.6 584.0h0M192.9 583.7h0M208.2 583.2h0M218.6 583.6h0M155.7 586.1h0M158.2 585.9h0M176.4 584.5h0M185.7 584.6h0M196.1 585.0h0M238.9 585.5h0M247.8 585.4h0M258.2 584.5h0M181.2 587.4h0M206.7 588.5h0M227.7 588.1h0M238.1 586.9h0M250.2 588.1h0M256.5 588.1h0M154.7 589.5h0M163.7 590.5h0M239.3 590.3h0M243.9 589.5h0M251.9 589.4h0M146.9 592.7h0M149.1 592.1h0M180.1 591.9h0M209.8 591.8h0M173.4 594.9h0M175.4 593.7h0M236.4 593.5h0M146.6 596.3h0M175.1 596.7h0M225.9 597.5h0M243.1 597.5h0M162.0 598.8h0M170.4 599.2h0M210.9 598.9h0M250.2 599.3h0M154.8 601.9h0M167.5 602.0h0M182.9 600.5h0M263.0 601.2h0M148.2 603.0h0M150.7 604.0h0M158.0 604.0h0M235.2 602.9h0M200.7 605.5h0M204.4 606.2h0M209.9 604.7h0M220.3 605.1h0M233.3 606.0h0M250.1 605.6h0M159.5 608.0h0M165.5 607.0h0M178.4 607.4h0M179.8 607.7h0M205.7 607.8h0M177.1 609.1h0M197.2 610.1h0M225.9 609.4h0M144.4 612.8h0M158.8 613.3h0M194.2 611.5h0M219.5 612.3h0M159.7 614.9h0M187.1 614.2h0M193.1 613.7h0M238.6 613.6h0M248.3 614.6h0M163.2 615.9h0M165.3 615.9h0M209.2 617.1h0M216.7 616.9h0M219.1 616.1h0M264.4 616.5h0M159.4 618.2h0M177.2 618.4h0" stroke="#3244b4" stroke-width="2.5" stroke-linecap="round"/><path d="M165.0 525.7h0M185.4 525.7h0M175.5 526.3h0M178.2 527.7h0M227.6 527.5h0M257.9 528.0h0M262.9 526.9h0M232.8 528.5h0M253.7 529.9h0M263.5 529.1h0M171.4 530.7h0M172.4 531.1h0M218.3 532.1h0M191.4 534.7h0M215.7 533.1h0M180.6 536.9h0M209.1 540.4h0M223.7 540.7h0M149.7 543.3h0M167.2 542.9h0M175.1 543.3h0M190.0 543.0h0M194.4 543.4h0M235.9 542.9h0M163.2 544.5h0M183.9 544.5h0M182.5 547.0h0M185.1 547.0h0M193.9 547.9h0M205.7 547.3h0M152.9 550.2h0M205.6 549.9h0M228.6 550.3h0M243.8 549.0h0M252.2 548.7h0M143.2 552.0h0M181.4 551.3h0M232.2 551.3h0M164.5 554.3h0M190.2 554.9h0M256.5 557.1h0M160.3 557.9h0M214.1 558.6h0M216.9 558.7h0M194.3 561.4h0M160.4 563.5h0M178.6 565.2h0M186.6 564.9h0M219.7 564.9h0M150.2 571.9h0M181.0 571.9h0M199.5 571.6h0M192.2 575.0h0M183.5 577.3h0M257.0 576.2h0M148.3 579.6h0M201.8 578.7h0M185.4 581.6h0M188.6 581.6h0M191.6 580.6h0M199.0 581.4h0M200.7 583.9h0M217.3 585.9h0M234.8 586.2h0M190.4 589.9h0M209.2 590.5h0M199.1 597.1h0M246.7 596.1h0M263.1 597.0h0M247.1 598.3h0M146.6 601.1h0M242.6 601.6h0M181.2 603.1h0M258.7 606.5h0M189.2 607.8h0M152.3 610.8h0M160.9 610.6h0M183.9 610.2h0M212.8 609.6h0M245.0 610.5h0M261.1 609.6h0M236.5 612.4h0M161.3 613.9h0M166.1 615.0h0M210.5 617.2h0" stroke="#3a4ec4" stroke-width="1.5" stroke-linecap="round"/><path d="M220.2 525.0h0M264.4 525.4h0M265.5 525.2h0M150.3 526.8h0M152.2 526.3h0M191.0 527.0h0M206.5 527.3h0M247.1 527.8h0M254.3 526.4h0M142.9 530.1h0M164.8 529.0h0M166.6 530.1h0M173.5 530.2h0M179.9 528.6h0M237.5 528.4h0M152.5 531.2h0M216.7 531.4h0M235.0 531.1h0M168.9 533.6h0M174.2 533.4h0M181.6 533.8h0M213.3 533.7h0M217.1 534.0h0M246.4 533.5h0M172.9 535.3h0M184.0 535.9h0M217.4 536.6h0M243.6 536.1h0M149.0 538.7h0M152.3 537.9h0M172.2 539.1h0M186.6 538.8h0M210.5 538.9h0M245.5 538.0h0M147.5 541.4h0M166.2 541.5h0M171.3 540.5h0M177.4 541.3h0M183.0 539.8h0M214.1 541.0h0M237.7 540.3h0M242.9 540.5h0M146.3 543.3h0M162.3 541.9h0M182.5 541.9h0M184.5 542.2h0M200.7 542.4h0M215.7 542.1h0M240.7 541.8h0M145.4 544.6h0M168.6 544.4h0M179.2 544.1h0M181.5 544.1h0M206.2 545.5h0M213.5 545.1h0M239.2 545.8h0M242.0 545.4h0M144.2 546.9h0M145.9 548.1h0M158.9 548.0h0M161.6 547.6h0M187.3 548.0h0M197.3 547.4h0M210.9 547.6h0M212.9 546.4h0M228.0 547.1h0M238.5 548.1h0M183.8 549.0h0M191.8 548.6h0M208.1 550.3h0M214.7 548.9h0M239.6 548.9h0M249.2 549.8h0M146.1 551.2h0M171.8 551.3h0M176.2 551.9h0M214.4 552.4h0M247.7 552.5h0M253.1 551.8h0M146.9 554.5h0M160.1 553.9h0M175.1 553.5h0M205.9 554.5h0M254.2 554.6h0M250.0 556.3h0M253.1 555.4h0M170.5 557.6h0M174.9 559.3h0M209.7 557.8h0M174.6 560.1h0M184.7 561.0h0M191.5 560.3h0M149.7 563.8h0M181.4 562.7h0M185.9 562.8h0M252.3 562.4h0M156.3 564.4h0M163.4 565.1h0M166.5 564.8h0M171.1 564.7h0M176.9 564.9h0M194.4 565.2h0M261.5 565.8h0M183.1 566.6h0M250.3 567.5h0M157.0 569.5h0M192.9 570.6h0M195.4 570.5h0M196.6 570.5h0M207.8 570.5h0M246.5 569.5h0M258.6 569.2h0M263.4 569.3h0M168.8 571.8h0M192.8 571.9h0M231.2 572.4h0M260.5 571.6h0M162.1 574.6h0M163.5 575.0h0M172.0 575.0h0M199.0 573.2h0M203.4 574.2h0M212.0 573.2h0M232.3 574.9h0M256.1 573.9h0M159.8 576.2h0M165.8 576.9h0M170.1 576.7h0M173.2 576.7h0M186.0 576.5h0M151.9 578.1h0M154.5 578.0h0M171.9 579.5h0M174.7 578.1h0M181.4 577.8h0M192.3 579.4h0M219.8 577.9h0M144.9 581.5h0M151.9 581.4h0M155.4 580.6h0M173.9 581.4h0M176.4 580.9h0M215.7 580.9h0M143.9 583.8h0M177.6 582.2h0M184.6 584.0h0M189.6 583.2h0M236.4 583.8h0M248.7 582.9h0M258.6 582.2h0M179.0 586.2h0M191.2 585.9h0M199.0 584.8h0M204.4 585.1h0M221.6 585.7h0M192.8 587.7h0M217.1 586.9h0M219.9 587.7h0M233.1 588.3h0M236.2 586.7h0M177.5 590.6h0M224.4 590.7h0M212.5 592.4h0M183.5 595.0h0M197.0 593.9h0M210.5 594.3h0M232.7 594.2h0M142.9 597.1h0M198.2 596.4h0M215.3 595.9h0M236.4 596.6h0M250.4 596.6h0M204.2 599.3h0M213.8 599.4h0M224.7 598.3h0M259.3 598.1h0M148.0 600.5h0M179.4 600.2h0M204.2 601.8h0M210.5 601.6h0M213.0 600.5h0M214.4 600.8h0M223.0 600.5h0M232.7 601.0h0M256.0 601.6h0M171.5 603.1h0M176.6 603.8h0M229.9 603.3h0M238.5 602.8h0M246.3 603.3h0M252.9 602.6h0M146.1 605.3h0M151.0 606.2h0M174.9 604.7h0M177.5 605.2h0M195.2 604.8h0M256.0 605.4h0M173.7 607.8h0M175.0 608.5h0M246.4 608.4h0M256.7 607.0h0M264.5 607.1h0M146.8 609.8h0M194.8 609.7h0M200.6 610.1h0M215.1 610.8h0M250.2 610.6h0M170.8 612.4h0M174.9 611.9h0M178.4 612.8h0M189.0 612.0h0M203.5 612.1h0M177.1 615.0h0M190.0 615.0h0M211.0 615.0h0M253.1 614.1h0M161.2 616.9h0M179.0 616.3h0M184.2 617.4h0M247.2 616.3h0M144.7 618.9h0M192.0 618.9h0M208.4 618.6h0" stroke="#3a4ec4" stroke-width="2.0" stroke-linecap="round"/><path d="M180.1 525.6h0M204.7 525.0h0M167.3 527.8h0M201.2 526.6h0M251.6 527.0h0M161.6 530.2h0M150.5 532.3h0M175.0 532.1h0M207.2 532.1h0M143.1 533.4h0M145.7 534.7h0M150.8 534.6h0M154.3 533.9h0M176.2 533.3h0M214.4 535.4h0M214.8 539.0h0M231.1 540.1h0M234.2 540.3h0M246.8 540.1h0M177.0 542.5h0M233.2 543.0h0M185.6 545.6h0M254.1 545.7h0M190.4 547.4h0M240.7 547.5h0M167.4 551.6h0M205.5 552.1h0M177.8 553.4h0M177.2 556.4h0M203.7 558.9h0M180.2 560.2h0M209.4 561.5h0M253.4 561.7h0M152.6 563.8h0M178.5 563.7h0M184.3 562.6h0M259.3 562.1h0M181.7 565.1h0M237.5 564.5h0M171.4 567.5h0M218.8 568.4h0M151.9 569.2h0M168.4 570.3h0M210.5 570.2h0M231.0 574.9h0M264.3 573.9h0M191.8 576.8h0M199.1 576.7h0M244.0 576.3h0M248.7 577.3h0M262.3 575.7h0M185.0 578.7h0M232.1 578.8h0M253.7 578.9h0M232.2 580.5h0M257.2 580.6h0M159.4 585.2h0M183.5 585.6h0M144.0 588.2h0M174.0 587.2h0M194.6 587.8h0M203.1 588.4h0M193.9 589.8h0M185.0 592.1h0M196.6 593.1h0M216.9 592.5h0M191.0 594.5h0M199.2 595.0h0M205.3 596.0h0M206.9 596.3h0M230.3 596.7h0M198.4 598.0h0M206.0 599.2h0M252.3 599.5h0M236.3 600.5h0M185.0 603.8h0M232.6 602.9h0M236.9 602.6h0M202.4 605.4h0M144.8 607.8h0M153.3 607.4h0M204.1 608.4h0M190.1 610.1h0M162.6 611.9h0M249.5 612.8h0M143.2 615.1h0M164.7 614.2h0M182.2 614.9h0M184.7 614.6h0M202.2 614.7h0M241.5 614.1h0M155.3 617.5h0M173.9 617.3h0M196.3 616.7h0M205.7 617.5h0M240.0 617.4h0M211.9 619.4h0M248.6 618.6h0" stroke="#3a4ec4" stroke-width="2.5" stroke-linecap="round"/><path d="M180.0 527.6h0M158.4 529.7h0M172.0 529.6h0M178.5 532.2h0M151.9 536.4h0M175.6 535.1h0M180.2 540.6h0M186.5 555.3h0M191.1 563.6h0M205.9 563.1h0M148.8 565.7h0M251.6 565.7h0M253.3 566.0h0M178.3 567.5h0M255.3 567.2h0M187.5 585.2h0M228.8 585.5h0M187.5 591.8h0M187.8 594.1h0M182.3 596.5h0M189.9 596.6h0M212.0 604.0h0M256.6 603.2h0M248.7 604.7h0M166.0 612.5h0M237.8 618.2h0" stroke="#4658d0" stroke-width="1.5" stroke-linecap="round"/><path d="M160.5 527.9h0M169.5 529.8h0M224.8 531.6h0M177.8 536.7h0M145.8 541.1h0M148.2 547.7h0M169.9 547.4h0M199.8 547.4h0M159.8 549.5h0M194.4 551.6h0M180.0 554.9h0M211.7 554.6h0M182.5 561.2h0M204.2 563.0h0M149.5 567.6h0M256.9 566.9h0M156.7 573.6h0M258.2 573.7h0M188.3 575.6h0M144.0 579.4h0M146.5 578.2h0M176.2 578.6h0M230.0 581.6h0M225.5 583.5h0M228.2 583.7h0M232.3 582.7h0M231.4 585.5h0M186.6 589.8h0M187.8 589.8h0M220.0 592.7h0M178.8 594.1h0M194.5 594.9h0M219.6 594.6h0M192.1 595.8h0M249.1 596.2h0M191.7 599.5h0M187.7 601.3h0M253.6 601.5h0M207.0 602.4h0M208.1 602.6h0M248.7 603.9h0M254.2 603.9h0M182.6 605.9h0M186.7 606.2h0M260.6 604.8h0M186.2 607.1h0M260.2 607.5h0M165.9 610.3h0M207.8 610.6h0M206.0 612.0h0M216.2 613.0h0M168.9 613.7h0M205.4 615.0h0M206.6 614.0h0M212.6 613.7h0M181.1 616.2h0M217.1 618.8h0" stroke="#4658d0" stroke-width="2.0" stroke-linecap="round"/><path d="M165.6 526.5h0M148.4 545.6h0M165.0 547.1h0M178.8 547.4h0M144.8 549.4h0M194.1 549.9h0M200.0 550.9h0M181.8 556.0h0M176.4 560.2h0M257.1 562.8h0M153.3 566.7h0M168.7 568.3h0M259.1 568.1h0M262.1 568.1h0M264.2 566.5h0M260.3 569.8h0M187.5 574.9h0M147.3 577.2h0M232.7 576.0h0M260.0 577.0h0M190.6 578.4h0M181.6 592.0h0M237.3 600.9h0M144.0 605.2h0M253.0 606.4h0M251.6 607.9h0M253.2 610.5h0M168.9 611.8h0M208.5 613.2h0M211.6 613.1h0M203.7 617.4h0M241.8 617.3h0" stroke="#4658d0" stroke-width="2.5" stroke-linecap="round"/></g>
<path d="M183.0 561.0h0M198.0 566.0h0M202.0 563.0h0M205.0 566.0h0M178.0 573.0h0M213.0 560.0h0M186.0 581.0h0M149.0 569.0h0M156.0 528.0h0M231.0 590.0h0" stroke="#80f0d8" stroke-width="1.7" stroke-linecap="round" opacity="0.85"/>
</g>
<line x1="220.50" y1="517.00" x2="258.80" y2="517.00" stroke="#fff" stroke-width="2.5" />
<text x="240.00" y="513.40" font-size="9.4" font-weight="bold" text-anchor="middle" fill="#fff" textLength="32.5" lengthAdjust="spacingAndGlyphs"  stroke="#fff" stroke-width="0.15">100 μm</text>
<line x1="220.50" y1="610.00" x2="258.80" y2="610.00" stroke="#fff" stroke-width="2.5" />
<text x="240.00" y="606.60" font-size="9.4" font-weight="bold" text-anchor="middle" fill="#fff" textLength="32.5" lengthAdjust="spacingAndGlyphs"  stroke="#fff" stroke-width="0.15">100 μm</text>
<text transform="translate(12.9,477.8) rotate(-90)" font-size="9.5" font-weight="bold" text-anchor="middle"><tspan fill="#e2252b">Ki67</tspan><tspan fill="#3b55a5"> nuclei</tspan></text>
<text transform="translate(12.9,576.3) rotate(-90)" font-size="9.8" font-weight="bold" text-anchor="middle"><tspan fill="#6dbd45">TUNEL</tspan><tspan fill="#3b55a5"> nuclei</tspan></text>
<text x="280.60" y="421.80" font-size="13.8" font-weight="bold" text-anchor="start" fill="#111"  stroke="#111" stroke-width="0.15">K</text>
<rect x="313.25" y="429.00" width="76.00" height="141.50" fill="none" stroke="#111" stroke-width="1.6" />
<line x1="308.25" y1="570.50" x2="313.25" y2="570.50" stroke="#111" stroke-width="1.6" />
<text transform="translate(307.45,573.79) scale(0.96,1)" font-size="9.4" font-weight="bold" text-anchor="end" fill="#111"  stroke="#111" stroke-width="0.15">0</text>
<line x1="308.25" y1="535.12" x2="313.25" y2="535.12" stroke="#111" stroke-width="1.6" />
<text transform="translate(307.45,538.41) scale(0.96,1)" font-size="9.4" font-weight="bold" text-anchor="end" fill="#111"  stroke="#111" stroke-width="0.15">20</text>
<line x1="308.25" y1="499.75" x2="313.25" y2="499.75" stroke="#111" stroke-width="1.6" />
<text transform="translate(307.45,503.04) scale(0.96,1)" font-size="9.4" font-weight="bold" text-anchor="end" fill="#111"  stroke="#111" stroke-width="0.15">40</text>
<line x1="308.25" y1="464.38" x2="313.25" y2="464.38" stroke="#111" stroke-width="1.6" />
<text transform="translate(307.45,467.67) scale(0.96,1)" font-size="9.4" font-weight="bold" text-anchor="end" fill="#111"  stroke="#111" stroke-width="0.15">60</text>
<line x1="308.25" y1="429.00" x2="313.25" y2="429.00" stroke="#111" stroke-width="1.6" />
<text transform="translate(307.45,432.29) scale(0.96,1)" font-size="9.4" font-weight="bold" text-anchor="end" fill="#111"  stroke="#111" stroke-width="0.15">80</text>
<line x1="333.10" y1="570.50" x2="333.10" y2="575.50" stroke="#111" stroke-width="1.6" />
<line x1="370.60" y1="570.50" x2="370.60" y2="575.50" stroke="#111" stroke-width="1.6" />
<line x1="333.10" y1="453.76" x2="333.10" y2="457.48" stroke="#231f20" stroke-width="1.5" />
<line x1="328.60" y1="453.76" x2="337.60" y2="453.76" stroke="#231f20" stroke-width="1.5" />
<rect x="323.20" y="457.48" width="19.80" height="113.02" fill="#231f20" stroke="none" stroke-width="0" />
<line x1="370.65" y1="516.02" x2="370.65" y2="523.45" stroke="#231f20" stroke-width="1.5" />
<line x1="366.15" y1="516.02" x2="375.15" y2="516.02" stroke="#231f20" stroke-width="1.5" />
<rect x="360.80" y="523.45" width="19.70" height="47.05" fill="#231f20" stroke="none" stroke-width="0" />
<text x="365.60" y="515.50" font-size="14.5" font-weight="bold" text-anchor="start" fill="#111" letter-spacing="0" stroke="#111" stroke-width="0.2">**</text>
<text transform="translate(338.6,581.3) rotate(-45)" font-size="9.6" font-weight="bold" text-anchor="end">Vehicle</text>
<text transform="translate(372.3,581.3) rotate(-45)" font-size="9.6" font-weight="bold" text-anchor="end">Darifenacin</text>
<text transform="translate(291.2,503.8) rotate(-90)" font-size="9.5" font-weight="bold" text-anchor="middle">Ki67<tspan dx="0.3" dy="-3.2" font-size="6.5">+</tspan><tspan dy="3.2"> nuclei per field</tspan></text>
<text x="403.30" y="421.80" font-size="13.8" font-weight="bold" text-anchor="start" fill="#111"  stroke="#111" stroke-width="0.15">L</text>
<rect x="432.50" y="429.00" width="77.00" height="141.50" fill="none" stroke="#111" stroke-width="1.6" />
<line x1="427.50" y1="570.50" x2="432.50" y2="570.50" stroke="#111" stroke-width="1.6" />
<text transform="translate(426.70,573.79) scale(0.96,1)" font-size="9.4" font-weight="bold" text-anchor="end" fill="#111"  stroke="#111" stroke-width="0.15">0</text>
<line x1="427.50" y1="542.20" x2="432.50" y2="542.20" stroke="#111" stroke-width="1.6" />
<text transform="translate(426.70,545.49) scale(0.96,1)" font-size="9.4" font-weight="bold" text-anchor="end" fill="#111"  stroke="#111" stroke-width="0.15">5</text>
<line x1="427.50" y1="513.90" x2="432.50" y2="513.90" stroke="#111" stroke-width="1.6" />
<text transform="translate(426.70,517.19) scale(0.96,1)" font-size="9.4" font-weight="bold" text-anchor="end" fill="#111"  stroke="#111" stroke-width="0.15">10</text>
<line x1="427.50" y1="485.60" x2="432.50" y2="485.60" stroke="#111" stroke-width="1.6" />
<text transform="translate(426.70,488.89) scale(0.96,1)" font-size="9.4" font-weight="bold" text-anchor="end" fill="#111"  stroke="#111" stroke-width="0.15">15</text>
<line x1="427.50" y1="457.30" x2="432.50" y2="457.30" stroke="#111" stroke-width="1.6" />
<text transform="translate(426.70,460.59) scale(0.96,1)" font-size="9.4" font-weight="bold" text-anchor="end" fill="#111"  stroke="#111" stroke-width="0.15">20</text>
<line x1="427.50" y1="429.00" x2="432.50" y2="429.00" stroke="#111" stroke-width="1.6" />
<text transform="translate(426.70,432.29) scale(0.96,1)" font-size="9.4" font-weight="bold" text-anchor="end" fill="#111"  stroke="#111" stroke-width="0.15">25</text>
<line x1="452.00" y1="570.50" x2="452.00" y2="575.50" stroke="#111" stroke-width="1.6" />
<line x1="490.00" y1="570.50" x2="490.00" y2="575.50" stroke="#111" stroke-width="1.6" />
<line x1="451.90" y1="543.62" x2="451.90" y2="546.73" stroke="#231f20" stroke-width="1.5" />
<line x1="447.40" y1="543.62" x2="456.40" y2="543.62" stroke="#231f20" stroke-width="1.5" />
<rect x="441.80" y="546.73" width="20.20" height="23.77" fill="#231f20" stroke="none" stroke-width="0" />
<line x1="490.00" y1="453.34" x2="490.00" y2="465.79" stroke="#231f20" stroke-width="1.5" />
<line x1="485.50" y1="453.34" x2="494.50" y2="453.34" stroke="#231f20" stroke-width="1.5" />
<rect x="480.00" y="465.79" width="20.00" height="104.71" fill="#231f20" stroke="none" stroke-width="0" />
<text x="482.60" y="452.31" font-size="14.5" font-weight="bold" text-anchor="start" fill="#111" letter-spacing="0" stroke="#111" stroke-width="0.2">***</text>
<text transform="translate(457.7,582) rotate(-45)" font-size="9.6" font-weight="bold" text-anchor="end">Vehicle</text>
<text transform="translate(491.3,580.7) rotate(-45)" font-size="9.6" font-weight="bold" text-anchor="end">Darifenacin</text>
<text transform="translate(411.3,502.5) rotate(-90)" font-size="9.5" font-weight="bold" text-anchor="middle">TUNEL<tspan dx="0.3" dy="-3.2" font-size="6.5">+</tspan><tspan dy="3.2"> nuclei per field</tspan></text></g></svg></body></html>
